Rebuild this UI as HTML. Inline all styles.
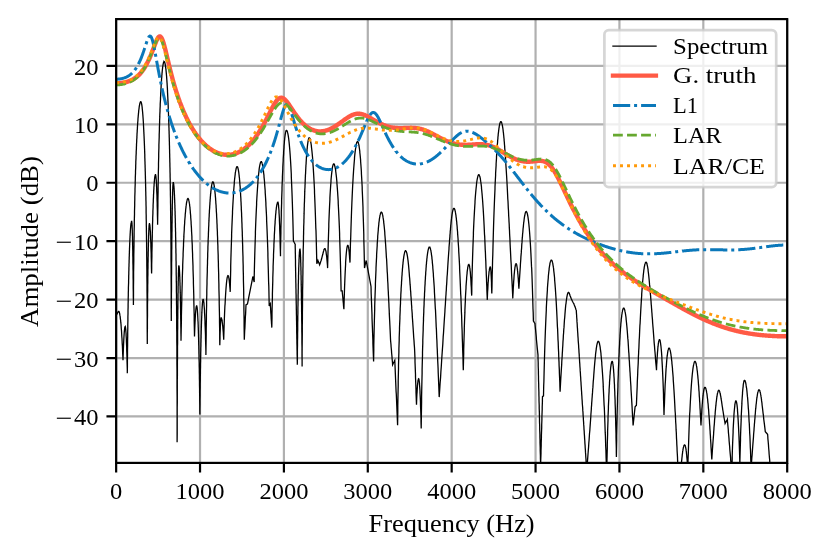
<!DOCTYPE html>
<html><head><meta charset="utf-8"><title>Spectrum</title>
<style>html,body{margin:0;padding:0;background:#fff}svg{display:block}</style></head>
<body>
<svg width="831" height="557" viewBox="0 0 831 557">
<rect width="831" height="557" fill="#fff"/>
<defs><clipPath id="ax"><rect x="116.15" y="19.1" width="671.0500000000001" height="443.79999999999995"/></clipPath></defs>
<path d="M116.15,19.1 V462.9 M200.03,19.1 V462.9 M283.91,19.1 V462.9 M367.79,19.1 V462.9 M451.68,19.1 V462.9 M535.56,19.1 V462.9 M619.44,19.1 V462.9 M703.32,19.1 V462.9 M787.20,19.1 V462.9 M116.15,65.87 H787.2 M116.15,124.30 H787.2 M116.15,182.73 H787.2 M116.15,241.16 H787.2 M116.15,299.59 H787.2 M116.15,358.03 H787.2 M116.15,416.46 H787.2" stroke="#b0b0b0" stroke-width="2.2" fill="none"/>
<g clip-path="url(#ax)" fill="none" stroke-linejoin="round">
<path d="M116.5,314.6 L117.1,313.8 L117.5,313.0 L117.8,312.4 L118.1,312.0 L118.3,311.6 L118.5,311.4 L118.7,311.4 L118.8,311.4 L118.9,311.5 L119.0,311.7 L119.2,312.0 L119.3,312.3 L119.4,312.8 L119.6,313.3 L119.7,313.8 L119.8,314.5 L119.9,315.2 L120.1,316.0 L120.2,316.9 L120.3,317.9 L120.4,319.0 L120.6,320.1 L120.7,321.4 L120.8,322.7 L121.0,324.1 L121.1,325.6 L121.2,327.2 L121.3,328.8 L121.5,330.6 L121.6,332.5 L121.7,334.4 L121.8,336.5 L122.0,338.7 L122.1,341.0 L122.2,343.4 L122.4,345.9 L122.5,348.5 L122.6,351.3 L122.7,354.1 L122.9,357.2 L123.0,360.3 L123.1,357.1 L123.2,354.1 L123.3,351.3 L123.4,348.6 L123.5,346.1 L123.6,343.8 L123.7,341.6 L123.8,339.6 L123.9,337.8 L124.0,336.1 L124.1,334.6 L124.2,333.1 L124.3,331.9 L124.4,330.7 L124.5,329.8 L124.6,328.9 L124.7,328.2 L124.8,327.6 L124.9,327.1 L125.0,326.8 L125.1,326.6 L125.2,326.5 L125.2,326.6 L125.3,326.7 L125.4,327.0 L125.5,327.4 L125.5,327.8 L125.6,328.4 L125.7,329.0 L125.8,329.8 L125.8,330.7 L125.9,331.6 L126.0,332.7 L126.1,333.9 L126.1,335.2 L126.2,336.6 L126.3,338.2 L126.4,339.8 L126.4,341.6 L126.5,343.5 L126.6,345.5 L126.7,347.6 L126.7,349.9 L126.8,352.3 L126.9,354.8 L127.0,357.5 L127.0,360.3 L127.1,363.3 L127.2,366.5 L127.3,369.8 L127.3,373.3 L127.4,367.0 L127.4,361.1 L127.5,355.6 L127.5,350.4 L127.6,345.5 L127.6,340.9 L127.7,336.5 L127.7,332.3 L127.8,328.2 L127.8,324.4 L127.9,320.7 L127.9,317.1 L128.0,313.7 L128.0,310.4 L128.1,307.3 L128.1,304.2 L128.2,301.2 L128.2,298.3 L128.3,295.6 L128.3,292.9 L128.4,290.3 L128.4,287.7 L128.5,285.3 L128.6,282.9 L128.6,280.6 L128.7,278.3 L128.7,276.1 L128.8,274.0 L128.8,272.0 L128.9,270.0 L128.9,268.0 L129.0,266.1 L129.0,264.3 L129.1,262.5 L129.1,260.7 L129.2,259.0 L129.2,257.4 L129.3,255.8 L129.3,254.2 L129.4,252.7 L129.4,251.3 L129.5,249.8 L129.5,248.5 L129.6,247.1 L129.6,245.8 L129.7,244.6 L129.7,243.3 L129.8,242.2 L129.8,241.0 L129.9,239.9 L129.9,238.8 L130.0,237.8 L130.0,236.8 L130.1,235.8 L130.1,234.9 L130.2,234.0 L130.2,233.1 L130.3,232.3 L130.3,231.5 L130.4,230.7 L130.4,230.0 L130.5,229.3 L130.5,228.6 L130.6,228.0 L130.6,227.4 L130.7,226.8 L130.7,226.2 L130.8,225.7 L130.8,225.2 L130.9,224.8 L130.9,224.4 L131.0,224.0 L131.0,223.6 L131.1,223.3 L131.1,222.9 L131.2,222.7 L131.3,222.4 L131.3,222.2 L131.4,222.0 L131.4,221.9 L131.5,221.7 L131.5,221.6 L131.6,221.6 L131.6,221.5 L131.7,221.5 L131.7,221.5 L131.7,221.6 L131.8,221.8 L131.8,222.0 L131.8,222.3 L131.9,222.7 L131.9,223.1 L132.0,223.6 L132.0,224.2 L132.0,224.8 L132.1,225.5 L132.1,226.3 L132.1,227.1 L132.2,228.0 L132.2,229.0 L132.3,230.0 L132.3,231.2 L132.3,232.4 L132.4,233.6 L132.4,235.0 L132.5,236.4 L132.5,237.9 L132.5,239.5 L132.6,241.1 L132.6,242.9 L132.6,244.7 L132.7,246.6 L132.7,248.7 L132.8,250.8 L132.8,253.0 L132.8,255.3 L132.9,257.7 L132.9,260.2 L132.9,262.8 L133.0,265.5 L133.0,268.4 L133.1,271.3 L133.1,274.4 L133.1,277.7 L133.2,281.0 L133.2,284.6 L133.2,288.3 L133.3,292.1 L133.3,296.2 L133.4,300.4 L133.4,304.9 L133.5,295.3 L133.5,287.0 L133.6,279.4 L133.6,272.6 L133.7,266.4 L133.8,260.6 L133.8,255.2 L133.9,250.2 L134.0,245.4 L134.0,240.9 L134.1,236.6 L134.1,232.5 L134.2,228.6 L134.3,224.9 L134.3,221.3 L134.4,217.9 L134.5,214.6 L134.5,211.4 L134.6,208.3 L134.7,205.3 L134.7,202.4 L134.8,199.6 L134.8,196.9 L134.9,194.2 L135.0,191.6 L135.0,189.1 L135.1,186.7 L135.2,184.3 L135.2,182.0 L135.3,179.8 L135.3,177.6 L135.4,175.5 L135.5,173.4 L135.5,171.3 L135.6,169.4 L135.7,167.4 L135.7,165.5 L135.8,163.7 L135.8,161.8 L135.9,160.1 L136.0,158.3 L136.0,156.6 L136.1,155.0 L136.2,153.4 L136.2,151.8 L136.3,150.2 L136.4,148.7 L136.4,147.2 L136.5,145.8 L136.5,144.4 L136.6,143.0 L136.7,141.6 L136.7,140.3 L136.8,139.0 L136.9,137.7 L136.9,136.5 L137.0,135.3 L137.0,134.1 L137.1,132.9 L137.2,131.8 L137.2,130.6 L137.3,129.6 L137.4,128.5 L137.4,127.5 L137.5,126.4 L137.5,125.5 L137.6,124.5 L137.7,123.5 L137.7,122.6 L137.8,121.7 L137.9,120.8 L137.9,120.0 L138.0,119.2 L138.0,118.4 L138.1,117.6 L138.2,116.8 L138.2,116.0 L138.3,115.3 L138.4,114.6 L138.4,113.9 L138.5,113.3 L138.6,112.6 L138.6,112.0 L138.7,111.4 L138.7,110.8 L138.8,110.2 L138.9,109.7 L138.9,109.2 L139.0,108.6 L139.1,108.2 L139.1,107.7 L139.2,107.2 L139.2,106.8 L139.3,106.4 L139.4,106.0 L139.4,105.6 L139.5,105.2 L139.6,104.9 L139.6,104.6 L139.7,104.3 L139.7,104.0 L139.8,103.7 L139.9,103.4 L139.9,103.2 L140.0,103.0 L140.1,102.8 L140.1,102.6 L140.2,102.4 L140.3,102.3 L140.3,102.2 L140.4,102.0 L140.4,102.0 L140.5,101.9 L140.6,101.8 L140.6,101.8 L140.7,101.7 L140.8,101.7 L140.8,101.7 L140.9,101.8 L140.9,101.8 L140.9,101.8 L141.0,101.9 L141.0,102.0 L141.1,102.1 L141.1,102.2 L141.2,102.3 L141.2,102.4 L141.3,102.6 L141.3,102.7 L141.4,102.9 L141.4,103.1 L141.5,103.3 L141.5,103.5 L141.6,103.7 L141.6,104.0 L141.7,104.2 L141.7,104.5 L141.8,104.8 L141.8,105.1 L141.9,105.4 L141.9,105.7 L142.0,106.1 L142.0,106.4 L142.1,106.8 L142.1,107.2 L142.2,107.6 L142.2,108.0 L142.2,108.4 L142.3,108.8 L142.3,109.3 L142.4,109.8 L142.4,110.3 L142.5,110.8 L142.5,111.3 L142.6,111.8 L142.6,112.4 L142.7,112.9 L142.7,113.5 L142.8,114.1 L142.8,114.7 L142.9,115.4 L142.9,116.0 L143.0,116.7 L143.0,117.4 L143.1,118.0 L143.1,118.8 L143.2,119.5 L143.2,120.2 L143.3,121.0 L143.3,121.8 L143.4,122.6 L143.4,123.4 L143.5,124.2 L143.5,125.1 L143.5,125.9 L143.6,126.8 L143.6,127.7 L143.7,128.7 L143.7,129.6 L143.8,130.6 L143.8,131.6 L143.9,132.6 L143.9,133.6 L144.0,134.6 L144.0,135.7 L144.1,136.8 L144.1,137.9 L144.2,139.0 L144.2,140.2 L144.3,141.4 L144.3,142.6 L144.4,143.8 L144.4,145.0 L144.5,146.3 L144.5,147.6 L144.6,148.9 L144.6,150.3 L144.7,151.7 L144.7,153.1 L144.8,154.5 L144.8,155.9 L144.8,157.4 L144.9,158.9 L144.9,160.5 L145.0,162.1 L145.0,163.7 L145.1,165.3 L145.1,167.0 L145.2,168.7 L145.2,170.5 L145.3,172.3 L145.3,174.1 L145.4,176.0 L145.4,177.9 L145.5,179.8 L145.5,181.8 L145.6,183.8 L145.6,185.9 L145.7,188.1 L145.7,190.3 L145.8,192.5 L145.8,194.8 L145.9,197.2 L145.9,199.6 L146.0,202.1 L146.0,204.6 L146.1,207.3 L146.1,210.0 L146.1,212.8 L146.2,215.6 L146.2,218.6 L146.3,221.7 L146.3,224.9 L146.4,228.2 L146.4,231.6 L146.5,235.2 L146.5,238.9 L146.6,242.8 L146.6,246.9 L146.7,251.2 L146.7,255.7 L146.8,260.5 L146.8,265.6 L146.9,271.1 L146.9,276.9 L147.0,283.3 L147.0,290.3 L147.1,298.1 L147.1,306.9 L147.2,317.0 L147.2,329.1 L147.3,344.1 L147.3,338.8 L147.3,333.7 L147.4,329.0 L147.4,324.4 L147.4,320.1 L147.5,316.0 L147.5,312.0 L147.5,308.3 L147.5,304.6 L147.6,301.1 L147.6,297.8 L147.6,294.6 L147.7,291.5 L147.7,288.5 L147.7,285.6 L147.8,282.8 L147.8,280.1 L147.8,277.5 L147.9,275.0 L147.9,272.6 L147.9,270.2 L148.0,267.9 L148.0,265.7 L148.0,263.6 L148.1,261.6 L148.1,259.6 L148.1,257.7 L148.2,255.8 L148.2,254.0 L148.2,252.3 L148.3,250.7 L148.3,249.0 L148.3,247.5 L148.4,246.0 L148.4,244.6 L148.4,243.2 L148.5,241.9 L148.5,240.6 L148.5,239.4 L148.6,238.2 L148.6,237.1 L148.6,236.0 L148.7,234.9 L148.7,234.0 L148.7,233.0 L148.8,232.1 L148.8,231.3 L148.8,230.5 L148.9,229.8 L148.9,229.1 L148.9,228.4 L149.0,227.8 L149.0,227.2 L149.0,226.7 L149.1,226.2 L149.1,225.8 L149.1,225.4 L149.2,225.0 L149.2,224.7 L149.2,224.4 L149.3,224.2 L149.3,224.0 L149.3,223.9 L149.4,223.7 L149.4,223.7 L149.4,223.7 L149.5,223.7 L149.6,223.9 L149.6,224.1 L149.7,224.5 L149.8,224.9 L149.9,225.5 L149.9,226.1 L150.0,226.9 L150.1,227.7 L150.1,228.7 L150.2,229.8 L150.3,230.9 L150.4,232.2 L150.4,233.6 L150.5,235.1 L150.6,236.8 L150.6,238.5 L150.7,240.4 L150.8,242.4 L150.9,244.5 L150.9,246.7 L151.0,249.1 L151.1,251.6 L151.2,254.2 L151.2,257.0 L151.3,260.0 L151.4,263.1 L151.4,266.4 L151.5,269.8 L151.6,273.5 L151.7,269.0 L151.7,264.7 L151.8,260.7 L151.9,256.8 L151.9,253.0 L152.0,249.4 L152.1,246.0 L152.1,242.7 L152.2,239.5 L152.3,236.4 L152.3,233.5 L152.4,230.7 L152.5,227.9 L152.5,225.3 L152.6,222.7 L152.7,220.3 L152.7,217.9 L152.8,215.6 L152.9,213.4 L152.9,211.3 L153.0,209.2 L153.1,207.3 L153.1,205.3 L153.2,203.5 L153.3,201.7 L153.3,200.0 L153.4,198.4 L153.5,196.8 L153.5,195.3 L153.6,193.9 L153.7,192.5 L153.7,191.1 L153.8,189.9 L153.9,188.6 L153.9,187.5 L154.0,186.4 L154.1,185.3 L154.1,184.3 L154.2,183.3 L154.3,182.5 L154.3,181.6 L154.4,180.8 L154.5,180.1 L154.5,179.4 L154.6,178.7 L154.7,178.1 L154.7,177.6 L154.8,177.1 L154.9,176.6 L154.9,176.2 L155.0,175.9 L155.1,175.6 L155.1,175.3 L155.2,175.1 L155.3,174.9 L155.3,174.8 L155.4,174.7 L155.5,174.7 L155.6,174.8 L155.6,174.9 L155.7,175.1 L155.8,175.5 L155.8,175.9 L155.9,176.4 L156.0,177.0 L156.0,177.7 L156.1,178.5 L156.2,179.5 L156.3,180.5 L156.3,181.6 L156.4,182.8 L156.5,184.1 L156.5,185.5 L156.6,187.0 L156.7,188.7 L156.7,190.4 L156.8,192.2 L156.9,194.2 L157.0,196.3 L157.0,198.5 L157.1,200.9 L157.2,203.3 L157.2,205.9 L157.3,208.7 L157.4,211.6 L157.4,214.6 L157.5,217.8 L157.6,221.2 L157.6,224.7 L157.7,218.1 L157.8,212.0 L157.9,206.3 L157.9,200.9 L158.0,195.9 L158.1,191.2 L158.1,186.7 L158.2,182.4 L158.3,178.3 L158.3,174.4 L158.4,170.6 L158.5,167.0 L158.5,163.5 L158.6,160.2 L158.7,157.0 L158.7,153.9 L158.8,150.8 L158.9,147.9 L158.9,145.1 L159.0,142.4 L159.1,139.7 L159.2,137.1 L159.2,134.6 L159.3,132.2 L159.4,129.8 L159.4,127.5 L159.5,125.3 L159.6,123.1 L159.6,121.0 L159.7,119.0 L159.8,116.9 L159.8,115.0 L159.9,113.1 L160.0,111.2 L160.0,109.4 L160.1,107.7 L160.2,105.9 L160.2,104.3 L160.3,102.6 L160.4,101.0 L160.5,99.5 L160.5,98.0 L160.6,96.5 L160.7,95.1 L160.7,93.7 L160.8,92.3 L160.9,91.0 L160.9,89.7 L161.0,88.4 L161.1,87.2 L161.1,86.0 L161.2,84.9 L161.3,83.7 L161.3,82.6 L161.4,81.6 L161.5,80.6 L161.5,79.6 L161.6,78.6 L161.7,77.7 L161.8,76.7 L161.8,75.9 L161.9,75.0 L162.0,74.2 L162.0,73.4 L162.1,72.6 L162.2,71.9 L162.2,71.2 L162.3,70.5 L162.4,69.8 L162.4,69.2 L162.5,68.6 L162.6,68.0 L162.6,67.4 L162.7,66.9 L162.8,66.4 L162.8,65.9 L162.9,65.5 L163.0,65.0 L163.1,64.6 L163.1,64.3 L163.2,63.9 L163.3,63.6 L163.3,63.3 L163.4,63.0 L163.5,62.8 L163.5,62.5 L163.6,62.3 L163.7,62.1 L163.7,62.0 L163.8,61.8 L163.9,61.7 L163.9,61.7 L164.0,61.6 L164.1,61.6 L164.1,61.5 L164.2,61.6 L164.2,61.6 L164.3,61.6 L164.3,61.6 L164.4,61.7 L164.4,61.8 L164.5,61.8 L164.5,61.9 L164.6,62.0 L164.6,62.2 L164.7,62.3 L164.7,62.4 L164.8,62.6 L164.8,62.7 L164.9,62.9 L164.9,63.1 L165.0,63.3 L165.0,63.5 L165.1,63.7 L165.1,64.0 L165.2,64.2 L165.2,64.5 L165.3,64.8 L165.3,65.0 L165.4,65.3 L165.4,65.6 L165.5,66.0 L165.5,66.3 L165.6,66.7 L165.6,67.0 L165.7,67.4 L165.7,67.8 L165.8,68.2 L165.8,68.6 L165.9,69.0 L165.9,69.5 L166.0,69.9 L166.0,70.4 L166.1,70.9 L166.1,71.4 L166.2,71.9 L166.2,72.4 L166.3,72.9 L166.3,73.5 L166.4,74.0 L166.4,74.6 L166.5,75.2 L166.5,75.8 L166.6,76.4 L166.6,77.1 L166.7,77.7 L166.7,78.4 L166.8,79.1 L166.8,79.7 L166.9,80.5 L166.9,81.2 L167.0,81.9 L167.0,82.7 L167.1,83.4 L167.1,84.2 L167.2,85.0 L167.2,85.8 L167.3,86.7 L167.3,87.5 L167.4,88.4 L167.4,89.3 L167.5,90.2 L167.5,91.1 L167.5,92.0 L167.6,93.0 L167.6,94.0 L167.7,94.9 L167.7,96.0 L167.8,97.0 L167.8,98.0 L167.9,99.1 L167.9,100.2 L168.0,101.3 L168.0,102.4 L168.1,103.6 L168.1,104.7 L168.2,105.9 L168.2,107.1 L168.3,108.4 L168.3,109.6 L168.4,110.9 L168.4,112.2 L168.5,113.5 L168.5,114.9 L168.6,116.3 L168.6,117.7 L168.7,119.1 L168.7,120.5 L168.8,122.0 L168.8,123.5 L168.9,125.1 L168.9,126.7 L169.0,128.3 L169.0,129.9 L169.1,131.5 L169.1,133.2 L169.2,135.0 L169.2,136.8 L169.3,138.6 L169.3,140.4 L169.4,142.3 L169.4,144.2 L169.5,146.2 L169.5,148.2 L169.6,150.2 L169.6,152.3 L169.7,154.5 L169.7,156.7 L169.8,159.0 L169.8,161.3 L169.9,163.7 L169.9,166.1 L170.0,168.6 L170.0,171.2 L170.1,173.9 L170.1,176.6 L170.2,179.4 L170.2,182.3 L170.3,185.3 L170.3,188.4 L170.4,191.7 L170.4,195.0 L170.5,198.5 L170.5,202.1 L170.6,205.9 L170.6,209.9 L170.7,214.1 L170.7,218.5 L170.8,223.2 L170.8,228.1 L170.9,233.4 L170.9,239.1 L171.0,245.3 L171.0,252.0 L171.0,259.5 L171.1,267.9 L171.1,277.6 L171.2,288.9 L171.2,302.9 L171.3,321.1 L171.3,315.1 L171.3,309.4 L171.4,304.1 L171.4,299.1 L171.4,294.3 L171.5,289.8 L171.5,285.5 L171.5,281.3 L171.5,277.4 L171.6,273.6 L171.6,270.0 L171.6,266.5 L171.6,263.2 L171.7,259.9 L171.7,256.8 L171.7,253.8 L171.7,250.9 L171.8,248.1 L171.8,245.4 L171.8,242.8 L171.8,240.2 L171.9,237.8 L171.9,235.4 L171.9,233.1 L172.0,230.8 L172.0,228.7 L172.0,226.6 L172.0,224.5 L172.1,222.6 L172.1,220.7 L172.1,218.8 L172.1,217.0 L172.2,215.3 L172.2,213.6 L172.2,212.0 L172.2,210.4 L172.3,208.9 L172.3,207.4 L172.3,206.0 L172.3,204.6 L172.4,203.3 L172.4,202.0 L172.4,200.8 L172.5,199.6 L172.5,198.5 L172.5,197.4 L172.5,196.3 L172.6,195.3 L172.6,194.3 L172.6,193.4 L172.6,192.5 L172.7,191.7 L172.7,190.9 L172.7,190.1 L172.7,189.4 L172.8,188.7 L172.8,188.0 L172.8,187.4 L172.8,186.8 L172.9,186.3 L172.9,185.8 L172.9,185.4 L173.0,184.9 L173.0,184.6 L173.0,184.2 L173.0,183.9 L173.1,183.6 L173.1,183.4 L173.1,183.2 L173.1,183.0 L173.2,182.9 L173.2,182.8 L173.2,182.8 L173.2,182.7 L173.3,182.7 L173.3,182.8 L173.3,182.8 L173.4,182.8 L173.4,182.9 L173.4,183.0 L173.4,183.1 L173.5,183.2 L173.5,183.3 L173.5,183.4 L173.6,183.5 L173.6,183.7 L173.6,183.9 L173.6,184.0 L173.7,184.2 L173.7,184.4 L173.7,184.7 L173.8,184.9 L173.8,185.1 L173.8,185.4 L173.8,185.7 L173.9,186.0 L173.9,186.3 L173.9,186.6 L174.0,186.9 L174.0,187.3 L174.0,187.6 L174.0,188.0 L174.1,188.4 L174.1,188.8 L174.1,189.2 L174.1,189.6 L174.2,190.1 L174.2,190.5 L174.2,191.0 L174.3,191.5 L174.3,192.0 L174.3,192.5 L174.3,193.1 L174.4,193.6 L174.4,194.2 L174.4,194.7 L174.5,195.3 L174.5,195.9 L174.5,196.6 L174.5,197.2 L174.6,197.9 L174.6,198.5 L174.6,199.2 L174.7,199.9 L174.7,200.6 L174.7,201.4 L174.7,202.1 L174.8,202.9 L174.8,203.7 L174.8,204.5 L174.9,205.3 L174.9,206.2 L174.9,207.0 L174.9,207.9 L175.0,208.8 L175.0,209.7 L175.0,210.6 L175.1,211.6 L175.1,212.6 L175.1,213.6 L175.1,214.6 L175.2,215.6 L175.2,216.6 L175.2,217.7 L175.3,218.8 L175.3,219.9 L175.3,221.0 L175.3,222.2 L175.4,223.4 L175.4,224.6 L175.4,225.8 L175.4,227.1 L175.5,228.3 L175.5,229.6 L175.5,230.9 L175.6,232.3 L175.6,233.7 L175.6,235.1 L175.6,236.5 L175.7,237.9 L175.7,239.4 L175.7,240.9 L175.8,242.5 L175.8,244.1 L175.8,245.7 L175.8,247.3 L175.9,249.0 L175.9,250.7 L175.9,252.4 L176.0,254.2 L176.0,256.0 L176.0,257.9 L176.0,259.8 L176.1,261.7 L176.1,263.7 L176.1,265.7 L176.2,267.8 L176.2,269.9 L176.2,272.1 L176.2,274.3 L176.3,276.6 L176.3,279.0 L176.3,281.4 L176.4,283.8 L176.4,286.4 L176.4,289.0 L176.4,291.7 L176.5,294.4 L176.5,297.3 L176.5,300.3 L176.5,303.3 L176.6,306.5 L176.6,309.7 L176.6,313.1 L176.7,316.7 L176.7,320.4 L176.7,324.2 L176.7,328.2 L176.8,332.5 L176.8,337.0 L176.8,341.7 L176.9,346.7 L176.9,352.1 L176.9,357.9 L176.9,364.2 L177.0,371.1 L177.0,378.7 L177.0,387.3 L177.1,397.1 L177.1,408.8 L177.1,423.2 L177.1,442.2 L177.2,434.1 L177.2,426.8 L177.2,420.1 L177.2,413.9 L177.2,408.1 L177.3,402.7 L177.3,397.6 L177.3,392.9 L177.3,388.3 L177.3,384.0 L177.3,379.8 L177.4,375.9 L177.4,372.1 L177.4,368.5 L177.4,365.0 L177.4,361.6 L177.5,358.4 L177.5,355.2 L177.5,352.2 L177.5,349.3 L177.5,346.4 L177.6,343.7 L177.6,341.0 L177.6,338.4 L177.6,335.9 L177.6,333.5 L177.6,331.1 L177.7,328.8 L177.7,326.6 L177.7,324.4 L177.7,322.3 L177.7,320.2 L177.8,318.2 L177.8,316.3 L177.8,314.4 L177.8,312.5 L177.8,310.7 L177.9,309.0 L177.9,307.2 L177.9,305.6 L177.9,304.0 L177.9,302.4 L177.9,300.9 L178.0,299.4 L178.0,297.9 L178.0,296.5 L178.0,295.1 L178.0,293.8 L178.1,292.5 L178.1,291.2 L178.1,290.0 L178.1,288.8 L178.1,287.7 L178.1,286.5 L178.2,285.4 L178.2,284.4 L178.2,283.4 L178.2,282.4 L178.2,281.4 L178.3,280.5 L178.3,279.6 L178.3,278.7 L178.3,277.9 L178.3,277.1 L178.4,276.3 L178.4,275.6 L178.4,274.9 L178.4,274.2 L178.4,273.5 L178.4,272.9 L178.5,272.3 L178.5,271.7 L178.5,271.2 L178.5,270.6 L178.5,270.2 L178.6,269.7 L178.6,269.3 L178.6,268.8 L178.6,268.5 L178.6,268.1 L178.7,267.8 L178.7,267.5 L178.7,267.2 L178.7,267.0 L178.7,266.7 L178.7,266.5 L178.8,266.4 L178.8,266.2 L178.8,266.1 L178.8,266.0 L178.8,266.0 L178.9,265.9 L178.9,265.9 L178.9,265.9 L179.0,266.0 L179.0,266.2 L179.1,266.5 L179.1,266.8 L179.2,267.1 L179.2,267.6 L179.3,268.1 L179.3,268.7 L179.4,269.4 L179.4,270.1 L179.5,270.9 L179.5,271.8 L179.6,272.7 L179.6,273.8 L179.7,274.9 L179.7,276.1 L179.8,277.3 L179.8,278.6 L179.9,280.1 L179.9,281.6 L180.0,283.1 L180.0,284.8 L180.1,286.6 L180.1,288.4 L180.2,290.3 L180.2,292.4 L180.3,294.5 L180.3,296.7 L180.4,299.1 L180.4,301.5 L180.5,304.0 L180.5,306.7 L180.6,309.5 L180.6,312.4 L180.7,315.4 L180.7,318.5 L180.8,321.9 L180.8,325.3 L180.9,328.9 L180.9,332.7 L181.0,336.7 L181.0,340.8 L181.1,335.3 L181.2,330.1 L181.3,325.2 L181.4,320.6 L181.4,316.2 L181.5,312.0 L181.6,308.0 L181.7,304.1 L181.8,300.4 L181.8,296.9 L181.9,293.5 L182.0,290.2 L182.1,287.0 L182.2,283.9 L182.3,281.0 L182.3,278.1 L182.4,275.3 L182.5,272.6 L182.6,270.0 L182.7,267.5 L182.7,265.0 L182.8,262.6 L182.9,260.3 L183.0,258.0 L183.1,255.8 L183.1,253.7 L183.2,251.6 L183.3,249.6 L183.4,247.6 L183.5,245.7 L183.5,243.9 L183.6,242.1 L183.7,240.3 L183.8,238.6 L183.9,236.9 L183.9,235.3 L184.0,233.7 L184.1,232.2 L184.2,230.7 L184.3,229.3 L184.3,227.9 L184.4,226.5 L184.5,225.2 L184.6,223.9 L184.7,222.6 L184.7,221.4 L184.8,220.2 L184.9,219.1 L185.0,218.0 L185.1,216.9 L185.2,215.8 L185.2,214.8 L185.3,213.9 L185.4,212.9 L185.5,212.0 L185.6,211.1 L185.6,210.3 L185.7,209.5 L185.8,208.7 L185.9,207.9 L186.0,207.2 L186.0,206.5 L186.1,205.9 L186.2,205.2 L186.3,204.6 L186.4,204.1 L186.4,203.5 L186.5,203.0 L186.6,202.5 L186.7,202.1 L186.8,201.6 L186.8,201.2 L186.9,200.9 L187.0,200.5 L187.1,200.2 L187.2,199.9 L187.2,199.7 L187.3,199.4 L187.4,199.2 L187.5,199.0 L187.6,198.9 L187.7,198.8 L187.7,198.7 L187.8,198.6 L187.9,198.6 L188.0,198.5 L188.1,198.6 L188.1,198.6 L188.2,198.7 L188.3,198.8 L188.4,198.9 L188.4,199.1 L188.5,199.3 L188.6,199.5 L188.7,199.7 L188.8,200.0 L188.8,200.3 L188.9,200.7 L189.0,201.0 L189.1,201.5 L189.2,201.9 L189.2,202.3 L189.3,202.8 L189.4,203.4 L189.5,203.9 L189.6,204.5 L189.6,205.1 L189.7,205.8 L189.8,206.5 L189.9,207.2 L190.0,207.9 L190.0,208.7 L190.1,209.5 L190.2,210.4 L190.3,211.3 L190.3,212.2 L190.4,213.1 L190.5,214.1 L190.6,215.1 L190.7,216.2 L190.7,217.3 L190.8,218.4 L190.9,219.6 L191.0,220.8 L191.1,222.0 L191.1,223.3 L191.2,224.6 L191.3,226.0 L191.4,227.4 L191.5,228.9 L191.5,230.4 L191.6,231.9 L191.7,233.5 L191.8,235.1 L191.9,236.8 L191.9,238.5 L192.0,240.3 L192.1,242.1 L192.2,244.0 L192.3,246.0 L192.3,248.0 L192.4,250.0 L192.5,252.1 L192.6,254.3 L192.6,256.5 L192.7,258.8 L192.8,261.2 L192.9,263.6 L193.0,266.2 L193.0,268.7 L193.1,271.4 L193.2,274.2 L193.3,277.0 L193.4,280.0 L193.4,283.1 L193.5,286.2 L193.6,289.5 L193.7,292.9 L193.8,296.4 L193.8,300.1 L193.9,303.9 L194.0,307.9 L194.1,312.1 L194.2,316.5 L194.2,321.1 L194.3,325.9 L194.4,331.0 L194.5,336.5 L194.6,333.5 L194.7,330.7 L194.8,328.0 L194.9,325.5 L195.0,323.2 L195.1,321.1 L195.2,319.1 L195.3,317.2 L195.4,315.5 L195.5,314.0 L195.6,312.6 L195.7,311.3 L195.8,310.2 L195.9,309.2 L196.0,308.3 L196.1,307.6 L196.2,307.0 L196.3,306.6 L196.4,306.2 L196.5,306.0 L196.6,306.0 L196.7,306.0 L196.7,306.1 L196.8,306.2 L196.8,306.3 L196.9,306.5 L197.0,306.8 L197.0,307.0 L197.1,307.4 L197.1,307.8 L197.2,308.2 L197.2,308.6 L197.3,309.2 L197.3,309.7 L197.4,310.3 L197.4,311.0 L197.5,311.7 L197.5,312.4 L197.6,313.2 L197.6,314.0 L197.7,314.9 L197.7,315.9 L197.8,316.9 L197.8,317.9 L197.9,319.0 L197.9,320.1 L198.0,321.3 L198.1,322.6 L198.1,323.8 L198.2,325.2 L198.2,326.6 L198.3,328.1 L198.3,329.6 L198.4,331.2 L198.4,332.8 L198.5,334.5 L198.5,336.3 L198.6,338.1 L198.6,340.0 L198.7,342.0 L198.7,344.0 L198.8,346.2 L198.8,348.3 L198.9,350.6 L198.9,353.0 L199.0,355.4 L199.0,357.9 L199.1,360.5 L199.2,363.2 L199.2,366.0 L199.3,368.9 L199.3,371.9 L199.4,375.0 L199.4,378.3 L199.5,381.6 L199.5,385.1 L199.6,388.8 L199.6,392.6 L199.7,396.6 L199.7,400.7 L199.8,405.1 L199.8,409.7 L199.9,414.5 L199.9,409.4 L200.0,404.7 L200.0,400.2 L200.1,395.8 L200.1,391.7 L200.2,387.8 L200.2,384.0 L200.3,380.4 L200.3,376.9 L200.4,373.6 L200.4,370.3 L200.5,367.2 L200.5,364.2 L200.6,361.4 L200.6,358.6 L200.7,355.9 L200.7,353.3 L200.8,350.8 L200.8,348.3 L200.9,346.0 L200.9,343.7 L201.0,341.5 L201.0,339.4 L201.1,337.4 L201.1,335.4 L201.2,333.5 L201.2,331.6 L201.3,329.8 L201.3,328.1 L201.4,326.4 L201.4,324.8 L201.5,323.3 L201.5,321.8 L201.6,320.4 L201.6,319.0 L201.7,317.7 L201.7,316.4 L201.8,315.2 L201.8,314.0 L201.9,312.9 L201.9,311.8 L202.0,310.7 L202.0,309.8 L202.1,308.8 L202.1,308.0 L202.2,307.1 L202.2,306.3 L202.3,305.6 L202.3,304.9 L202.4,304.2 L202.4,303.6 L202.5,303.0 L202.5,302.5 L202.6,302.0 L202.6,301.6 L202.7,301.2 L202.7,300.8 L202.8,300.5 L202.8,300.2 L202.9,300.0 L202.9,299.8 L203.0,299.7 L203.0,299.6 L203.1,299.5 L203.1,299.5 L203.2,299.5 L203.3,299.6 L203.4,299.9 L203.5,300.2 L203.5,300.5 L203.6,301.0 L203.7,301.6 L203.8,302.2 L203.9,302.9 L204.0,303.8 L204.0,304.7 L204.1,305.7 L204.2,306.8 L204.3,308.0 L204.4,309.3 L204.5,310.6 L204.5,312.1 L204.6,313.7 L204.7,315.4 L204.8,317.1 L204.9,319.0 L205.0,321.0 L205.0,323.1 L205.1,325.4 L205.2,327.7 L205.3,330.2 L205.4,332.8 L205.5,335.5 L205.5,338.3 L205.6,341.3 L205.7,344.5 L205.8,347.8 L205.9,351.3 L205.9,354.9 L206.0,347.7 L206.1,341.2 L206.2,335.1 L206.2,329.5 L206.3,324.2 L206.4,319.3 L206.4,314.6 L206.5,310.1 L206.6,305.9 L206.6,301.8 L206.7,298.0 L206.8,294.3 L206.8,290.7 L206.9,287.3 L207.0,283.9 L207.0,280.8 L207.1,277.7 L207.2,274.7 L207.3,271.8 L207.3,269.0 L207.4,266.3 L207.5,263.6 L207.5,261.1 L207.6,258.6 L207.7,256.2 L207.7,253.8 L207.8,251.5 L207.9,249.3 L207.9,247.1 L208.0,245.0 L208.1,243.0 L208.1,240.9 L208.2,239.0 L208.3,237.1 L208.4,235.2 L208.4,233.4 L208.5,231.6 L208.6,229.9 L208.6,228.2 L208.7,226.6 L208.8,225.0 L208.8,223.4 L208.9,221.9 L209.0,220.4 L209.0,218.9 L209.1,217.5 L209.2,216.1 L209.2,214.8 L209.3,213.4 L209.4,212.2 L209.4,210.9 L209.5,209.7 L209.6,208.5 L209.7,207.3 L209.7,206.2 L209.8,205.1 L209.9,204.0 L209.9,203.0 L210.0,202.0 L210.1,201.0 L210.1,200.0 L210.2,199.1 L210.3,198.2 L210.3,197.3 L210.4,196.5 L210.5,195.7 L210.5,194.9 L210.6,194.1 L210.7,193.3 L210.8,192.6 L210.8,191.9 L210.9,191.2 L211.0,190.6 L211.0,190.0 L211.1,189.4 L211.2,188.8 L211.2,188.3 L211.3,187.7 L211.4,187.2 L211.4,186.7 L211.5,186.3 L211.6,185.9 L211.6,185.4 L211.7,185.1 L211.8,184.7 L211.9,184.3 L211.9,184.0 L212.0,183.7 L212.1,183.5 L212.1,183.2 L212.2,183.0 L212.3,182.8 L212.3,182.6 L212.4,182.4 L212.5,182.3 L212.5,182.1 L212.6,182.0 L212.7,182.0 L212.7,181.9 L212.8,181.9 L212.9,181.9 L213.0,181.9 L213.0,181.9 L213.1,182.0 L213.2,182.1 L213.2,182.2 L213.3,182.3 L213.4,182.4 L213.5,182.6 L213.5,182.8 L213.6,183.1 L213.7,183.3 L213.7,183.6 L213.8,183.9 L213.9,184.2 L214.0,184.5 L214.0,184.9 L214.1,185.3 L214.2,185.7 L214.3,186.2 L214.3,186.6 L214.4,187.1 L214.5,187.6 L214.5,188.2 L214.6,188.8 L214.7,189.3 L214.8,190.0 L214.8,190.6 L214.9,191.3 L215.0,192.0 L215.0,192.7 L215.1,193.5 L215.2,194.2 L215.3,195.0 L215.3,195.9 L215.4,196.7 L215.5,197.6 L215.6,198.6 L215.6,199.5 L215.7,200.5 L215.8,201.5 L215.8,202.5 L215.9,203.6 L216.0,204.7 L216.1,205.8 L216.1,207.0 L216.2,208.2 L216.3,209.4 L216.3,210.7 L216.4,212.0 L216.5,213.3 L216.6,214.6 L216.6,216.0 L216.7,217.5 L216.8,219.0 L216.9,220.5 L216.9,222.0 L217.0,223.6 L217.1,225.3 L217.1,226.9 L217.2,228.6 L217.3,230.4 L217.4,232.2 L217.4,234.1 L217.5,236.0 L217.6,237.9 L217.6,239.9 L217.7,242.0 L217.8,244.1 L217.9,246.3 L217.9,248.5 L218.0,250.8 L218.1,253.2 L218.2,255.6 L218.2,258.1 L218.3,260.6 L218.4,263.3 L218.4,266.0 L218.5,268.8 L218.6,271.7 L218.7,274.7 L218.7,277.8 L218.8,281.0 L218.9,284.4 L218.9,287.8 L219.0,291.4 L219.1,295.1 L219.2,299.0 L219.2,303.1 L219.3,307.4 L219.4,311.8 L219.5,316.5 L219.5,321.5 L219.6,326.8 L219.7,332.5 L219.7,338.6 L219.8,345.2 L219.9,341.9 L220.0,338.8 L220.0,336.0 L220.1,333.5 L220.2,331.1 L220.3,328.9 L220.3,327.0 L220.4,325.2 L220.5,323.7 L220.6,322.3 L220.7,321.1 L220.7,320.1 L220.8,319.3 L220.9,318.7 L221.0,318.2 L221.0,318.0 L221.1,317.9 L221.3,318.0 L221.4,318.2 L221.6,318.5 L221.7,319.0 L221.9,319.7 L222.0,320.5 L222.2,321.5 L222.3,322.6 L222.5,323.8 L222.6,325.2 L222.8,326.8 L222.9,328.5 L223.1,330.4 L223.3,332.5 L223.4,334.7 L223.6,337.1 L223.7,339.7 L223.8,336.2 L223.9,332.9 L224.0,329.6 L224.1,326.5 L224.2,323.6 L224.3,320.7 L224.4,318.0 L224.5,315.4 L224.6,312.9 L224.7,310.5 L224.8,308.2 L224.9,306.0 L225.1,303.9 L225.2,301.8 L225.3,299.9 L225.4,298.0 L225.5,296.3 L225.6,294.6 L225.7,293.0 L225.8,291.5 L225.9,290.0 L226.0,288.6 L226.1,287.4 L226.2,286.1 L226.3,285.0 L226.4,283.9 L226.5,282.9 L226.6,281.9 L226.7,281.1 L226.8,280.2 L226.9,279.5 L227.0,278.8 L227.1,278.2 L227.2,277.7 L227.3,277.2 L227.4,276.8 L227.5,276.4 L227.6,276.2 L227.7,275.9 L227.8,275.8 L227.9,275.7 L228.0,275.6 L228.2,275.7 L228.4,276.0 L228.5,276.4 L228.7,276.9 L228.8,277.7 L229.0,278.6 L229.1,279.6 L229.3,280.8 L229.4,282.2 L229.6,283.8 L229.7,285.5 L229.9,287.5 L230.1,289.6 L230.2,291.9 L230.3,287.0 L230.4,282.4 L230.5,278.0 L230.6,273.7 L230.7,269.7 L230.7,265.9 L230.8,262.2 L230.9,258.6 L231.0,255.2 L231.1,251.9 L231.2,248.7 L231.3,245.7 L231.4,242.7 L231.5,239.8 L231.6,237.1 L231.6,234.4 L231.7,231.8 L231.8,229.3 L231.9,226.8 L232.0,224.4 L232.1,222.1 L232.2,219.9 L232.3,217.7 L232.4,215.6 L232.5,213.6 L232.5,211.6 L232.6,209.7 L232.7,207.8 L232.8,206.0 L232.9,204.2 L233.0,202.5 L233.1,200.8 L233.2,199.2 L233.3,197.7 L233.4,196.2 L233.4,194.7 L233.5,193.3 L233.6,191.9 L233.7,190.5 L233.8,189.2 L233.9,188.0 L234.0,186.8 L234.1,185.6 L234.2,184.4 L234.3,183.4 L234.3,182.3 L234.4,181.3 L234.5,180.3 L234.6,179.3 L234.7,178.4 L234.8,177.6 L234.9,176.7 L235.0,175.9 L235.1,175.2 L235.2,174.4 L235.2,173.7 L235.3,173.1 L235.4,172.4 L235.5,171.9 L235.6,171.3 L235.7,170.8 L235.8,170.3 L235.9,169.8 L236.0,169.4 L236.1,169.0 L236.1,168.6 L236.2,168.3 L236.3,168.0 L236.4,167.7 L236.5,167.5 L236.6,167.3 L236.7,167.1 L236.8,167.0 L236.9,166.9 L237.0,166.8 L237.0,166.7 L237.1,166.7 L237.2,166.7 L237.3,166.8 L237.3,166.8 L237.4,166.9 L237.5,167.0 L237.6,167.1 L237.6,167.2 L237.7,167.4 L237.8,167.6 L237.8,167.8 L237.9,168.0 L238.0,168.3 L238.0,168.5 L238.1,168.8 L238.2,169.1 L238.3,169.5 L238.3,169.8 L238.4,170.2 L238.5,170.6 L238.5,171.0 L238.6,171.5 L238.7,172.0 L238.8,172.5 L238.8,173.0 L238.9,173.5 L239.0,174.1 L239.0,174.7 L239.1,175.3 L239.2,175.9 L239.2,176.6 L239.3,177.2 L239.4,177.9 L239.5,178.7 L239.5,179.4 L239.6,180.2 L239.7,181.0 L239.7,181.9 L239.8,182.7 L239.9,183.6 L239.9,184.5 L240.0,185.4 L240.1,186.4 L240.2,187.4 L240.2,188.4 L240.3,189.5 L240.4,190.5 L240.4,191.6 L240.5,192.8 L240.6,193.9 L240.6,195.1 L240.7,196.4 L240.8,197.6 L240.9,198.9 L240.9,200.2 L241.0,201.6 L241.1,203.0 L241.1,204.4 L241.2,205.8 L241.3,207.3 L241.3,208.9 L241.4,210.4 L241.5,212.0 L241.6,213.7 L241.6,215.4 L241.7,217.1 L241.8,218.9 L241.8,220.7 L241.9,222.6 L242.0,224.5 L242.0,226.4 L242.1,228.4 L242.2,230.5 L242.3,232.6 L242.3,234.8 L242.4,237.0 L242.5,239.3 L242.5,241.6 L242.6,244.0 L242.7,246.5 L242.7,249.0 L242.8,251.7 L242.9,254.4 L243.0,257.2 L243.0,260.0 L243.1,263.0 L243.2,266.1 L243.2,269.3 L243.3,272.6 L243.4,276.0 L243.4,279.5 L243.5,283.2 L243.6,287.1 L243.7,291.1 L243.7,295.3 L243.8,299.7 L243.9,304.4 L243.9,309.3 L244.0,314.6 L244.1,320.1 L244.1,326.2 L244.2,332.7 L244.3,339.7 L244.4,337.4 L244.5,335.1 L244.6,332.8 L244.7,330.5 L244.9,328.1 L245.0,325.8 L245.1,323.5 L245.2,321.2 L245.3,318.8 L245.4,316.5 L245.6,314.2 L245.7,311.9 L245.8,309.5 L245.9,307.2 L246.0,304.9 L246.4,304.6 L246.8,304.3 L247.2,304.1 L247.5,303.8 L247.8,302.3 L248.1,300.8 L248.4,299.3 L248.7,297.7 L249.0,296.2 L249.3,294.7 L249.6,293.2 L249.9,291.7 L250.2,290.2 L250.5,288.6 L250.8,287.1 L251.1,285.6 L251.4,284.1 L251.7,282.6 L252.0,281.1 L252.3,279.5 L252.6,278.0 L252.8,276.5 L253.2,277.9 L253.5,279.2 L253.8,280.6 L254.2,282.0 L254.2,277.4 L254.3,273.0 L254.4,268.8 L254.5,264.7 L254.6,260.9 L254.7,257.2 L254.8,253.6 L254.9,250.2 L255.0,246.9 L255.1,243.7 L255.2,240.7 L255.3,237.7 L255.4,234.8 L255.4,232.1 L255.5,229.4 L255.6,226.8 L255.7,224.3 L255.8,221.8 L255.9,219.4 L256.0,217.1 L256.1,214.9 L256.2,212.7 L256.3,210.6 L256.4,208.6 L256.5,206.6 L256.6,204.7 L256.6,202.8 L256.7,201.0 L256.8,199.2 L256.9,197.5 L257.0,195.9 L257.1,194.3 L257.2,192.7 L257.3,191.2 L257.4,189.7 L257.5,188.3 L257.6,186.9 L257.7,185.5 L257.8,184.2 L257.9,183.0 L257.9,181.8 L258.0,180.6 L258.1,179.5 L258.2,178.4 L258.3,177.3 L258.4,176.3 L258.5,175.3 L258.6,174.4 L258.7,173.5 L258.8,172.6 L258.9,171.7 L259.0,170.9 L259.1,170.2 L259.1,169.5 L259.2,168.8 L259.3,168.1 L259.4,167.5 L259.5,166.9 L259.6,166.3 L259.7,165.8 L259.8,165.3 L259.9,164.8 L260.0,164.4 L260.1,164.0 L260.2,163.6 L260.3,163.3 L260.3,163.0 L260.4,162.7 L260.5,162.5 L260.6,162.3 L260.7,162.1 L260.8,162.0 L260.9,161.9 L261.0,161.8 L261.1,161.7 L261.2,161.7 L261.3,161.7 L261.3,161.8 L261.4,161.8 L261.5,161.9 L261.6,162.0 L261.7,162.2 L261.8,162.3 L261.9,162.5 L261.9,162.7 L262.0,163.0 L262.1,163.3 L262.2,163.5 L262.3,163.9 L262.4,164.2 L262.4,164.6 L262.5,165.0 L262.6,165.4 L262.7,165.8 L262.8,166.3 L262.9,166.8 L262.9,167.3 L263.0,167.9 L263.1,168.5 L263.2,169.1 L263.3,169.7 L263.4,170.4 L263.5,171.0 L263.5,171.8 L263.6,172.5 L263.7,173.3 L263.8,174.1 L263.9,174.9 L264.0,175.8 L264.0,176.7 L264.1,177.6 L264.2,178.5 L264.3,179.5 L264.4,180.5 L264.5,181.6 L264.6,182.7 L264.6,183.8 L264.7,184.9 L264.8,186.1 L264.9,187.3 L265.0,188.6 L265.1,189.8 L265.2,191.2 L265.2,192.5 L265.3,193.9 L265.4,195.3 L265.5,196.8 L265.6,198.3 L265.7,199.9 L265.8,201.4 L265.9,203.1 L265.9,204.8 L266.0,206.5 L266.1,208.2 L266.2,210.1 L266.3,211.9 L266.4,213.8 L266.5,215.8 L266.6,217.8 L266.6,219.9 L266.7,222.0 L266.8,224.2 L266.9,226.4 L267.0,228.7 L267.1,231.1 L267.2,233.6 L267.3,236.1 L267.4,238.7 L267.5,241.4 L267.6,244.1 L267.7,247.0 L267.8,249.9 L267.9,252.9 L267.9,256.1 L268.0,259.3 L268.1,262.7 L268.2,266.2 L268.3,269.8 L268.4,273.6 L268.5,277.6 L268.6,281.7 L268.8,286.1 L268.9,290.6 L269.0,295.5 L269.1,300.5 L269.2,306.0 L269.6,305.2 L269.9,304.5 L270.3,303.8 L270.4,306.0 L270.6,308.1 L270.7,310.3 L270.8,312.5 L271.0,314.6 L271.1,316.8 L271.2,319.0 L271.4,321.1 L271.5,323.3 L271.7,325.5 L271.8,327.6 L271.9,322.7 L272.0,318.0 L272.0,313.5 L272.1,309.2 L272.2,305.1 L272.3,301.2 L272.4,297.5 L272.4,293.9 L272.5,290.5 L272.6,287.1 L272.7,283.9 L272.8,280.8 L272.8,277.8 L272.9,274.9 L273.0,272.1 L273.1,269.4 L273.1,266.8 L273.2,264.3 L273.3,261.8 L273.4,259.4 L273.5,257.1 L273.5,254.9 L273.6,252.7 L273.7,250.6 L273.8,248.5 L273.9,246.5 L273.9,244.6 L274.0,242.7 L274.1,240.9 L274.2,239.1 L274.3,237.4 L274.3,235.7 L274.4,234.1 L274.5,232.5 L274.6,231.0 L274.7,229.6 L274.7,228.1 L274.8,226.7 L274.9,225.4 L275.0,224.1 L275.1,222.9 L275.1,221.6 L275.2,220.5 L275.3,219.3 L275.4,218.3 L275.5,217.2 L275.5,216.2 L275.6,215.2 L275.7,214.3 L275.8,213.4 L275.9,212.5 L275.9,211.7 L276.0,210.9 L276.1,210.2 L276.2,209.5 L276.3,208.8 L276.3,208.1 L276.4,207.5 L276.5,206.9 L276.6,206.4 L276.7,205.9 L276.7,205.4 L276.8,205.0 L276.9,204.6 L277.0,204.2 L277.1,203.9 L277.1,203.5 L277.2,203.3 L277.3,203.0 L277.4,202.8 L277.5,202.6 L277.5,202.5 L277.6,202.4 L277.7,202.3 L277.8,202.2 L277.9,202.2 L277.9,202.3 L278.0,202.4 L278.1,202.6 L278.2,202.9 L278.3,203.3 L278.3,203.8 L278.4,204.4 L278.5,205.1 L278.6,205.8 L278.6,206.7 L278.7,207.6 L278.8,208.7 L278.9,209.8 L279.0,211.0 L279.0,212.4 L279.1,213.8 L279.2,215.3 L279.3,217.0 L279.4,218.7 L279.4,220.6 L279.5,222.5 L279.6,224.6 L279.7,226.8 L279.7,229.1 L279.8,231.5 L279.9,234.1 L280.0,236.8 L280.1,239.7 L280.1,242.6 L280.2,245.8 L280.3,249.1 L280.4,252.5 L280.5,256.2 L280.5,251.2 L280.6,246.4 L280.7,241.9 L280.8,237.6 L280.9,233.6 L280.9,229.6 L281.0,225.9 L281.1,222.3 L281.2,218.8 L281.3,215.5 L281.3,212.2 L281.4,209.1 L281.5,206.1 L281.6,203.2 L281.6,200.4 L281.7,197.7 L281.8,195.1 L281.9,192.5 L282.0,190.1 L282.0,187.7 L282.1,185.3 L282.2,183.1 L282.3,180.9 L282.4,178.8 L282.4,176.7 L282.5,174.7 L282.6,172.8 L282.7,170.9 L282.8,169.1 L282.8,167.3 L282.9,165.6 L283.0,163.9 L283.1,162.3 L283.2,160.7 L283.2,159.2 L283.3,157.7 L283.4,156.3 L283.5,154.9 L283.6,153.6 L283.6,152.3 L283.7,151.0 L283.8,149.8 L283.9,148.6 L284.0,147.5 L284.0,146.4 L284.1,145.3 L284.2,144.3 L284.3,143.3 L284.4,142.4 L284.4,141.5 L284.5,140.7 L284.6,139.8 L284.7,139.0 L284.7,138.3 L284.8,137.6 L284.9,136.9 L285.0,136.2 L285.1,135.6 L285.1,135.0 L285.2,134.5 L285.3,134.0 L285.4,133.5 L285.5,133.1 L285.5,132.7 L285.6,132.3 L285.7,131.9 L285.8,131.6 L285.9,131.4 L285.9,131.1 L286.0,130.9 L286.1,130.7 L286.2,130.6 L286.3,130.5 L286.3,130.4 L286.4,130.3 L286.5,130.3 L286.6,130.3 L286.7,130.4 L286.8,130.5 L286.9,130.6 L287.0,130.8 L287.1,131.0 L287.2,131.2 L287.3,131.4 L287.4,131.7 L287.5,132.1 L287.6,132.4 L287.7,132.9 L287.8,133.3 L287.9,133.8 L288.0,134.3 L288.1,134.8 L288.2,135.4 L288.3,136.1 L288.4,136.7 L288.5,137.4 L288.6,138.2 L288.7,138.9 L288.8,139.8 L288.9,140.6 L289.0,141.5 L289.1,142.4 L289.2,143.4 L289.3,144.4 L289.4,145.5 L289.5,146.6 L289.6,147.7 L289.7,148.9 L289.8,150.2 L289.9,151.4 L290.0,152.8 L290.1,154.1 L290.2,155.5 L290.3,157.0 L290.4,158.5 L290.5,160.1 L290.6,161.7 L290.7,163.4 L290.8,165.1 L290.9,166.9 L291.0,168.7 L291.1,170.6 L291.2,172.5 L291.3,174.5 L291.3,176.6 L291.4,178.7 L291.5,181.0 L291.6,183.2 L291.7,185.6 L291.8,188.0 L291.9,190.5 L292.0,193.1 L292.1,195.8 L292.2,198.5 L292.3,201.4 L292.4,204.3 L292.5,207.4 L292.6,210.6 L292.7,213.9 L292.8,217.3 L292.9,220.8 L293.0,224.5 L293.1,228.4 L293.2,232.4 L293.3,236.6 L293.4,241.0 L293.8,241.6 L294.1,242.3 L294.5,242.9 L294.8,243.6 L295.2,244.2 L295.2,246.9 L295.3,249.6 L295.3,252.3 L295.4,254.9 L295.4,257.6 L295.5,260.3 L295.5,263.0 L295.5,265.6 L295.6,268.3 L295.6,271.0 L295.7,273.7 L295.7,276.4 L295.8,279.0 L295.8,281.7 L295.9,284.4 L295.9,287.1 L296.0,289.7 L296.0,292.4 L296.1,295.1 L296.1,297.8 L296.2,300.4 L296.2,303.1 L296.3,305.8 L296.3,308.5 L296.4,311.1 L296.4,313.8 L296.5,316.5 L296.5,319.2 L296.6,321.8 L296.6,324.5 L296.7,327.2 L296.7,329.9 L296.7,332.5 L296.8,335.2 L296.8,337.9 L296.9,340.6 L296.9,343.2 L297.0,345.9 L297.0,348.6 L297.1,351.3 L297.1,354.0 L297.2,356.6 L297.2,359.3 L297.3,362.0 L297.3,364.7 L297.4,359.5 L297.4,354.7 L297.4,350.1 L297.5,345.7 L297.5,341.5 L297.6,337.5 L297.6,333.6 L297.7,330.0 L297.7,326.4 L297.7,323.0 L297.8,319.8 L297.8,316.6 L297.9,313.6 L297.9,310.7 L297.9,307.8 L298.0,305.1 L298.0,302.5 L298.1,300.0 L298.1,297.5 L298.1,295.2 L298.2,292.9 L298.2,290.7 L298.3,288.5 L298.3,286.5 L298.3,284.5 L298.4,282.6 L298.4,280.7 L298.5,278.9 L298.5,277.2 L298.5,275.5 L298.6,273.9 L298.6,272.4 L298.7,270.9 L298.7,269.4 L298.7,268.1 L298.8,266.7 L298.8,265.5 L298.9,264.2 L298.9,263.1 L299.0,262.0 L299.0,260.9 L299.0,259.9 L299.1,258.9 L299.1,258.0 L299.2,257.1 L299.2,256.3 L299.2,255.5 L299.3,254.8 L299.3,254.1 L299.4,253.5 L299.4,252.9 L299.4,252.3 L299.5,251.8 L299.5,251.4 L299.6,251.0 L299.6,250.6 L299.6,250.3 L299.7,250.0 L299.7,249.8 L299.8,249.6 L299.8,249.4 L299.8,249.3 L299.9,249.2 L299.9,249.2 L300.0,249.2 L300.0,249.3 L300.0,249.4 L300.1,249.6 L300.1,249.8 L300.1,250.0 L300.2,250.3 L300.2,250.6 L300.2,251.0 L300.3,251.4 L300.3,251.9 L300.3,252.4 L300.4,252.9 L300.4,253.5 L300.4,254.2 L300.5,254.9 L300.5,255.6 L300.5,256.4 L300.6,257.2 L300.6,258.1 L300.6,259.0 L300.7,260.0 L300.7,261.0 L300.7,262.1 L300.8,263.2 L300.8,264.4 L300.8,265.6 L300.9,266.9 L300.9,268.3 L300.9,269.6 L301.0,271.1 L301.0,272.6 L301.0,274.2 L301.1,275.8 L301.1,277.5 L301.1,279.2 L301.2,281.0 L301.2,282.9 L301.2,284.9 L301.3,286.9 L301.3,289.0 L301.3,291.1 L301.4,293.4 L301.4,295.7 L301.4,298.1 L301.5,300.6 L301.5,303.1 L301.6,305.8 L301.6,308.5 L301.6,311.4 L301.7,314.4 L301.7,317.4 L301.7,320.6 L301.8,323.9 L301.8,327.4 L301.8,331.0 L301.9,334.7 L301.9,338.6 L301.9,342.7 L302.0,347.0 L302.0,351.5 L302.0,356.2 L302.1,361.1 L302.1,366.4 L302.1,353.8 L302.2,343.3 L302.3,334.2 L302.3,326.2 L302.4,319.0 L302.4,312.5 L302.5,306.5 L302.5,300.9 L302.6,295.7 L302.6,290.8 L302.7,286.2 L302.8,281.8 L302.8,277.7 L302.9,273.7 L302.9,270.0 L303.0,266.3 L303.0,262.8 L303.1,259.5 L303.1,256.3 L303.2,253.2 L303.2,250.1 L303.3,247.2 L303.4,244.4 L303.4,241.7 L303.5,239.0 L303.5,236.4 L303.6,233.9 L303.6,231.4 L303.7,229.1 L303.7,226.7 L303.8,224.5 L303.9,222.3 L303.9,220.1 L304.0,218.0 L304.0,215.9 L304.1,213.9 L304.1,212.0 L304.2,210.1 L304.2,208.2 L304.3,206.3 L304.3,204.5 L304.4,202.8 L304.5,201.1 L304.5,199.4 L304.6,197.7 L304.6,196.1 L304.7,194.5 L304.7,193.0 L304.8,191.4 L304.8,190.0 L304.9,188.5 L305.0,187.1 L305.0,185.7 L305.1,184.3 L305.1,182.9 L305.2,181.6 L305.2,180.3 L305.3,179.1 L305.3,177.8 L305.4,176.6 L305.4,175.4 L305.5,174.2 L305.6,173.1 L305.6,172.0 L305.7,170.9 L305.7,169.8 L305.8,168.7 L305.8,167.7 L305.9,166.7 L305.9,165.7 L306.0,164.7 L306.1,163.7 L306.1,162.8 L306.2,161.9 L306.2,161.0 L306.3,160.1 L306.3,159.3 L306.4,158.4 L306.4,157.6 L306.5,156.8 L306.5,156.1 L306.6,155.3 L306.7,154.6 L306.7,153.8 L306.8,153.1 L306.8,152.4 L306.9,151.8 L306.9,151.1 L307.0,150.5 L307.0,149.8 L307.1,149.2 L307.2,148.7 L307.2,148.1 L307.3,147.5 L307.3,147.0 L307.4,146.5 L307.4,146.0 L307.5,145.5 L307.5,145.0 L307.6,144.6 L307.6,144.1 L307.7,143.7 L307.8,143.3 L307.8,142.9 L307.9,142.5 L307.9,142.1 L308.0,141.8 L308.0,141.5 L308.1,141.1 L308.1,140.8 L308.2,140.5 L308.3,140.3 L308.3,140.0 L308.4,139.8 L308.4,139.5 L308.5,139.3 L308.5,139.1 L308.6,139.0 L308.6,138.8 L308.7,138.6 L308.7,138.5 L308.8,138.4 L308.9,138.3 L308.9,138.2 L309.0,138.1 L309.0,138.0 L309.1,138.0 L309.1,137.9 L309.2,137.9 L309.2,137.9 L309.3,137.9 L309.4,138.0 L309.5,138.0 L309.6,138.1 L309.7,138.3 L309.8,138.4 L309.9,138.6 L310.0,138.9 L310.1,139.1 L310.2,139.4 L310.3,139.7 L310.3,140.1 L310.4,140.4 L310.5,140.9 L310.6,141.3 L310.7,141.8 L310.8,142.3 L310.9,142.8 L311.0,143.4 L311.1,144.0 L311.2,144.6 L311.3,145.3 L311.4,146.0 L311.4,146.7 L311.5,147.4 L311.6,148.2 L311.7,149.1 L311.8,149.9 L311.9,150.8 L312.0,151.8 L312.1,152.7 L312.2,153.7 L312.3,154.8 L312.4,155.9 L312.5,157.0 L312.6,158.1 L312.7,159.3 L312.7,160.6 L312.8,161.8 L312.9,163.1 L313.0,164.5 L313.1,165.9 L313.2,167.3 L313.3,168.8 L313.4,170.3 L313.5,171.9 L313.6,173.5 L313.7,175.2 L313.8,176.9 L313.9,178.7 L314.0,180.5 L314.1,182.3 L314.2,184.3 L314.3,186.2 L314.4,188.3 L314.5,190.4 L314.5,192.5 L314.6,194.8 L314.7,197.0 L314.8,199.4 L314.9,201.8 L315.0,204.3 L315.1,206.9 L315.2,209.6 L315.3,212.3 L315.4,215.2 L315.5,218.1 L315.6,221.2 L315.7,224.3 L315.8,227.6 L316.0,230.9 L316.1,234.4 L316.2,238.1 L316.3,241.9 L316.4,245.9 L316.5,250.0 L316.6,254.4 L316.7,258.9 L316.8,263.7 L317.1,262.9 L317.4,262.1 L317.6,261.3 L317.9,260.5 L318.2,261.4 L318.6,262.2 L318.9,263.1 L319.3,263.9 L319.6,264.8 L320.2,263.2 L320.7,261.6 L321.2,260.2 L321.6,258.8 L321.9,257.6 L322.2,256.4 L322.5,255.3 L322.8,254.3 L323.0,253.4 L323.2,252.5 L323.4,251.8 L323.6,251.1 L323.8,250.5 L323.9,250.0 L324.1,249.6 L324.2,249.2 L324.4,248.9 L324.5,248.7 L324.7,248.6 L324.8,248.6 L325.0,248.6 L325.2,248.9 L325.4,249.2 L325.5,249.7 L325.7,250.4 L325.9,251.2 L326.1,252.2 L326.2,253.3 L326.4,254.6 L326.6,256.0 L326.8,257.6 L326.9,259.3 L327.1,261.3 L327.3,263.4 L327.5,265.6 L327.6,268.1 L327.7,263.8 L327.8,259.7 L327.9,255.8 L328.0,252.1 L328.1,248.5 L328.2,245.1 L328.3,241.7 L328.4,238.5 L328.5,235.4 L328.6,232.5 L328.7,229.6 L328.8,226.8 L328.8,224.1 L328.9,221.5 L329.0,219.0 L329.1,216.6 L329.2,214.2 L329.3,211.9 L329.4,209.7 L329.5,207.6 L329.6,205.5 L329.7,203.5 L329.8,201.6 L329.9,199.7 L329.9,197.9 L330.0,196.1 L330.1,194.4 L330.2,192.8 L330.3,191.2 L330.4,189.6 L330.5,188.2 L330.6,186.7 L330.7,185.3 L330.8,184.0 L330.9,182.7 L331.0,181.5 L331.0,180.3 L331.1,179.1 L331.2,178.0 L331.3,177.0 L331.4,176.0 L331.5,175.0 L331.6,174.1 L331.7,173.2 L331.8,172.4 L331.9,171.6 L332.0,170.8 L332.1,170.1 L332.2,169.4 L332.2,168.8 L332.3,168.2 L332.4,167.6 L332.5,167.1 L332.6,166.6 L332.7,166.2 L332.8,165.8 L332.9,165.4 L333.0,165.1 L333.1,164.8 L333.2,164.6 L333.3,164.4 L333.3,164.2 L333.4,164.1 L333.5,164.0 L333.6,163.9 L333.7,163.9 L333.8,163.9 L333.9,164.0 L334.0,164.0 L334.1,164.1 L334.2,164.3 L334.3,164.4 L334.4,164.6 L334.5,164.9 L334.5,165.1 L334.6,165.4 L334.7,165.7 L334.8,166.1 L334.9,166.5 L335.0,166.9 L335.1,167.3 L335.2,167.8 L335.3,168.3 L335.4,168.8 L335.5,169.4 L335.6,170.0 L335.7,170.6 L335.7,171.3 L335.8,172.0 L335.9,172.7 L336.0,173.5 L336.1,174.3 L336.2,175.1 L336.3,176.0 L336.4,176.9 L336.5,177.8 L336.6,178.8 L336.7,179.8 L336.8,180.9 L336.9,182.0 L336.9,183.1 L337.0,184.2 L337.1,185.4 L337.2,186.7 L337.3,188.0 L337.4,189.3 L337.5,190.6 L337.6,192.0 L337.7,193.5 L337.8,195.0 L337.9,196.5 L338.0,198.1 L338.1,199.7 L338.2,201.4 L338.2,203.1 L338.3,204.9 L338.4,206.7 L338.5,208.6 L338.6,210.5 L338.7,212.5 L338.8,214.6 L338.9,216.7 L339.0,218.9 L339.1,221.1 L339.2,223.4 L339.3,225.8 L339.4,228.2 L339.5,230.8 L339.6,233.4 L339.6,236.1 L339.7,238.8 L339.8,241.7 L339.9,244.7 L340.0,247.7 L340.1,250.9 L340.2,254.2 L340.3,257.6 L340.4,261.2 L340.5,264.8 L340.6,268.7 L340.7,272.7 L340.8,276.9 L340.9,281.3 L341.0,285.9 L341.1,290.8 L341.4,290.8 L341.8,290.8 L342.2,290.8 L342.3,292.6 L342.5,294.5 L342.7,296.3 L342.9,298.2 L343.0,300.0 L343.2,301.9 L343.4,303.7 L343.5,305.5 L343.7,307.4 L343.9,309.2 L344.0,305.5 L344.1,302.0 L344.2,298.7 L344.3,295.5 L344.4,292.4 L344.5,289.5 L344.6,286.6 L344.7,283.9 L344.8,281.4 L344.9,278.9 L345.0,276.5 L345.1,274.3 L345.2,272.1 L345.3,270.1 L345.4,268.1 L345.5,266.2 L345.6,264.5 L345.6,262.8 L345.7,261.2 L345.8,259.7 L345.9,258.2 L346.0,256.9 L346.1,255.6 L346.2,254.4 L346.3,253.3 L346.4,252.2 L346.5,251.3 L346.6,250.4 L346.7,249.6 L346.8,248.8 L346.9,248.2 L347.0,247.6 L347.1,247.0 L347.2,246.6 L347.3,246.2 L347.4,245.9 L347.5,245.6 L347.6,245.5 L347.7,245.4 L347.8,245.3 L347.9,245.4 L348.1,245.7 L348.3,246.1 L348.4,246.7 L348.6,247.5 L348.7,248.4 L348.9,249.5 L349.0,250.8 L349.2,252.3 L349.3,254.0 L349.5,255.9 L349.6,257.9 L349.8,260.2 L350.0,262.6 L350.1,258.0 L350.2,253.6 L350.3,249.4 L350.4,245.4 L350.5,241.6 L350.7,237.9 L350.8,234.3 L350.9,230.9 L351.0,227.6 L351.1,224.5 L351.2,221.4 L351.3,218.4 L351.4,215.6 L351.5,212.8 L351.6,210.1 L351.7,207.5 L351.8,205.0 L351.9,202.5 L352.0,200.2 L352.1,197.9 L352.2,195.6 L352.3,193.5 L352.4,191.4 L352.5,189.3 L352.6,187.3 L352.7,185.4 L352.8,183.5 L352.9,181.7 L353.0,179.9 L353.1,178.2 L353.2,176.5 L353.3,174.9 L353.4,173.4 L353.5,171.8 L353.6,170.3 L353.7,168.9 L353.8,167.5 L353.9,166.2 L354.0,164.9 L354.1,163.6 L354.2,162.4 L354.3,161.2 L354.4,160.0 L354.5,158.9 L354.5,157.9 L354.6,156.8 L354.7,155.8 L354.8,154.9 L354.9,153.9 L355.0,153.1 L355.1,152.2 L355.2,151.4 L355.3,150.6 L355.4,149.9 L355.5,149.1 L355.6,148.5 L355.7,147.8 L355.8,147.2 L355.9,146.6 L356.0,146.1 L356.0,145.6 L356.1,145.1 L356.2,144.6 L356.3,144.2 L356.4,143.8 L356.5,143.5 L356.6,143.1 L356.7,142.8 L356.8,142.6 L356.9,142.3 L357.0,142.1 L357.1,142.0 L357.2,141.8 L357.3,141.7 L357.4,141.6 L357.4,141.6 L357.5,141.6 L357.6,141.6 L357.7,141.6 L357.8,141.7 L357.9,141.8 L358.0,142.0 L358.1,142.1 L358.2,142.3 L358.3,142.6 L358.3,142.8 L358.4,143.1 L358.5,143.5 L358.6,143.8 L358.7,144.2 L358.8,144.6 L358.9,145.1 L359.0,145.6 L359.1,146.1 L359.1,146.6 L359.2,147.2 L359.3,147.8 L359.4,148.5 L359.5,149.2 L359.6,149.9 L359.7,150.6 L359.8,151.4 L359.8,152.2 L359.9,153.1 L360.0,154.0 L360.1,154.9 L360.2,155.9 L360.3,156.9 L360.4,157.9 L360.5,159.0 L360.6,160.1 L360.6,161.2 L360.7,162.4 L360.8,163.7 L360.9,164.9 L361.0,166.2 L361.1,167.6 L361.2,169.0 L361.3,170.4 L361.4,171.9 L361.4,173.4 L361.5,175.0 L361.6,176.7 L361.7,178.3 L361.8,180.0 L361.9,181.8 L362.0,183.7 L362.1,185.5 L362.2,187.5 L362.2,189.5 L362.3,191.5 L362.4,193.6 L362.5,195.8 L362.6,198.1 L362.7,200.4 L362.8,202.7 L362.9,205.2 L363.0,207.7 L363.0,210.3 L363.1,213.0 L363.2,215.8 L363.3,218.7 L363.4,221.7 L363.5,224.7 L363.6,227.9 L363.7,231.2 L363.8,234.7 L363.8,238.2 L363.9,241.9 L364.0,245.8 L364.1,249.8 L364.2,254.1 L364.3,258.5 L364.4,263.2 L364.5,268.1 L364.8,266.8 L365.0,265.5 L365.3,264.3 L365.6,263.0 L365.9,261.7 L366.2,260.5 L366.5,262.1 L366.8,263.7 L367.1,265.4 L367.4,267.0 L367.7,268.6 L368.0,270.2 L368.3,271.9 L368.6,273.5 L368.9,275.1 L369.2,276.7 L369.5,278.4 L369.8,280.0 L370.1,281.6 L370.4,283.2 L370.7,284.9 L371.0,286.5 L371.1,289.1 L371.1,291.6 L371.2,294.2 L371.3,296.8 L371.4,299.4 L371.5,302.0 L371.6,304.6 L371.7,307.1 L371.8,309.7 L371.9,312.3 L372.0,314.9 L372.0,317.5 L372.1,320.1 L372.2,322.6 L372.3,325.2 L372.4,327.8 L372.5,330.4 L372.6,333.0 L372.7,335.6 L372.8,338.2 L372.9,340.7 L372.9,343.3 L373.0,345.9 L373.1,348.5 L373.2,351.1 L373.3,353.7 L373.4,356.2 L373.5,358.8 L373.6,361.4 L373.7,355.7 L373.8,350.3 L373.8,345.3 L373.9,340.5 L374.0,336.0 L374.1,331.7 L374.2,327.5 L374.3,323.6 L374.4,319.8 L374.5,316.2 L374.6,312.7 L374.7,309.4 L374.7,306.2 L374.8,303.0 L374.9,300.0 L375.0,297.1 L375.1,294.3 L375.2,291.5 L375.3,288.9 L375.4,286.3 L375.4,283.8 L375.5,281.3 L375.6,279.0 L375.7,276.7 L375.8,274.4 L375.9,272.3 L376.0,270.1 L376.0,268.1 L376.1,266.1 L376.2,264.1 L376.3,262.2 L376.4,260.4 L376.5,258.5 L376.6,256.8 L376.6,255.1 L376.7,253.4 L376.8,251.8 L376.9,250.2 L377.0,248.7 L377.1,247.1 L377.2,245.7 L377.2,244.3 L377.3,242.9 L377.4,241.5 L377.5,240.2 L377.6,238.9 L377.7,237.7 L377.7,236.5 L377.8,235.3 L377.9,234.2 L378.0,233.1 L378.1,232.0 L378.2,231.0 L378.3,229.9 L378.3,229.0 L378.4,228.0 L378.5,227.1 L378.6,226.2 L378.7,225.3 L378.8,224.5 L378.8,223.7 L378.9,222.9 L379.0,222.2 L379.1,221.5 L379.2,220.8 L379.3,220.1 L379.3,219.5 L379.4,218.9 L379.5,218.3 L379.6,217.8 L379.7,217.2 L379.8,216.8 L379.9,216.3 L379.9,215.8 L380.0,215.4 L380.1,215.0 L380.2,214.7 L380.3,214.3 L380.4,214.0 L380.4,213.7 L380.5,213.4 L380.6,213.2 L380.7,213.0 L380.8,212.8 L380.9,212.6 L380.9,212.5 L381.0,212.4 L381.1,212.3 L381.2,212.2 L381.3,212.2 L381.4,212.2 L381.5,212.2 L381.5,212.2 L381.6,212.3 L381.7,212.4 L381.8,212.5 L381.9,212.7 L382.0,212.9 L382.1,213.1 L382.2,213.3 L382.2,213.6 L382.3,213.8 L382.4,214.2 L382.5,214.5 L382.6,214.9 L382.7,215.3 L382.8,215.7 L382.9,216.2 L382.9,216.6 L383.0,217.2 L383.1,217.7 L383.2,218.3 L383.3,218.9 L383.4,219.5 L383.5,220.2 L383.6,220.9 L383.7,221.6 L383.7,222.3 L383.8,223.1 L383.9,223.9 L384.0,224.8 L384.1,225.6 L384.2,226.5 L384.3,227.5 L384.4,228.5 L384.5,229.5 L384.6,230.5 L384.7,231.6 L384.8,232.7 L384.8,233.8 L384.9,235.0 L385.0,236.2 L385.1,237.5 L385.2,238.8 L385.3,240.1 L385.4,241.5 L385.5,242.9 L385.6,244.3 L385.7,245.8 L385.8,247.3 L385.9,248.9 L386.0,250.5 L386.1,252.2 L386.2,253.9 L386.3,255.7 L386.4,257.5 L386.6,259.3 L386.7,261.2 L386.8,263.2 L386.9,265.2 L387.0,267.3 L387.1,269.4 L387.2,271.6 L387.4,273.8 L387.5,276.2 L387.6,278.6 L387.7,281.0 L387.9,283.5 L388.0,286.2 L388.1,288.8 L388.3,291.6 L388.4,294.5 L388.6,297.5 L388.7,300.5 L388.9,303.7 L389.0,307.0 L389.2,310.4 L389.3,313.9 L389.5,317.6 L389.7,321.4 L389.9,325.5 L390.1,329.6 L390.3,334.0 L390.5,338.7 L390.6,340.7 L390.8,342.7 L391.0,344.7 L391.1,346.7 L391.3,348.7 L391.5,350.7 L391.6,352.7 L391.8,354.7 L392.0,356.7 L392.1,358.7 L392.3,360.7 L392.5,362.7 L392.6,364.7 L393.0,363.9 L393.3,363.2 L393.7,362.5 L394.1,361.8 L394.4,361.0 L394.8,360.3 L394.9,362.7 L395.0,365.1 L395.1,367.5 L395.2,369.9 L395.3,372.4 L395.4,374.8 L395.5,377.2 L395.6,379.6 L395.7,382.0 L395.8,384.4 L395.9,386.8 L396.0,389.2 L396.1,391.6 L396.3,394.0 L396.4,396.4 L396.5,398.8 L396.6,401.2 L396.7,403.6 L396.8,406.0 L396.9,408.5 L397.0,410.9 L397.1,413.3 L397.2,415.7 L397.3,418.1 L397.4,420.5 L397.5,422.9 L397.6,425.3 L397.7,418.3 L397.8,411.8 L397.8,405.8 L397.9,400.3 L398.0,395.1 L398.1,390.2 L398.2,385.5 L398.2,381.1 L398.3,377.0 L398.4,373.0 L398.5,369.1 L398.5,365.5 L398.6,361.9 L398.7,358.5 L398.8,355.3 L398.9,352.1 L398.9,349.0 L399.0,346.1 L399.1,343.2 L399.2,340.4 L399.2,337.8 L399.3,335.1 L399.4,332.6 L399.5,330.1 L399.5,327.7 L399.6,325.4 L399.7,323.1 L399.8,320.9 L399.9,318.7 L399.9,316.6 L400.0,314.6 L400.1,312.6 L400.2,310.6 L400.2,308.7 L400.3,306.8 L400.4,305.0 L400.5,303.2 L400.5,301.5 L400.6,299.8 L400.7,298.2 L400.8,296.6 L400.8,295.0 L400.9,293.4 L401.0,291.9 L401.1,290.5 L401.1,289.0 L401.2,287.6 L401.3,286.3 L401.4,284.9 L401.5,283.6 L401.5,282.4 L401.6,281.1 L401.7,279.9 L401.8,278.7 L401.8,277.6 L401.9,276.5 L402.0,275.4 L402.1,274.3 L402.1,273.2 L402.2,272.2 L402.3,271.2 L402.4,270.3 L402.4,269.4 L402.5,268.4 L402.6,267.6 L402.7,266.7 L402.7,265.9 L402.8,265.1 L402.9,264.3 L403.0,263.5 L403.0,262.8 L403.1,262.1 L403.2,261.4 L403.3,260.7 L403.3,260.1 L403.4,259.4 L403.5,258.8 L403.6,258.3 L403.7,257.7 L403.7,257.2 L403.8,256.7 L403.9,256.2 L404.0,255.7 L404.0,255.3 L404.1,254.8 L404.2,254.4 L404.3,254.1 L404.3,253.7 L404.4,253.4 L404.5,253.0 L404.6,252.7 L404.6,252.5 L404.7,252.2 L404.8,252.0 L404.9,251.8 L404.9,251.6 L405.0,251.4 L405.1,251.2 L405.2,251.1 L405.2,251.0 L405.3,250.9 L405.4,250.8 L405.5,250.8 L405.5,250.7 L405.6,250.7 L405.7,250.8 L405.8,250.8 L405.9,250.9 L406.0,251.0 L406.1,251.1 L406.2,251.3 L406.3,251.5 L406.4,251.8 L406.5,252.1 L406.6,252.4 L406.7,252.7 L406.8,253.1 L406.9,253.5 L407.0,254.0 L407.1,254.5 L407.2,255.0 L407.3,255.5 L407.4,256.1 L407.5,256.7 L407.6,257.4 L407.7,258.1 L407.8,258.8 L407.9,259.6 L408.0,260.4 L408.1,261.2 L408.2,262.1 L408.3,263.0 L408.4,263.9 L408.5,264.9 L408.6,265.9 L408.7,267.0 L408.8,268.1 L408.9,269.3 L409.0,270.4 L409.1,271.7 L409.2,272.9 L409.3,274.3 L409.4,275.6 L409.5,277.0 L409.7,278.5 L409.8,280.0 L409.9,281.5 L410.0,283.1 L410.1,284.7 L410.3,286.4 L410.4,288.2 L410.5,290.0 L410.7,291.8 L410.8,293.7 L410.9,295.7 L411.1,297.7 L411.2,299.8 L411.4,302.0 L411.5,304.2 L411.7,306.5 L411.8,308.9 L412.0,311.3 L412.2,313.8 L412.3,316.4 L412.5,319.1 L412.7,321.8 L412.9,324.7 L413.1,327.7 L413.3,330.7 L413.5,333.9 L413.7,337.2 L414.0,340.6 L414.2,344.1 L414.5,347.8 L414.7,351.7 L414.8,354.2 L414.9,356.7 L415.0,359.2 L415.0,361.8 L415.1,364.3 L415.2,366.8 L415.3,369.3 L415.4,371.9 L415.5,374.4 L415.5,376.9 L415.6,379.5 L415.7,382.0 L415.8,384.5 L415.9,387.0 L416.0,389.6 L416.0,392.1 L416.1,394.6 L416.2,397.1 L416.3,399.7 L416.4,402.2 L416.5,404.7 L416.6,401.8 L416.7,399.0 L416.8,396.5 L416.9,394.1 L417.1,391.9 L417.2,389.9 L417.3,388.1 L417.4,386.5 L417.5,385.0 L417.7,383.7 L417.8,382.5 L417.9,381.5 L418.0,380.6 L418.1,380.0 L418.3,379.4 L418.4,379.0 L418.5,378.8 L418.6,378.7 L418.7,378.8 L418.8,378.9 L418.9,379.2 L419.0,379.5 L419.0,379.9 L419.1,380.4 L419.2,381.0 L419.3,381.7 L419.4,382.5 L419.5,383.4 L419.5,384.4 L419.6,385.5 L419.7,386.8 L419.8,388.1 L419.9,389.5 L420.0,391.0 L420.0,392.6 L420.1,394.3 L420.2,396.2 L420.3,398.2 L420.4,400.2 L420.5,402.4 L420.5,404.8 L420.6,407.2 L420.7,409.8 L420.8,412.6 L420.9,415.4 L421.0,418.5 L421.0,421.7 L421.1,425.0 L421.2,428.5 L421.3,421.0 L421.4,414.1 L421.5,407.8 L421.6,402.0 L421.6,396.6 L421.7,391.4 L421.8,386.6 L421.9,382.1 L422.0,377.8 L422.1,373.6 L422.1,369.7 L422.2,365.9 L422.3,362.3 L422.4,358.8 L422.5,355.5 L422.5,352.2 L422.6,349.1 L422.7,346.1 L422.8,343.2 L422.8,340.3 L422.9,337.6 L423.0,334.9 L423.1,332.3 L423.2,329.8 L423.2,327.4 L423.3,325.0 L423.4,322.7 L423.5,320.4 L423.5,318.2 L423.6,316.1 L423.7,314.0 L423.8,311.9 L423.8,309.9 L423.9,308.0 L424.0,306.1 L424.1,304.3 L424.1,302.4 L424.2,300.7 L424.3,299.0 L424.4,297.3 L424.5,295.6 L424.5,294.0 L424.6,292.4 L424.7,290.9 L424.8,289.4 L424.8,287.9 L424.9,286.5 L425.0,285.1 L425.1,283.7 L425.1,282.4 L425.2,281.1 L425.3,279.8 L425.4,278.6 L425.4,277.4 L425.5,276.2 L425.6,275.0 L425.7,273.9 L425.7,272.8 L425.8,271.7 L425.9,270.7 L426.0,269.7 L426.0,268.7 L426.1,267.7 L426.2,266.7 L426.2,265.8 L426.3,264.9 L426.4,264.1 L426.5,263.2 L426.5,262.4 L426.6,261.6 L426.7,260.8 L426.8,260.1 L426.8,259.3 L426.9,258.6 L427.0,257.9 L427.1,257.3 L427.1,256.6 L427.2,256.0 L427.3,255.4 L427.4,254.8 L427.4,254.3 L427.5,253.8 L427.6,253.2 L427.7,252.7 L427.7,252.3 L427.8,251.8 L427.9,251.4 L428.0,251.0 L428.0,250.6 L428.1,250.2 L428.2,249.9 L428.3,249.6 L428.3,249.3 L428.4,249.0 L428.5,248.7 L428.6,248.5 L428.6,248.2 L428.7,248.0 L428.8,247.8 L428.9,247.7 L428.9,247.5 L429.0,247.4 L429.1,247.3 L429.2,247.2 L429.2,247.1 L429.3,247.1 L429.4,247.1 L429.4,247.1 L429.5,247.1 L429.6,247.1 L429.7,247.2 L429.8,247.2 L429.8,247.3 L429.9,247.5 L430.0,247.6 L430.1,247.8 L430.2,248.0 L430.2,248.2 L430.3,248.4 L430.4,248.7 L430.5,249.0 L430.6,249.3 L430.6,249.6 L430.7,250.0 L430.8,250.3 L430.9,250.7 L431.0,251.2 L431.0,251.6 L431.1,252.1 L431.2,252.6 L431.3,253.1 L431.4,253.6 L431.4,254.2 L431.5,254.8 L431.6,255.4 L431.7,256.1 L431.8,256.7 L431.9,257.4 L431.9,258.1 L432.0,258.9 L432.1,259.6 L432.2,260.4 L432.3,261.3 L432.3,262.1 L432.4,263.0 L432.5,263.9 L432.6,264.8 L432.7,265.8 L432.8,266.8 L432.8,267.8 L432.9,268.8 L433.0,269.9 L433.1,271.0 L433.2,272.2 L433.3,273.3 L433.4,274.5 L433.4,275.8 L433.5,277.0 L433.6,278.3 L433.7,279.6 L433.8,281.0 L433.9,282.4 L434.0,283.8 L434.1,285.3 L434.2,286.8 L434.3,288.4 L434.4,290.0 L434.4,291.6 L434.5,293.3 L434.6,295.0 L434.7,296.7 L434.8,298.5 L434.9,300.4 L435.0,302.3 L435.1,304.2 L435.2,306.2 L435.3,308.2 L435.5,310.3 L435.6,312.5 L435.7,314.7 L435.8,316.9 L435.9,319.3 L436.0,321.7 L436.1,324.1 L436.2,326.7 L436.4,329.3 L436.5,332.0 L436.6,334.7 L436.7,337.6 L436.9,340.6 L437.0,343.6 L437.1,346.8 L437.3,350.0 L437.4,353.4 L437.6,357.0 L437.7,360.6 L437.9,364.4 L438.1,368.4 L438.2,372.6 L438.4,377.0 L438.6,381.6 L438.8,386.5 L439.0,391.6 L439.2,397.1 L439.7,389.8 L440.1,383.2 L440.6,377.1 L440.9,371.5 L441.3,366.2 L441.6,361.3 L441.9,356.6 L442.2,352.2 L442.5,348.1 L442.8,344.1 L443.0,340.3 L443.2,336.6 L443.5,333.1 L443.7,329.7 L443.9,326.5 L444.1,323.3 L444.3,320.3 L444.5,317.4 L444.7,314.5 L444.9,311.8 L445.0,309.1 L445.2,306.5 L445.4,304.0 L445.5,301.5 L445.7,299.1 L445.8,296.8 L446.0,294.5 L446.1,292.3 L446.3,290.1 L446.4,288.0 L446.5,285.9 L446.7,283.9 L446.8,282.0 L446.9,280.0 L447.0,278.1 L447.1,276.3 L447.3,274.5 L447.4,272.7 L447.5,271.0 L447.6,269.3 L447.7,267.7 L447.8,266.0 L447.9,264.5 L448.0,262.9 L448.1,261.4 L448.2,259.9 L448.3,258.4 L448.4,257.0 L448.5,255.6 L448.6,254.2 L448.7,252.8 L448.8,251.5 L448.9,250.2 L449.0,249.0 L449.0,247.7 L449.1,246.5 L449.2,245.3 L449.3,244.1 L449.4,243.0 L449.5,241.9 L449.5,240.8 L449.6,239.7 L449.7,238.6 L449.8,237.6 L449.9,236.6 L449.9,235.6 L450.0,234.6 L450.1,233.7 L450.2,232.7 L450.2,231.8 L450.3,230.9 L450.4,230.1 L450.5,229.2 L450.5,228.4 L450.6,227.6 L450.7,226.8 L450.7,226.0 L450.8,225.2 L450.9,224.5 L451.0,223.8 L451.0,223.1 L451.1,222.4 L451.2,221.7 L451.2,221.1 L451.3,220.5 L451.4,219.8 L451.4,219.2 L451.5,218.7 L451.6,218.1 L451.6,217.5 L451.7,217.0 L451.8,216.5 L451.8,216.0 L451.9,215.5 L452.0,215.1 L452.0,214.6 L452.1,214.2 L452.2,213.8 L452.2,213.4 L452.3,213.0 L452.4,212.6 L452.4,212.2 L452.5,211.9 L452.6,211.6 L452.6,211.3 L452.7,211.0 L452.8,210.7 L452.8,210.4 L452.9,210.2 L453.0,210.0 L453.0,209.8 L453.1,209.6 L453.1,209.4 L453.2,209.2 L453.3,209.0 L453.3,208.9 L453.4,208.8 L453.5,208.7 L453.5,208.6 L453.6,208.5 L453.7,208.4 L453.7,208.4 L453.8,208.3 L453.9,208.3 L453.9,208.3 L454.0,208.3 L454.1,208.3 L454.2,208.4 L454.2,208.5 L454.3,208.6 L454.4,208.7 L454.5,208.8 L454.5,209.0 L454.6,209.2 L454.7,209.4 L454.8,209.6 L454.9,209.9 L454.9,210.1 L455.0,210.4 L455.1,210.7 L455.2,211.1 L455.3,211.4 L455.3,211.8 L455.4,212.2 L455.5,212.7 L455.6,213.1 L455.6,213.6 L455.7,214.1 L455.8,214.6 L455.9,215.1 L456.0,215.7 L456.0,216.3 L456.1,216.9 L456.2,217.6 L456.3,218.2 L456.4,218.9 L456.4,219.6 L456.5,220.4 L456.6,221.1 L456.7,221.9 L456.8,222.7 L456.8,223.6 L456.9,224.4 L457.0,225.3 L457.1,226.2 L457.2,227.2 L457.2,228.2 L457.3,229.1 L457.4,230.2 L457.5,231.2 L457.6,232.3 L457.6,233.4 L457.7,234.6 L457.8,235.8 L457.9,237.0 L458.0,238.2 L458.1,239.5 L458.1,240.8 L458.2,242.1 L458.3,243.5 L458.4,244.9 L458.5,246.3 L458.6,247.8 L458.7,249.3 L458.7,250.8 L458.8,252.4 L458.9,254.0 L459.0,255.7 L459.1,257.4 L459.2,259.1 L459.3,260.9 L459.4,262.8 L459.5,264.6 L459.6,266.6 L459.6,268.5 L459.7,270.6 L459.8,272.7 L459.9,274.8 L460.0,277.0 L460.1,279.2 L460.2,281.5 L460.3,283.9 L460.4,286.4 L460.5,288.9 L460.6,291.4 L460.7,294.1 L460.9,296.8 L461.0,299.7 L461.1,302.6 L461.2,305.6 L461.3,308.7 L461.4,312.0 L461.6,315.3 L461.7,318.8 L461.8,322.4 L461.9,326.2 L462.1,330.1 L462.2,334.2 L462.3,338.5 L462.5,343.0 L462.6,347.8 L462.8,352.9 L463.0,358.2 L463.1,364.0 L463.3,370.2 L463.4,365.8 L463.5,361.6 L463.6,357.5 L463.7,353.7 L463.7,350.0 L463.8,346.4 L463.9,343.0 L464.0,339.7 L464.1,336.5 L464.2,333.4 L464.3,330.5 L464.3,327.6 L464.4,324.9 L464.5,322.2 L464.6,319.6 L464.7,317.2 L464.8,314.7 L464.9,312.4 L464.9,310.2 L465.0,308.0 L465.1,305.9 L465.2,303.8 L465.3,301.9 L465.4,299.9 L465.4,298.1 L465.5,296.3 L465.6,294.6 L465.7,292.9 L465.8,291.3 L465.9,289.7 L466.0,288.2 L466.0,286.8 L466.1,285.4 L466.2,284.0 L466.3,282.7 L466.4,281.5 L466.5,280.3 L466.6,279.1 L466.6,278.0 L466.7,277.0 L466.8,276.0 L466.9,275.0 L467.0,274.1 L467.1,273.2 L467.1,272.4 L467.2,271.6 L467.3,270.8 L467.4,270.1 L467.5,269.5 L467.6,268.8 L467.7,268.3 L467.7,267.7 L467.8,267.2 L467.9,266.8 L468.0,266.4 L468.1,266.0 L468.2,265.6 L468.2,265.3 L468.3,265.1 L468.4,264.9 L468.5,264.7 L468.6,264.6 L468.7,264.5 L468.8,264.4 L468.8,264.4 L469.0,264.4 L469.1,264.6 L469.2,264.9 L469.4,265.4 L469.5,265.9 L469.6,266.6 L469.7,267.4 L469.9,268.3 L470.0,269.3 L470.1,270.5 L470.3,271.8 L470.4,273.2 L470.5,274.8 L470.6,276.5 L470.8,278.4 L470.9,280.4 L471.0,282.5 L471.1,284.8 L471.3,287.2 L471.4,289.8 L471.5,292.6 L471.7,295.6 L471.8,290.9 L471.8,286.5 L471.9,282.2 L472.0,278.2 L472.1,274.3 L472.2,270.6 L472.3,267.0 L472.4,263.6 L472.5,260.3 L472.6,257.1 L472.7,254.0 L472.8,251.0 L472.9,248.1 L473.0,245.3 L473.1,242.6 L473.2,240.0 L473.3,237.5 L473.4,235.0 L473.4,232.7 L473.5,230.3 L473.6,228.1 L473.7,225.9 L473.8,223.8 L473.9,221.8 L474.0,219.8 L474.1,217.8 L474.2,216.0 L474.3,214.1 L474.4,212.4 L474.5,210.6 L474.6,209.0 L474.7,207.4 L474.8,205.8 L474.9,204.3 L475.0,202.8 L475.0,201.4 L475.1,200.0 L475.2,198.6 L475.3,197.3 L475.4,196.1 L475.5,194.8 L475.6,193.7 L475.7,192.5 L475.8,191.4 L475.9,190.4 L476.0,189.3 L476.1,188.3 L476.2,187.4 L476.3,186.5 L476.4,185.6 L476.5,184.8 L476.5,184.0 L476.6,183.2 L476.7,182.5 L476.8,181.8 L476.9,181.1 L477.0,180.5 L477.1,179.9 L477.2,179.3 L477.3,178.8 L477.4,178.3 L477.5,177.8 L477.6,177.4 L477.7,177.0 L477.8,176.6 L477.9,176.3 L478.0,176.0 L478.1,175.7 L478.1,175.5 L478.2,175.3 L478.3,175.1 L478.4,175.0 L478.5,174.9 L478.6,174.8 L478.7,174.7 L478.8,174.7 L478.9,174.7 L479.0,174.8 L479.1,174.9 L479.2,175.0 L479.3,175.1 L479.4,175.2 L479.4,175.4 L479.5,175.7 L479.6,175.9 L479.7,176.2 L479.8,176.5 L479.9,176.8 L480.0,177.2 L480.1,177.6 L480.2,178.0 L480.3,178.5 L480.4,179.0 L480.4,179.5 L480.5,180.0 L480.6,180.6 L480.7,181.2 L480.8,181.9 L480.9,182.5 L481.0,183.3 L481.1,184.0 L481.2,184.8 L481.3,185.6 L481.4,186.4 L481.5,187.3 L481.5,188.2 L481.6,189.1 L481.7,190.1 L481.8,191.1 L481.9,192.2 L482.0,193.2 L482.1,194.4 L482.2,195.5 L482.3,196.7 L482.4,197.9 L482.5,199.2 L482.6,200.5 L482.7,201.9 L482.8,203.3 L482.9,204.7 L483.0,206.2 L483.1,207.7 L483.2,209.3 L483.3,210.9 L483.4,212.5 L483.5,214.2 L483.6,216.0 L483.7,217.8 L483.8,219.6 L483.9,221.5 L484.0,223.5 L484.1,225.5 L484.2,227.6 L484.3,229.8 L484.4,232.0 L484.5,234.2 L484.7,236.6 L484.8,239.0 L484.9,241.4 L485.0,244.0 L485.1,246.6 L485.2,249.3 L485.4,252.2 L485.5,255.1 L485.6,258.0 L485.8,261.1 L485.9,264.4 L486.0,267.7 L486.2,271.1 L486.3,274.7 L486.5,278.5 L486.6,282.4 L486.8,286.5 L486.9,290.7 L487.1,295.2 L487.3,299.9 L487.4,297.0 L487.5,294.3 L487.6,291.8 L487.8,289.3 L487.9,287.1 L488.0,284.9 L488.1,282.9 L488.3,281.1 L488.4,279.3 L488.5,277.7 L488.6,276.2 L488.8,274.8 L488.9,273.5 L489.0,272.4 L489.1,271.3 L489.3,270.4 L489.4,269.6 L489.5,268.9 L489.7,268.3 L489.8,267.8 L489.9,267.5 L490.0,267.2 L490.2,267.0 L490.3,267.0 L490.4,267.1 L490.5,267.3 L490.5,267.7 L490.6,268.2 L490.7,268.9 L490.8,269.8 L490.9,270.8 L491.0,272.0 L491.0,273.3 L491.1,274.8 L491.2,276.5 L491.3,278.4 L491.4,280.4 L491.5,282.6 L491.5,285.0 L491.6,287.6 L491.7,290.4 L491.8,293.4 L492.0,286.6 L492.1,280.4 L492.2,274.6 L492.4,269.2 L492.5,264.1 L492.6,259.4 L492.8,254.8 L492.9,250.5 L493.0,246.4 L493.1,242.5 L493.2,238.8 L493.3,235.2 L493.4,231.7 L493.5,228.3 L493.6,225.1 L493.7,222.0 L493.8,219.0 L493.9,216.1 L494.0,213.3 L494.1,210.5 L494.2,207.9 L494.3,205.3 L494.4,202.8 L494.5,200.3 L494.6,197.9 L494.7,195.6 L494.8,193.4 L494.9,191.2 L495.0,189.0 L495.0,187.0 L495.1,184.9 L495.2,182.9 L495.3,181.0 L495.4,179.1 L495.5,177.3 L495.6,175.5 L495.6,173.7 L495.7,172.0 L495.8,170.3 L495.9,168.7 L496.0,167.1 L496.1,165.5 L496.1,164.0 L496.2,162.5 L496.3,161.1 L496.4,159.6 L496.5,158.3 L496.5,156.9 L496.6,155.6 L496.7,154.3 L496.8,153.0 L496.9,151.8 L496.9,150.6 L497.0,149.4 L497.1,148.3 L497.2,147.2 L497.2,146.1 L497.3,145.0 L497.4,144.0 L497.5,143.0 L497.6,142.0 L497.6,141.1 L497.7,140.1 L497.8,139.2 L497.9,138.4 L497.9,137.5 L498.0,136.7 L498.1,135.9 L498.2,135.1 L498.2,134.3 L498.3,133.6 L498.4,132.9 L498.5,132.2 L498.6,131.5 L498.6,130.9 L498.7,130.3 L498.8,129.7 L498.9,129.1 L498.9,128.6 L499.0,128.0 L499.1,127.5 L499.2,127.1 L499.2,126.6 L499.3,126.1 L499.4,125.7 L499.5,125.3 L499.5,125.0 L499.6,124.6 L499.7,124.3 L499.8,123.9 L499.8,123.6 L499.9,123.4 L500.0,123.1 L500.1,122.9 L500.1,122.7 L500.2,122.5 L500.3,122.3 L500.4,122.2 L500.4,122.0 L500.5,121.9 L500.6,121.8 L500.7,121.7 L500.7,121.7 L500.8,121.7 L500.9,121.7 L501.0,121.7 L501.0,121.7 L501.1,121.7 L501.2,121.8 L501.3,121.9 L501.3,122.0 L501.4,122.1 L501.5,122.2 L501.5,122.4 L501.6,122.5 L501.7,122.7 L501.7,122.9 L501.8,123.2 L501.9,123.4 L502.0,123.7 L502.0,123.9 L502.1,124.2 L502.2,124.5 L502.2,124.9 L502.3,125.2 L502.4,125.6 L502.5,126.0 L502.5,126.4 L502.6,126.8 L502.7,127.2 L502.7,127.7 L502.8,128.2 L502.9,128.7 L503.0,129.2 L503.0,129.7 L503.1,130.3 L503.2,130.9 L503.2,131.5 L503.3,132.1 L503.4,132.7 L503.5,133.4 L503.5,134.0 L503.6,134.7 L503.7,135.5 L503.8,136.2 L503.8,137.0 L503.9,137.7 L504.0,138.5 L504.1,139.4 L504.1,140.2 L504.2,141.1 L504.3,142.0 L504.4,142.9 L504.4,143.8 L504.5,144.8 L504.6,145.8 L504.7,146.8 L504.7,147.8 L504.8,148.9 L504.9,149.9 L505.0,151.0 L505.1,152.2 L505.1,153.3 L505.2,154.5 L505.3,155.7 L505.4,157.0 L505.5,158.2 L505.6,159.5 L505.7,160.9 L505.7,162.2 L505.8,163.6 L505.9,165.0 L506.0,166.5 L506.1,167.9 L506.2,169.5 L506.3,171.0 L506.4,172.6 L506.5,174.2 L506.6,175.8 L506.7,177.5 L506.8,179.3 L506.9,181.0 L507.0,182.8 L507.1,184.7 L507.2,186.6 L507.3,188.5 L507.4,190.5 L507.5,192.5 L507.6,194.6 L507.7,196.8 L507.8,199.0 L508.0,201.2 L508.1,203.5 L508.2,205.9 L508.3,208.3 L508.5,210.8 L508.6,213.4 L508.7,216.0 L508.9,218.7 L509.0,221.5 L509.2,224.4 L509.3,227.4 L509.5,230.5 L509.6,233.7 L509.8,237.0 L510.0,240.5 L510.1,244.0 L510.3,247.8 L510.5,251.6 L510.7,255.7 L510.9,260.0 L511.2,264.5 L511.4,269.2 L511.6,274.3 L511.9,279.6 L512.2,285.4 L512.5,291.6 L512.8,298.4 L512.9,295.5 L513.1,292.7 L513.2,290.1 L513.3,287.6 L513.5,285.3 L513.6,283.1 L513.7,281.1 L513.9,279.1 L514.0,277.3 L514.1,275.6 L514.2,274.1 L514.4,272.6 L514.5,271.3 L514.6,270.1 L514.8,269.0 L514.9,268.0 L515.0,267.1 L515.2,266.3 L515.3,265.6 L515.4,265.0 L515.5,264.6 L515.7,264.2 L515.8,263.9 L515.9,263.8 L516.1,263.7 L516.2,263.8 L516.4,264.0 L516.5,264.3 L516.7,264.8 L516.8,265.4 L516.9,266.1 L517.1,267.0 L517.2,268.0 L517.4,269.1 L517.5,270.4 L517.7,271.8 L517.8,273.4 L518.0,275.1 L518.1,276.9 L518.3,279.0 L518.4,281.1 L518.6,283.5 L518.7,286.0 L518.9,288.6 L519.1,285.2 L519.3,281.9 L519.5,278.7 L519.7,275.6 L519.9,272.6 L520.1,269.8 L520.3,267.0 L520.4,264.4 L520.6,261.8 L520.8,259.3 L520.9,256.9 L521.1,254.6 L521.3,252.4 L521.4,250.3 L521.6,248.2 L521.7,246.2 L521.8,244.2 L522.0,242.4 L522.1,240.6 L522.2,238.8 L522.4,237.2 L522.5,235.6 L522.6,234.0 L522.8,232.5 L522.9,231.1 L523.0,229.7 L523.1,228.4 L523.3,227.1 L523.4,225.9 L523.5,224.8 L523.6,223.7 L523.7,222.6 L523.9,221.6 L524.0,220.6 L524.1,219.7 L524.2,218.9 L524.3,218.1 L524.4,217.3 L524.5,216.6 L524.7,216.0 L524.8,215.3 L524.9,214.8 L525.0,214.3 L525.1,213.8 L525.2,213.4 L525.3,213.0 L525.5,212.6 L525.6,212.3 L525.7,212.1 L525.8,211.9 L525.9,211.7 L526.0,211.6 L526.1,211.6 L526.2,211.5 L526.3,211.6 L526.4,211.6 L526.5,211.7 L526.6,211.8 L526.7,212.0 L526.8,212.2 L526.9,212.4 L527.0,212.7 L527.1,213.0 L527.2,213.3 L527.3,213.7 L527.4,214.1 L527.5,214.5 L527.6,215.0 L527.7,215.5 L527.8,216.0 L527.9,216.6 L528.0,217.2 L528.1,217.9 L528.2,218.6 L528.3,219.3 L528.4,220.1 L528.5,220.9 L528.6,221.8 L528.7,222.7 L528.8,223.6 L528.9,224.5 L529.0,225.6 L529.1,226.6 L529.2,227.7 L529.3,228.8 L529.4,230.0 L529.5,231.2 L529.6,232.5 L529.7,233.8 L529.8,235.2 L529.9,236.6 L530.0,238.0 L530.1,239.5 L530.2,241.1 L530.3,242.7 L530.4,244.3 L530.5,246.0 L530.6,247.8 L530.7,249.6 L530.8,251.5 L530.9,253.4 L531.0,255.4 L531.1,257.5 L531.2,259.6 L531.3,261.8 L531.4,264.0 L531.5,266.4 L531.7,268.8 L531.8,271.3 L531.9,273.8 L532.0,276.5 L532.1,279.2 L532.2,282.0 L532.3,284.9 L532.4,288.0 L532.5,291.1 L532.6,294.4 L532.7,297.7 L532.8,301.2 L532.9,304.9 L533.0,308.7 L533.2,312.6 L533.3,316.8 L533.4,321.1 L533.8,321.7 L534.1,322.2 L534.5,322.8 L534.9,323.3 L535.1,325.3 L535.3,327.3 L535.5,329.3 L535.7,331.3 L535.9,333.2 L536.1,335.2 L536.3,337.2 L536.4,339.2 L536.6,341.2 L536.8,343.2 L537.0,345.2 L537.2,347.2 L537.4,349.2 L537.6,351.2 L537.8,353.1 L538.0,355.1 L538.0,357.8 L538.1,360.4 L538.2,363.1 L538.2,365.7 L538.3,368.4 L538.4,371.0 L538.4,373.7 L538.5,376.4 L538.5,379.0 L538.6,381.7 L538.7,384.3 L538.7,387.0 L538.8,389.6 L538.9,392.3 L538.9,394.9 L539.0,397.6 L539.0,400.2 L539.1,402.9 L539.2,405.5 L539.2,408.2 L539.3,410.8 L539.4,413.5 L539.4,416.1 L539.5,418.8 L539.5,421.4 L539.6,424.1 L539.7,426.7 L539.7,429.4 L539.8,432.0 L539.9,434.7 L539.9,437.3 L540.0,440.0 L540.0,442.6 L540.1,445.3 L540.2,447.9 L540.2,450.6 L540.3,453.2 L540.4,455.9 L540.4,458.5 L540.5,461.2 L540.5,463.8 L540.6,466.5 L540.7,463.9 L540.7,461.3 L540.8,458.7 L540.9,456.1 L541.0,453.6 L541.0,451.0 L541.1,448.4 L541.2,445.8 L541.2,443.2 L541.3,440.6 L541.4,438.0 L541.4,435.4 L541.5,432.9 L541.6,430.3 L541.7,427.7 L541.7,425.1 L541.8,422.5 L541.9,419.9 L541.9,417.3 L542.0,414.7 L542.1,412.1 L542.2,409.6 L542.2,407.0 L542.3,404.4 L542.4,401.8 L542.4,399.2 L542.5,396.6 L542.8,396.4 L543.2,396.1 L543.5,395.9 L543.6,390.7 L543.7,385.8 L543.9,381.2 L544.0,376.8 L544.1,372.6 L544.2,368.5 L544.3,364.7 L544.4,361.0 L544.5,357.5 L544.6,354.0 L544.7,350.8 L544.8,347.6 L544.9,344.5 L545.0,341.5 L545.1,338.7 L545.2,335.9 L545.3,333.2 L545.4,330.6 L545.5,328.1 L545.6,325.6 L545.7,323.2 L545.8,320.9 L545.9,318.6 L546.0,316.4 L546.1,314.3 L546.2,312.2 L546.3,310.2 L546.3,308.3 L546.4,306.4 L546.5,304.5 L546.6,302.7 L546.7,301.0 L546.8,299.3 L546.9,297.6 L547.0,296.0 L547.1,294.4 L547.2,292.9 L547.3,291.4 L547.4,290.0 L547.4,288.6 L547.5,287.2 L547.6,285.9 L547.7,284.6 L547.8,283.4 L547.9,282.2 L548.0,281.0 L548.1,279.9 L548.2,278.8 L548.3,277.7 L548.3,276.7 L548.4,275.7 L548.5,274.7 L548.6,273.8 L548.7,272.9 L548.8,272.0 L548.9,271.2 L549.0,270.4 L549.1,269.6 L549.1,268.9 L549.2,268.2 L549.3,267.5 L549.4,266.9 L549.5,266.3 L549.6,265.7 L549.7,265.1 L549.8,264.6 L549.9,264.1 L549.9,263.6 L550.0,263.2 L550.1,262.8 L550.2,262.4 L550.3,262.1 L550.4,261.7 L550.5,261.4 L550.6,261.2 L550.7,260.9 L550.7,260.7 L550.8,260.6 L550.9,260.4 L551.0,260.3 L551.1,260.2 L551.2,260.1 L551.3,260.1 L551.4,260.1 L551.5,260.1 L551.5,260.1 L551.6,260.2 L551.7,260.3 L551.8,260.4 L551.9,260.5 L552.0,260.7 L552.1,260.9 L552.2,261.2 L552.2,261.4 L552.3,261.7 L552.4,262.0 L552.5,262.4 L552.6,262.7 L552.7,263.1 L552.8,263.6 L552.9,264.0 L552.9,264.5 L553.0,265.0 L553.1,265.6 L553.2,266.1 L553.3,266.7 L553.4,267.4 L553.5,268.0 L553.6,268.7 L553.7,269.4 L553.7,270.2 L553.8,271.0 L553.9,271.8 L554.0,272.6 L554.1,273.5 L554.2,274.4 L554.3,275.4 L554.4,276.3 L554.5,277.3 L554.6,278.4 L554.6,279.5 L554.7,280.6 L554.8,281.7 L554.9,282.9 L555.0,284.1 L555.1,285.4 L555.2,286.7 L555.3,288.0 L555.4,289.3 L555.5,290.8 L555.6,292.2 L555.7,293.7 L555.8,295.2 L555.9,296.8 L556.0,298.4 L556.1,300.1 L556.2,301.8 L556.3,303.6 L556.4,305.4 L556.5,307.2 L556.6,309.1 L556.7,311.1 L556.8,313.1 L556.9,315.2 L557.0,317.3 L557.1,319.5 L557.2,321.8 L557.3,324.1 L557.4,326.5 L557.6,328.9 L557.7,331.5 L557.8,334.1 L557.9,336.8 L558.0,339.6 L558.2,342.4 L558.3,345.4 L558.4,348.5 L558.6,351.7 L558.7,354.9 L558.8,358.4 L559.0,361.9 L559.1,365.6 L559.3,369.4 L559.4,373.5 L559.6,377.7 L559.8,382.1 L559.9,386.7 L560.1,391.6 L560.3,387.7 L560.5,383.9 L560.7,380.3 L560.9,376.8 L561.1,373.5 L561.3,370.3 L561.5,367.2 L561.7,364.2 L561.8,361.3 L562.0,358.5 L562.2,355.8 L562.3,353.2 L562.5,350.6 L562.6,348.2 L562.8,345.8 L562.9,343.5 L563.0,341.3 L563.2,339.1 L563.3,337.0 L563.4,335.0 L563.6,333.0 L563.7,331.1 L563.8,329.2 L564.0,327.4 L564.1,325.7 L564.2,324.0 L564.3,322.4 L564.4,320.8 L564.5,319.3 L564.7,317.8 L564.8,316.4 L564.9,315.0 L565.0,313.6 L565.1,312.4 L565.2,311.1 L565.3,309.9 L565.4,308.8 L565.5,307.6 L565.6,306.6 L565.7,305.5 L565.8,304.6 L566.0,303.6 L566.1,302.7 L566.2,301.8 L566.3,301.0 L566.4,300.2 L566.5,299.5 L566.6,298.8 L566.7,298.1 L566.8,297.5 L566.9,296.9 L567.0,296.3 L567.1,295.8 L567.2,295.3 L567.3,294.9 L567.4,294.5 L567.5,294.1 L567.6,293.8 L567.7,293.5 L567.8,293.2 L567.9,293.0 L568.0,292.8 L568.1,292.6 L568.2,292.5 L568.3,292.4 L568.4,292.3 L568.5,292.3 L568.6,292.4 L568.8,292.5 L568.9,292.7 L569.1,292.9 L569.2,293.3 L569.4,293.7 L569.6,294.2 L569.8,294.8 L570.0,295.5 L570.3,296.2 L570.6,297.1 L571.0,298.0 L571.4,299.0 L571.9,300.0 L572.4,301.2 L573.1,302.5 L573.9,303.8 L574.2,304.7 L574.6,305.7 L574.9,306.6 L575.3,307.5 L575.6,308.4 L575.9,309.4 L576.3,310.3 L576.4,312.6 L576.6,315.0 L576.7,317.3 L576.9,319.6 L577.0,321.9 L577.2,324.3 L577.3,326.6 L577.5,328.9 L577.6,331.3 L577.8,333.6 L577.9,335.9 L578.1,338.2 L578.2,340.6 L578.4,342.9 L578.6,345.2 L578.7,347.6 L578.9,349.9 L579.0,352.2 L579.2,354.6 L579.3,356.9 L579.5,359.2 L579.6,361.5 L579.8,363.9 L579.9,366.2 L580.1,368.5 L580.2,370.9 L580.4,373.2 L580.5,375.5 L580.7,377.8 L580.8,380.2 L581.0,382.5 L581.1,384.8 L581.3,387.2 L581.4,389.5 L581.6,391.8 L581.7,394.1 L581.9,396.5 L582.0,398.8 L582.2,401.1 L582.3,403.5 L582.5,405.8 L582.7,408.1 L582.8,410.4 L583.0,412.8 L583.1,415.1 L583.3,417.4 L583.4,419.8 L583.6,422.1 L583.7,424.4 L583.9,426.7 L584.0,429.1 L584.2,431.4 L584.3,433.7 L584.5,436.1 L584.6,438.4 L584.8,440.7 L584.9,443.1 L585.1,445.4 L585.2,447.7 L585.4,450.0 L585.5,452.4 L585.7,454.7 L585.8,457.0 L586.0,459.4 L586.1,461.7 L586.3,464.0 L586.4,466.3 L586.6,468.7 L586.8,471.0 L587.1,466.5 L587.4,462.2 L587.7,458.1 L588.0,454.2 L588.3,450.4 L588.6,446.8 L588.8,443.3 L589.1,440.0 L589.3,436.8 L589.5,433.7 L589.8,430.7 L590.0,427.7 L590.2,424.9 L590.4,422.2 L590.6,419.5 L590.8,416.9 L590.9,414.4 L591.1,412.0 L591.3,409.6 L591.4,407.3 L591.6,405.1 L591.7,402.9 L591.9,400.8 L592.0,398.7 L592.2,396.7 L592.3,394.8 L592.5,392.9 L592.6,391.0 L592.7,389.2 L592.9,387.4 L593.0,385.7 L593.1,384.0 L593.2,382.4 L593.3,380.8 L593.5,379.3 L593.6,377.7 L593.7,376.3 L593.8,374.8 L593.9,373.4 L594.0,372.1 L594.1,370.8 L594.2,369.5 L594.3,368.2 L594.4,367.0 L594.5,365.8 L594.6,364.6 L594.7,363.5 L594.8,362.4 L594.9,361.4 L595.0,360.3 L595.1,359.3 L595.2,358.4 L595.3,357.4 L595.4,356.5 L595.5,355.6 L595.5,354.8 L595.6,354.0 L595.7,353.2 L595.8,352.4 L595.9,351.6 L596.0,350.9 L596.1,350.2 L596.2,349.6 L596.2,348.9 L596.3,348.3 L596.4,347.8 L596.5,347.2 L596.6,346.7 L596.7,346.2 L596.7,345.7 L596.8,345.2 L596.9,344.8 L597.0,344.4 L597.1,344.0 L597.2,343.7 L597.2,343.4 L597.3,343.1 L597.4,342.8 L597.5,342.5 L597.6,342.3 L597.7,342.1 L597.7,341.9 L597.8,341.7 L597.9,341.6 L598.0,341.5 L598.1,341.4 L598.2,341.4 L598.2,341.3 L598.3,341.3 L598.4,341.3 L598.5,341.4 L598.6,341.4 L598.7,341.5 L598.8,341.7 L598.8,341.8 L598.9,342.0 L599.0,342.2 L599.1,342.4 L599.2,342.7 L599.3,343.0 L599.4,343.3 L599.5,343.6 L599.5,344.0 L599.6,344.4 L599.7,344.8 L599.8,345.3 L599.9,345.7 L600.0,346.3 L600.1,346.8 L600.2,347.4 L600.2,348.0 L600.3,348.6 L600.4,349.3 L600.5,349.9 L600.6,350.7 L600.7,351.4 L600.8,352.2 L600.9,353.0 L601.0,353.8 L601.0,354.7 L601.1,355.6 L601.2,356.5 L601.3,357.5 L601.4,358.5 L601.5,359.6 L601.6,360.6 L601.7,361.7 L601.8,362.9 L601.8,364.0 L601.9,365.3 L602.0,366.5 L602.1,367.8 L602.2,369.1 L602.3,370.5 L602.4,371.9 L602.5,373.3 L602.6,374.8 L602.7,376.3 L602.8,377.9 L602.9,379.5 L603.0,381.1 L603.1,382.9 L603.2,384.6 L603.2,386.4 L603.3,388.2 L603.4,390.1 L603.5,392.1 L603.6,394.1 L603.7,396.2 L603.8,398.3 L603.9,400.5 L604.0,402.7 L604.1,405.0 L604.3,407.4 L604.4,409.8 L604.5,412.3 L604.6,414.9 L604.7,417.6 L604.8,420.4 L604.9,423.2 L605.0,426.2 L605.1,429.2 L605.2,432.4 L605.4,435.6 L605.5,439.0 L605.6,442.5 L605.7,446.2 L605.9,450.0 L606.0,454.0 L606.1,458.1 L606.3,462.5 L606.4,467.1 L606.5,471.9 L606.7,477.0 L606.8,472.2 L606.9,467.7 L606.9,463.4 L607.0,459.2 L607.1,455.3 L607.2,451.5 L607.3,447.9 L607.3,444.4 L607.4,441.0 L607.5,437.8 L607.6,434.6 L607.6,431.6 L607.7,428.7 L607.8,425.9 L607.9,423.2 L608.0,420.6 L608.0,418.0 L608.1,415.5 L608.2,413.2 L608.3,410.9 L608.4,408.6 L608.4,406.5 L608.5,404.4 L608.6,402.3 L608.7,400.4 L608.8,398.5 L608.8,396.6 L608.9,394.8 L609.0,393.1 L609.1,391.4 L609.1,389.8 L609.2,388.3 L609.3,386.7 L609.4,385.3 L609.5,383.9 L609.5,382.5 L609.6,381.2 L609.7,379.9 L609.8,378.7 L609.9,377.5 L609.9,376.4 L610.0,375.3 L610.1,374.3 L610.2,373.3 L610.2,372.4 L610.3,371.4 L610.4,370.6 L610.5,369.7 L610.6,369.0 L610.6,368.2 L610.7,367.5 L610.8,366.8 L610.9,366.2 L611.0,365.6 L611.0,365.1 L611.1,364.6 L611.2,364.1 L611.3,363.7 L611.4,363.3 L611.4,362.9 L611.5,362.6 L611.6,362.3 L611.7,362.1 L611.7,361.9 L611.8,361.7 L611.9,361.6 L612.0,361.5 L612.1,361.4 L612.1,361.4 L612.2,361.4 L612.3,361.5 L612.4,361.6 L612.4,361.8 L612.5,362.0 L612.6,362.3 L612.7,362.6 L612.7,362.9 L612.8,363.4 L612.9,363.8 L613.0,364.3 L613.0,364.9 L613.1,365.5 L613.2,366.1 L613.3,366.8 L613.3,367.6 L613.4,368.4 L613.5,369.2 L613.6,370.1 L613.6,371.1 L613.7,372.1 L613.8,373.2 L613.9,374.3 L613.9,375.5 L614.0,376.7 L614.1,378.0 L614.2,379.3 L614.2,380.8 L614.3,382.2 L614.4,383.8 L614.5,385.3 L614.5,387.0 L614.6,388.7 L614.7,390.5 L614.8,392.4 L614.8,394.3 L614.9,396.3 L615.0,398.4 L615.1,400.5 L615.1,402.8 L615.2,405.1 L615.3,407.5 L615.4,410.0 L615.4,412.5 L615.5,415.2 L615.6,418.0 L615.7,420.9 L615.7,423.9 L615.8,427.0 L615.9,430.2 L616.0,433.6 L616.0,437.1 L616.1,440.7 L616.2,444.5 L616.3,448.5 L616.3,452.6 L616.4,456.9 L616.5,451.2 L616.6,445.8 L616.7,440.7 L616.7,435.9 L616.8,431.4 L616.9,427.1 L617.0,422.9 L617.1,419.0 L617.1,415.2 L617.2,411.6 L617.3,408.1 L617.4,404.7 L617.5,401.5 L617.5,398.3 L617.6,395.3 L617.7,392.4 L617.8,389.5 L617.9,386.8 L617.9,384.1 L618.0,381.5 L618.1,379.0 L618.2,376.6 L618.3,374.2 L618.3,371.9 L618.4,369.7 L618.5,367.5 L618.6,365.4 L618.7,363.3 L618.8,361.3 L618.8,359.3 L618.9,357.4 L619.0,355.6 L619.1,353.8 L619.2,352.0 L619.2,350.3 L619.3,348.6 L619.4,347.0 L619.5,345.4 L619.6,343.9 L619.6,342.4 L619.7,340.9 L619.8,339.5 L619.9,338.1 L620.0,336.8 L620.0,335.5 L620.1,334.2 L620.2,333.0 L620.3,331.8 L620.4,330.6 L620.4,329.5 L620.5,328.4 L620.6,327.3 L620.7,326.3 L620.8,325.3 L620.8,324.3 L620.9,323.4 L621.0,322.4 L621.1,321.6 L621.2,320.7 L621.2,319.9 L621.3,319.1 L621.4,318.4 L621.5,317.6 L621.6,316.9 L621.7,316.2 L621.7,315.6 L621.8,315.0 L621.9,314.4 L622.0,313.8 L622.1,313.3 L622.1,312.8 L622.2,312.3 L622.3,311.9 L622.4,311.4 L622.5,311.0 L622.5,310.6 L622.6,310.3 L622.7,310.0 L622.8,309.7 L622.9,309.4 L622.9,309.2 L623.0,309.0 L623.1,308.8 L623.2,308.6 L623.3,308.5 L623.3,308.3 L623.4,308.2 L623.5,308.2 L623.6,308.1 L623.7,308.1 L623.8,308.1 L623.8,308.2 L623.9,308.3 L624.0,308.4 L624.1,308.5 L624.2,308.7 L624.3,308.9 L624.4,309.1 L624.5,309.3 L624.6,309.6 L624.7,309.9 L624.8,310.3 L624.8,310.6 L624.9,311.0 L625.0,311.5 L625.1,311.9 L625.2,312.4 L625.3,312.9 L625.4,313.5 L625.5,314.1 L625.6,314.7 L625.7,315.3 L625.8,316.0 L625.9,316.7 L626.0,317.5 L626.1,318.3 L626.1,319.1 L626.2,319.9 L626.3,320.8 L626.4,321.7 L626.5,322.7 L626.6,323.6 L626.7,324.7 L626.8,325.7 L626.9,326.8 L627.0,327.9 L627.1,329.1 L627.2,330.3 L627.3,331.5 L627.4,332.8 L627.5,334.1 L627.6,335.5 L627.7,336.9 L627.8,338.4 L628.0,339.9 L628.1,341.4 L628.2,343.0 L628.3,344.6 L628.4,346.3 L628.5,348.0 L628.6,349.8 L628.7,351.6 L628.9,353.5 L629.0,355.4 L629.1,357.4 L629.2,359.4 L629.4,361.5 L629.5,363.7 L629.6,365.9 L629.8,368.2 L629.9,370.6 L630.1,373.0 L630.2,375.5 L630.4,378.1 L630.5,380.7 L630.7,383.5 L630.9,386.3 L631.0,389.3 L631.2,392.3 L631.4,395.5 L631.6,398.7 L631.8,402.1 L632.0,405.6 L632.2,409.3 L632.4,413.1 L632.6,417.0 L632.9,421.2 L633.1,425.5 L633.3,423.6 L633.5,421.8 L633.7,419.9 L633.9,418.0 L634.1,416.1 L634.3,414.2 L634.5,412.3 L634.7,410.4 L634.9,408.6 L635.1,406.7 L635.5,406.3 L635.9,405.8 L636.4,405.4 L636.6,400.2 L636.8,395.3 L637.0,390.6 L637.2,386.2 L637.3,381.9 L637.5,377.9 L637.7,374.0 L637.8,370.3 L638.0,366.8 L638.2,363.4 L638.3,360.1 L638.4,356.9 L638.6,353.8 L638.7,350.8 L638.9,347.9 L639.0,345.1 L639.1,342.4 L639.2,339.8 L639.4,337.3 L639.5,334.8 L639.6,332.4 L639.7,330.0 L639.8,327.7 L639.9,325.5 L640.1,323.4 L640.2,321.3 L640.3,319.2 L640.4,317.2 L640.5,315.3 L640.6,313.4 L640.7,311.6 L640.8,309.8 L640.9,308.0 L641.0,306.3 L641.1,304.6 L641.2,303.0 L641.3,301.4 L641.4,299.9 L641.5,298.4 L641.6,296.9 L641.7,295.5 L641.7,294.1 L641.8,292.8 L641.9,291.5 L642.0,290.2 L642.1,288.9 L642.2,287.7 L642.3,286.5 L642.4,285.4 L642.5,284.3 L642.6,283.2 L642.6,282.1 L642.7,281.1 L642.8,280.1 L642.9,279.2 L643.0,278.2 L643.1,277.3 L643.2,276.4 L643.2,275.6 L643.3,274.8 L643.4,274.0 L643.5,273.2 L643.6,272.5 L643.7,271.8 L643.7,271.1 L643.8,270.4 L643.9,269.8 L644.0,269.2 L644.1,268.6 L644.2,268.1 L644.2,267.5 L644.3,267.0 L644.4,266.6 L644.5,266.1 L644.6,265.7 L644.7,265.3 L644.7,264.9 L644.8,264.6 L644.9,264.2 L645.0,263.9 L645.1,263.7 L645.2,263.4 L645.2,263.2 L645.3,263.0 L645.4,262.8 L645.5,262.6 L645.6,262.5 L645.6,262.4 L645.7,262.3 L645.8,262.3 L645.9,262.2 L646.0,262.2 L646.1,262.2 L646.2,262.3 L646.2,262.3 L646.3,262.4 L646.4,262.6 L646.5,262.7 L646.6,262.9 L646.7,263.1 L646.8,263.4 L646.9,263.6 L647.0,263.9 L647.0,264.3 L647.1,264.6 L647.2,265.0 L647.3,265.4 L647.4,265.9 L647.5,266.4 L647.6,266.9 L647.7,267.4 L647.8,268.0 L647.9,268.6 L648.0,269.2 L648.1,269.9 L648.1,270.5 L648.2,271.3 L648.3,272.0 L648.4,272.8 L648.5,273.6 L648.6,274.5 L648.7,275.4 L648.8,276.3 L648.9,277.2 L649.0,278.2 L649.1,279.2 L649.2,280.3 L649.3,281.4 L649.4,282.5 L649.5,283.7 L649.6,284.9 L649.8,286.1 L649.9,287.4 L650.0,288.7 L650.1,290.0 L650.2,291.4 L650.3,292.9 L650.4,294.3 L650.6,295.9 L650.7,297.4 L650.8,299.0 L651.0,300.7 L651.1,302.4 L651.2,304.2 L651.4,306.0 L651.5,307.8 L651.7,309.7 L651.8,311.7 L652.0,313.7 L652.1,315.8 L652.3,317.9 L652.5,320.1 L652.6,322.4 L652.8,324.7 L653.0,327.1 L653.2,329.5 L653.4,332.1 L653.6,334.7 L653.8,337.4 L654.0,340.2 L654.2,343.1 L654.5,346.1 L654.7,349.1 L655.0,352.3 L655.3,355.6 L655.5,359.1 L655.8,362.6 L656.2,366.4 L656.5,370.2 L656.6,367.4 L656.7,364.8 L656.9,362.4 L657.0,360.0 L657.1,357.9 L657.3,355.8 L657.4,353.9 L657.5,352.1 L657.7,350.5 L657.8,348.9 L657.9,347.5 L658.1,346.2 L658.2,345.1 L658.3,344.0 L658.4,343.1 L658.6,342.2 L658.7,341.5 L658.8,340.9 L659.0,340.4 L659.1,340.0 L659.2,339.8 L659.4,339.6 L659.5,339.6 L659.6,339.6 L659.7,339.7 L659.8,339.8 L659.9,340.0 L660.0,340.2 L660.1,340.6 L660.2,340.9 L660.2,341.3 L660.3,341.8 L660.4,342.3 L660.5,342.9 L660.6,343.6 L660.7,344.3 L660.8,345.1 L660.9,345.9 L661.0,346.8 L661.1,347.7 L661.2,348.7 L661.3,349.8 L661.4,350.9 L661.5,352.1 L661.6,353.4 L661.7,354.7 L661.8,356.1 L661.9,357.5 L661.9,359.1 L662.0,360.7 L662.1,362.4 L662.2,364.1 L662.3,365.9 L662.4,367.8 L662.5,369.8 L662.6,371.9 L662.7,374.0 L662.8,376.2 L662.9,378.6 L663.0,381.0 L663.1,383.5 L663.2,386.1 L663.3,388.8 L663.4,391.6 L663.5,394.6 L663.5,397.6 L663.6,400.8 L663.7,404.1 L663.8,407.6 L663.9,411.2 L664.0,415.0 L664.1,411.5 L664.2,408.2 L664.4,405.0 L664.5,402.0 L664.6,399.0 L664.7,396.2 L664.8,393.5 L664.9,390.9 L665.0,388.4 L665.1,386.0 L665.2,383.7 L665.4,381.4 L665.5,379.3 L665.6,377.3 L665.7,375.3 L665.8,373.4 L665.9,371.6 L666.0,369.9 L666.1,368.2 L666.3,366.7 L666.4,365.1 L666.5,363.7 L666.6,362.3 L666.7,361.0 L666.8,359.8 L666.9,358.6 L667.0,357.5 L667.1,356.5 L667.3,355.5 L667.4,354.6 L667.5,353.8 L667.6,353.0 L667.7,352.3 L667.8,351.6 L667.9,351.0 L668.0,350.4 L668.2,349.9 L668.3,349.5 L668.4,349.1 L668.5,348.8 L668.6,348.6 L668.7,348.4 L668.8,348.2 L668.9,348.1 L669.0,348.1 L669.1,348.1 L669.2,348.1 L669.3,348.2 L669.4,348.3 L669.4,348.4 L669.5,348.5 L669.6,348.7 L669.7,348.8 L669.8,349.0 L669.8,349.2 L669.9,349.5 L670.0,349.7 L670.1,350.0 L670.2,350.3 L670.2,350.6 L670.3,351.0 L670.4,351.4 L670.5,351.8 L670.6,352.2 L670.6,352.6 L670.7,353.1 L670.8,353.6 L670.9,354.1 L671.0,354.7 L671.0,355.2 L671.1,355.8 L671.2,356.4 L671.3,357.1 L671.4,357.7 L671.5,358.4 L671.5,359.1 L671.6,359.9 L671.7,360.6 L671.8,361.4 L671.9,362.2 L671.9,363.1 L672.0,364.0 L672.1,364.9 L672.2,365.8 L672.3,366.7 L672.4,367.7 L672.5,368.7 L672.5,369.8 L672.6,370.9 L672.7,372.0 L672.8,373.1 L672.9,374.2 L673.0,375.4 L673.1,376.7 L673.2,377.9 L673.2,379.2 L673.3,380.5 L673.4,381.9 L673.5,383.3 L673.6,384.7 L673.7,386.2 L673.8,387.7 L673.9,389.2 L674.0,390.8 L674.1,392.4 L674.2,394.1 L674.3,395.8 L674.4,397.5 L674.5,399.3 L674.6,401.1 L674.7,403.0 L674.8,404.9 L674.9,406.9 L675.0,409.0 L675.1,411.0 L675.3,413.2 L675.4,415.4 L675.5,417.6 L675.6,419.9 L675.7,422.3 L675.9,424.8 L676.0,427.3 L676.1,429.9 L676.3,432.5 L676.4,435.3 L676.5,438.1 L676.7,441.1 L676.8,444.1 L677.0,447.2 L677.1,450.5 L677.3,453.8 L677.5,457.3 L677.6,460.9 L677.8,464.7 L678.0,468.7 L678.2,472.8 L678.4,477.1 L678.6,481.7 L678.8,486.5 L679.1,491.6 L679.3,497.0 L679.5,494.0 L679.6,491.0 L679.8,488.2 L679.9,485.6 L680.1,483.0 L680.2,480.5 L680.4,478.2 L680.5,475.9 L680.7,473.7 L680.8,471.7 L680.9,469.7 L681.1,467.8 L681.2,466.0 L681.4,464.3 L681.5,462.6 L681.6,461.1 L681.8,459.6 L681.9,458.2 L682.1,456.8 L682.2,455.6 L682.3,454.4 L682.5,453.3 L682.6,452.3 L682.7,451.3 L682.9,450.4 L683.0,449.6 L683.1,448.8 L683.3,448.1 L683.4,447.5 L683.6,447.0 L683.7,446.5 L683.8,446.0 L684.0,445.7 L684.1,445.4 L684.2,445.2 L684.4,445.0 L684.5,444.9 L684.6,444.9 L684.8,444.9 L684.9,445.1 L685.1,445.4 L685.3,445.8 L685.4,446.4 L685.6,447.0 L685.7,447.8 L685.9,448.7 L686.1,449.8 L686.2,450.9 L686.4,452.2 L686.5,453.6 L686.7,455.2 L686.8,456.9 L687.0,458.7 L687.2,460.7 L687.3,462.8 L687.5,465.0 L687.6,467.4 L687.8,470.0 L687.9,465.7 L688.0,461.6 L688.1,457.7 L688.3,454.0 L688.4,450.4 L688.5,446.9 L688.6,443.6 L688.7,440.3 L688.8,437.2 L688.9,434.2 L689.0,431.3 L689.1,428.5 L689.2,425.8 L689.3,423.2 L689.4,420.7 L689.5,418.2 L689.6,415.8 L689.7,413.5 L689.9,411.3 L690.0,409.1 L690.1,407.0 L690.2,405.0 L690.3,403.0 L690.4,401.1 L690.5,399.2 L690.6,397.4 L690.7,395.7 L690.8,394.0 L690.9,392.3 L691.0,390.8 L691.1,389.2 L691.2,387.7 L691.3,386.3 L691.4,384.9 L691.5,383.5 L691.6,382.2 L691.7,381.0 L691.8,379.8 L691.9,378.6 L692.0,377.5 L692.1,376.4 L692.2,375.3 L692.3,374.3 L692.4,373.4 L692.5,372.5 L692.6,371.6 L692.7,370.7 L692.8,369.9 L692.9,369.2 L693.0,368.4 L693.1,367.7 L693.2,367.1 L693.3,366.5 L693.4,365.9 L693.5,365.3 L693.6,364.8 L693.7,364.4 L693.8,363.9 L693.9,363.5 L694.0,363.2 L694.1,362.8 L694.1,362.5 L694.2,362.3 L694.3,362.0 L694.4,361.9 L694.5,361.7 L694.6,361.6 L694.7,361.5 L694.8,361.4 L694.9,361.4 L695.1,361.4 L695.2,361.5 L695.3,361.7 L695.4,361.8 L695.6,362.1 L695.7,362.4 L695.8,362.7 L695.9,363.1 L696.0,363.6 L696.2,364.1 L696.3,364.6 L696.4,365.3 L696.5,365.9 L696.7,366.7 L696.8,367.4 L696.9,368.3 L697.0,369.2 L697.1,370.1 L697.3,371.1 L697.4,372.2 L697.5,373.3 L697.6,374.5 L697.8,375.8 L697.9,377.1 L698.0,378.5 L698.2,380.0 L698.3,381.5 L698.4,383.0 L698.5,384.7 L698.7,386.4 L698.8,388.2 L698.9,390.1 L699.1,392.0 L699.2,394.1 L699.3,396.2 L699.5,398.3 L699.6,400.6 L699.8,403.0 L699.9,405.4 L700.0,408.0 L700.2,410.6 L700.3,413.4 L700.5,416.2 L700.7,419.2 L700.8,422.3 L701.0,425.5 L701.1,422.7 L701.3,420.0 L701.4,417.5 L701.5,415.1 L701.7,412.8 L701.8,410.6 L701.9,408.5 L702.1,406.6 L702.2,404.7 L702.4,403.0 L702.5,401.3 L702.6,399.8 L702.8,398.3 L702.9,396.9 L703.1,395.7 L703.2,394.5 L703.3,393.4 L703.5,392.4 L703.6,391.6 L703.7,390.7 L703.9,390.0 L704.0,389.4 L704.2,388.8 L704.3,388.4 L704.4,388.0 L704.6,387.7 L704.7,387.5 L704.9,387.4 L705.0,387.3 L705.1,387.3 L705.2,387.4 L705.3,387.5 L705.5,387.7 L705.6,387.9 L705.7,388.2 L705.8,388.5 L705.9,388.8 L706.0,389.2 L706.2,389.7 L706.3,390.2 L706.4,390.8 L706.5,391.4 L706.6,392.0 L706.7,392.7 L706.9,393.5 L707.0,394.3 L707.1,395.1 L707.2,396.0 L707.3,397.0 L707.4,398.0 L707.6,399.1 L707.7,400.2 L707.8,401.4 L707.9,402.6 L708.1,403.9 L708.2,405.2 L708.3,406.6 L708.4,408.1 L708.6,409.6 L708.7,411.2 L708.8,412.9 L708.9,414.6 L709.1,416.4 L709.2,418.3 L709.4,420.2 L709.5,422.2 L709.6,424.3 L709.8,426.4 L709.9,428.7 L710.1,431.0 L710.2,433.4 L710.4,435.9 L710.5,438.4 L710.7,441.1 L710.9,443.9 L711.0,446.8 L711.2,449.8 L711.4,452.9 L711.6,456.1 L711.8,459.5 L712.0,456.2 L712.2,453.1 L712.4,450.1 L712.6,447.2 L712.8,444.4 L713.0,441.7 L713.2,439.1 L713.4,436.6 L713.6,434.2 L713.7,431.9 L713.9,429.6 L714.0,427.5 L714.2,425.4 L714.4,423.4 L714.5,421.4 L714.6,419.6 L714.8,417.8 L714.9,416.0 L715.1,414.4 L715.2,412.8 L715.3,411.2 L715.5,409.7 L715.6,408.3 L715.7,407.0 L715.9,405.7 L716.0,404.4 L716.1,403.3 L716.2,402.1 L716.4,401.1 L716.5,400.0 L716.6,399.1 L716.7,398.2 L716.8,397.3 L717.0,396.5 L717.1,395.7 L717.2,395.0 L717.3,394.4 L717.4,393.8 L717.5,393.2 L717.7,392.7 L717.8,392.3 L717.9,391.9 L718.0,391.5 L718.1,391.2 L718.2,390.9 L718.4,390.7 L718.5,390.5 L718.6,390.4 L718.7,390.4 L718.8,390.3 L719.0,390.4 L719.1,390.5 L719.2,390.6 L719.4,390.9 L719.5,391.2 L719.7,391.6 L719.8,392.0 L719.9,392.5 L720.1,393.1 L720.2,393.8 L720.4,394.5 L720.5,395.3 L720.7,396.2 L720.9,397.2 L721.0,398.2 L721.2,399.3 L721.4,400.5 L721.6,401.7 L721.8,403.1 L722.0,404.5 L722.2,406.0 L722.5,407.6 L722.7,409.3 L723.0,411.0 L723.3,412.9 L723.6,414.8 L723.9,416.8 L724.3,419.0 L724.7,421.2 L725.1,423.5 L725.5,422.8 L725.9,422.1 L726.2,421.4 L726.6,420.7 L727.0,420.0 L727.4,419.2 L727.5,421.4 L727.7,423.5 L727.9,425.7 L728.1,427.8 L728.3,430.0 L728.4,432.1 L728.6,434.3 L728.8,436.4 L729.0,438.6 L729.1,440.7 L729.3,442.9 L729.5,445.0 L729.7,447.2 L729.8,449.3 L730.0,451.5 L730.2,453.6 L730.4,455.8 L730.6,457.9 L730.7,460.1 L730.9,462.2 L731.1,464.4 L731.3,466.5 L731.4,468.7 L731.6,470.8 L731.8,473.0 L731.9,469.3 L732.0,465.7 L732.1,462.3 L732.2,459.1 L732.2,455.9 L732.3,452.9 L732.4,450.0 L732.5,447.2 L732.6,444.6 L732.7,442.0 L732.8,439.6 L732.9,437.2 L733.0,434.9 L733.1,432.7 L733.1,430.6 L733.2,428.6 L733.3,426.7 L733.4,424.9 L733.5,423.1 L733.6,421.4 L733.7,419.8 L733.8,418.3 L733.9,416.8 L733.9,415.4 L734.0,414.1 L734.1,412.8 L734.2,411.6 L734.3,410.5 L734.4,409.5 L734.5,408.5 L734.6,407.5 L734.7,406.7 L734.8,405.9 L734.8,405.1 L734.9,404.4 L735.0,403.8 L735.1,403.3 L735.2,402.8 L735.3,402.3 L735.4,401.9 L735.5,401.6 L735.6,401.4 L735.6,401.2 L735.7,401.0 L735.8,400.9 L735.9,400.9 L736.0,400.9 L736.1,401.0 L736.2,401.2 L736.3,401.4 L736.4,401.7 L736.5,402.1 L736.6,402.5 L736.7,403.0 L736.8,403.6 L736.9,404.2 L737.0,404.9 L737.1,405.7 L737.2,406.6 L737.3,407.5 L737.4,408.5 L737.5,409.5 L737.5,410.7 L737.6,411.9 L737.7,413.2 L737.8,414.6 L737.9,416.0 L738.0,417.5 L738.1,419.1 L738.2,420.8 L738.3,422.6 L738.4,424.5 L738.5,426.4 L738.6,428.5 L738.7,430.6 L738.8,432.8 L738.9,435.2 L739.0,437.6 L739.1,440.1 L739.2,442.8 L739.3,445.6 L739.4,448.5 L739.5,451.5 L739.6,454.7 L739.7,458.0 L739.8,461.4 L739.9,465.0 L739.9,461.0 L740.0,457.2 L740.1,453.6 L740.2,450.1 L740.3,446.7 L740.4,443.5 L740.5,440.4 L740.5,437.4 L740.6,434.6 L740.7,431.8 L740.8,429.1 L740.9,426.6 L741.0,424.1 L741.1,421.7 L741.2,419.4 L741.2,417.2 L741.3,415.1 L741.4,413.0 L741.5,411.1 L741.6,409.2 L741.7,407.3 L741.8,405.6 L741.9,403.9 L741.9,402.3 L742.0,400.7 L742.1,399.2 L742.2,397.8 L742.3,396.4 L742.4,395.1 L742.5,393.9 L742.5,392.7 L742.6,391.6 L742.7,390.5 L742.8,389.5 L742.9,388.5 L743.0,387.6 L743.1,386.8 L743.2,386.0 L743.2,385.2 L743.3,384.5 L743.4,383.9 L743.5,383.3 L743.6,382.8 L743.7,382.3 L743.8,381.9 L743.9,381.5 L743.9,381.2 L744.0,380.9 L744.1,380.7 L744.2,380.5 L744.3,380.4 L744.4,380.3 L744.5,380.3 L744.6,380.3 L744.7,380.4 L744.8,380.5 L744.9,380.6 L745.0,380.8 L745.1,381.1 L745.2,381.3 L745.3,381.7 L745.5,382.0 L745.6,382.4 L745.7,382.9 L745.8,383.4 L745.9,383.9 L746.0,384.5 L746.1,385.2 L746.2,385.8 L746.3,386.6 L746.4,387.3 L746.6,388.1 L746.7,389.0 L746.8,389.9 L746.9,390.9 L747.0,391.9 L747.1,393.0 L747.2,394.1 L747.3,395.2 L747.4,396.4 L747.6,397.7 L747.7,399.0 L747.8,400.4 L747.9,401.8 L748.0,403.3 L748.1,404.8 L748.2,406.4 L748.3,408.1 L748.5,409.8 L748.6,411.6 L748.7,413.4 L748.8,415.4 L748.9,417.3 L749.0,419.4 L749.1,421.5 L749.3,423.7 L749.4,426.0 L749.5,428.3 L749.6,430.8 L749.7,433.3 L749.9,435.9 L750.0,438.6 L750.1,441.4 L750.2,444.3 L750.3,447.3 L750.5,450.4 L750.6,453.7 L750.7,457.0 L750.8,460.5 L751.0,464.2 L751.1,468.0 L751.4,464.6 L751.6,461.4 L751.8,458.2 L752.1,455.2 L752.3,452.3 L752.5,449.4 L752.7,446.7 L752.9,444.1 L753.1,441.6 L753.3,439.1 L753.5,436.7 L753.6,434.5 L753.8,432.2 L754.0,430.1 L754.1,428.0 L754.3,426.0 L754.4,424.1 L754.6,422.2 L754.7,420.4 L754.9,418.7 L755.0,417.0 L755.1,415.4 L755.3,413.8 L755.4,412.3 L755.5,410.9 L755.6,409.5 L755.8,408.2 L755.9,406.9 L756.0,405.6 L756.1,404.5 L756.3,403.3 L756.4,402.2 L756.5,401.2 L756.6,400.2 L756.7,399.3 L756.8,398.4 L757.0,397.5 L757.1,396.7 L757.2,396.0 L757.3,395.3 L757.4,394.6 L757.5,394.0 L757.6,393.4 L757.7,392.9 L757.8,392.4 L758.0,391.9 L758.1,391.5 L758.2,391.2 L758.3,390.9 L758.4,390.6 L758.5,390.4 L758.6,390.2 L758.7,390.0 L758.8,389.9 L758.9,389.9 L759.0,389.8 L759.2,389.9 L759.3,390.0 L759.5,390.1 L759.6,390.4 L759.7,390.7 L759.9,391.0 L760.0,391.5 L760.1,392.0 L760.3,392.5 L760.4,393.2 L760.6,393.9 L760.7,394.7 L760.9,395.5 L761.0,396.4 L761.2,397.4 L761.3,398.5 L761.5,399.6 L761.6,400.9 L761.8,402.1 L762.0,403.5 L762.1,405.0 L762.3,406.5 L762.5,408.1 L762.7,409.8 L762.9,411.6 L763.1,413.4 L763.4,415.4 L763.6,417.4 L763.8,419.6 L764.1,421.8 L764.4,424.2 L764.7,426.6 L765.0,429.1 L765.3,431.8 L765.8,432.3 L766.2,432.8 L766.7,433.3 L767.1,433.8 L767.6,434.3 L767.8,436.5 L767.9,438.7 L768.1,440.8 L768.3,443.0 L768.5,445.2 L768.6,447.3 L768.8,449.5 L769.0,451.7 L769.1,453.8 L769.3,456.0 L769.5,458.2 L769.7,460.3 L769.8,462.5 L770.0,464.7 L770.2,466.8 L770.4,469.0 L770.5,471.2 L770.7,473.3 L770.9,475.5 L771.1,477.7 L771.2,479.8 L771.4,482.0" stroke="#000" stroke-width="1.3" stroke-linejoin="miter"/>
<path d="M115.2,83.2 L115.7,83.2 L116.2,83.2 L116.7,83.2 L117.2,83.2 L117.7,83.2 L118.2,83.2 L118.7,83.1 L119.2,83.1 L119.7,83.1 L120.2,83.0 L120.7,83.0 L121.2,82.9 L121.7,82.9 L122.2,82.8 L122.7,82.7 L123.2,82.7 L123.7,82.6 L124.2,82.5 L124.7,82.4 L125.2,82.3 L125.7,82.2 L126.2,82.1 L126.7,81.9 L127.2,81.8 L127.7,81.6 L128.2,81.5 L128.7,81.3 L129.2,81.1 L129.7,80.9 L130.2,80.7 L130.7,80.5 L131.2,80.3 L131.7,80.1 L132.2,79.8 L132.7,79.5 L133.2,79.3 L133.7,79.0 L134.2,78.7 L134.7,78.3 L135.2,78.0 L135.7,77.7 L136.2,77.3 L136.7,76.9 L137.2,76.5 L137.7,76.0 L138.2,75.6 L138.7,75.1 L139.2,74.6 L139.7,74.1 L140.2,73.6 L140.7,73.0 L141.2,72.4 L141.7,71.8 L142.2,71.2 L142.7,70.5 L143.2,69.8 L143.7,69.1 L144.2,68.3 L144.7,67.5 L145.2,66.7 L145.7,65.9 L146.2,65.0 L146.7,64.1 L147.2,63.1 L147.7,62.1 L148.2,61.1 L148.7,60.1 L149.2,59.0 L149.7,57.9 L150.2,56.7 L150.7,55.5 L151.2,54.3 L151.7,53.0 L152.2,51.7 L152.7,50.4 L153.2,49.1 L153.7,47.8 L154.2,46.4 L154.7,45.1 L155.2,43.8 L155.7,42.6 L156.2,41.3 L156.7,40.2 L157.2,39.2 L157.7,38.3 L158.2,37.5 L158.7,36.9 L159.2,36.6 L159.7,36.4 L160.2,36.5 L160.7,36.8 L161.2,37.4 L161.7,38.2 L162.2,39.2 L162.7,40.5 L163.2,41.9 L163.7,43.5 L164.2,45.3 L164.7,47.2 L165.2,49.1 L165.7,51.1 L166.2,53.2 L166.7,55.3 L167.2,57.4 L167.7,59.5 L168.2,61.6 L168.7,63.7 L169.2,65.8 L169.7,67.8 L170.2,69.9 L170.7,71.9 L171.2,73.8 L171.7,75.7 L172.2,77.6 L172.7,79.5 L173.2,81.3 L173.7,83.1 L174.2,84.8 L174.7,86.5 L175.2,88.2 L175.7,89.8 L176.2,91.4 L176.7,93.0 L177.2,94.5 L177.7,96.0 L178.2,97.4 L178.7,98.9 L179.2,100.3 L179.7,101.7 L180.2,103.0 L180.7,104.3 L181.2,105.6 L181.7,106.9 L182.2,108.1 L182.7,109.3 L183.2,110.5 L183.7,111.7 L184.2,112.8 L184.7,113.9 L185.2,115.0 L185.7,116.1 L186.2,117.2 L186.7,118.2 L187.2,119.2 L187.7,120.2 L188.2,121.2 L188.7,122.1 L189.2,123.1 L189.7,124.0 L190.2,124.9 L190.7,125.8 L191.2,126.6 L191.7,127.5 L192.2,128.3 L192.7,129.1 L193.2,129.9 L193.7,130.7 L194.2,131.5 L194.7,132.2 L195.2,132.9 L195.7,133.7 L196.2,134.4 L196.7,135.1 L197.2,135.7 L197.7,136.4 L198.2,137.1 L198.7,137.7 L199.2,138.3 L199.7,138.9 L200.2,139.5 L200.7,140.1 L201.2,140.7 L201.7,141.2 L202.2,141.8 L202.7,142.3 L203.2,142.8 L203.7,143.3 L204.2,143.8 L204.7,144.3 L205.2,144.8 L205.7,145.2 L206.2,145.7 L206.7,146.1 L207.2,146.5 L207.7,147.0 L208.2,147.4 L208.7,147.7 L209.2,148.1 L209.7,148.5 L210.2,148.9 L210.7,149.2 L211.2,149.5 L211.7,149.9 L212.2,150.2 L212.7,150.5 L213.2,150.8 L213.7,151.1 L214.2,151.3 L214.7,151.6 L215.2,151.8 L215.7,152.1 L216.2,152.3 L216.7,152.5 L217.2,152.8 L217.7,153.0 L218.2,153.1 L218.7,153.3 L219.2,153.5 L219.7,153.7 L220.2,153.8 L220.7,153.9 L221.2,154.1 L221.7,154.2 L222.2,154.3 L222.7,154.4 L223.2,154.5 L223.7,154.6 L224.2,154.6 L224.7,154.7 L225.2,154.7 L225.7,154.8 L226.2,154.8 L226.7,154.8 L227.2,154.8 L227.7,154.8 L228.2,154.8 L228.7,154.8 L229.2,154.8 L229.7,154.7 L230.2,154.7 L230.7,154.6 L231.2,154.6 L231.7,154.5 L232.2,154.4 L232.7,154.3 L233.2,154.2 L233.7,154.0 L234.2,153.9 L234.7,153.8 L235.2,153.6 L235.7,153.4 L236.2,153.3 L236.7,153.1 L237.2,152.9 L237.7,152.7 L238.2,152.4 L238.7,152.2 L239.2,152.0 L239.7,151.7 L240.2,151.4 L240.7,151.2 L241.2,150.9 L241.7,150.6 L242.2,150.3 L242.7,149.9 L243.2,149.6 L243.7,149.3 L244.2,148.9 L244.7,148.5 L245.2,148.2 L245.7,147.8 L246.2,147.3 L246.7,146.9 L247.2,146.5 L247.7,146.0 L248.2,145.6 L248.7,145.1 L249.2,144.6 L249.7,144.1 L250.2,143.6 L250.7,143.1 L251.2,142.6 L251.7,142.0 L252.2,141.4 L252.7,140.9 L253.2,140.3 L253.7,139.7 L254.2,139.0 L254.7,138.4 L255.2,137.8 L255.7,137.1 L256.1,136.4 L256.6,135.7 L257.1,135.0 L257.6,134.3 L258.1,133.6 L258.6,132.8 L259.1,132.0 L259.6,131.2 L260.1,130.4 L260.6,129.6 L261.1,128.8 L261.6,128.0 L262.1,127.1 L262.6,126.2 L263.1,125.4 L263.6,124.5 L264.1,123.5 L264.6,122.6 L265.1,121.7 L265.6,120.7 L266.1,119.8 L266.6,118.8 L267.1,117.9 L267.6,116.9 L268.1,115.9 L268.6,114.9 L269.1,113.9 L269.6,112.9 L270.1,111.9 L270.6,110.9 L271.1,110.0 L271.6,109.0 L272.1,108.1 L272.6,107.1 L273.1,106.2 L273.6,105.3 L274.1,104.4 L274.6,103.6 L275.1,102.8 L275.6,102.1 L276.1,101.4 L276.6,100.7 L277.1,100.1 L277.6,99.6 L278.1,99.1 L278.6,98.7 L279.1,98.4 L279.6,98.1 L280.1,97.9 L280.6,97.8 L281.1,97.7 L281.6,97.7 L282.1,97.8 L282.6,98.0 L283.1,98.2 L283.6,98.5 L284.1,98.9 L284.6,99.3 L285.1,99.7 L285.6,100.2 L286.1,100.8 L286.6,101.4 L287.1,102.0 L287.6,102.7 L288.1,103.3 L288.6,104.0 L289.1,104.8 L289.6,105.5 L290.1,106.2 L290.6,107.0 L291.1,107.7 L291.6,108.5 L292.1,109.3 L292.6,110.0 L293.1,110.8 L293.6,111.5 L294.1,112.3 L294.6,113.0 L295.1,113.7 L295.6,114.4 L296.1,115.1 L296.6,115.8 L297.1,116.5 L297.6,117.2 L298.1,117.8 L298.6,118.4 L299.1,119.1 L299.6,119.7 L300.1,120.2 L300.6,120.8 L301.1,121.4 L301.6,121.9 L302.1,122.5 L302.6,123.0 L303.1,123.5 L303.6,123.9 L304.1,124.4 L304.6,124.9 L305.1,125.3 L305.6,125.7 L306.1,126.1 L306.6,126.5 L307.1,126.9 L307.6,127.2 L308.1,127.6 L308.6,127.9 L309.1,128.2 L309.6,128.5 L310.1,128.8 L310.6,129.0 L311.1,129.3 L311.6,129.5 L312.1,129.7 L312.6,129.9 L313.1,130.1 L313.6,130.3 L314.1,130.5 L314.6,130.6 L315.1,130.8 L315.6,130.9 L316.1,131.0 L316.6,131.1 L317.1,131.2 L317.6,131.2 L318.1,131.3 L318.6,131.4 L319.1,131.4 L319.6,131.4 L320.1,131.4 L320.6,131.4 L321.1,131.4 L321.6,131.3 L322.1,131.3 L322.6,131.2 L323.1,131.2 L323.6,131.1 L324.1,131.0 L324.6,130.9 L325.1,130.8 L325.6,130.7 L326.1,130.5 L326.6,130.4 L327.1,130.2 L327.6,130.1 L328.1,129.9 L328.6,129.7 L329.1,129.5 L329.6,129.3 L330.1,129.0 L330.6,128.8 L331.1,128.6 L331.6,128.3 L332.1,128.1 L332.6,127.8 L333.1,127.5 L333.6,127.2 L334.1,127.0 L334.6,126.7 L335.1,126.3 L335.6,126.0 L336.1,125.7 L336.6,125.4 L337.1,125.0 L337.6,124.7 L338.1,124.4 L338.6,124.0 L339.1,123.7 L339.6,123.3 L340.1,122.9 L340.6,122.6 L341.1,122.2 L341.6,121.9 L342.1,121.5 L342.6,121.1 L343.1,120.8 L343.6,120.4 L344.1,120.0 L344.6,119.7 L345.1,119.3 L345.6,119.0 L346.1,118.6 L346.6,118.3 L347.1,117.9 L347.6,117.6 L348.1,117.3 L348.6,117.0 L349.1,116.7 L349.6,116.4 L350.1,116.1 L350.6,115.8 L351.1,115.6 L351.6,115.3 L352.1,115.1 L352.6,114.9 L353.1,114.7 L353.6,114.5 L354.1,114.4 L354.6,114.2 L355.1,114.1 L355.6,114.0 L356.1,113.9 L356.6,113.8 L357.1,113.8 L357.6,113.7 L358.1,113.7 L358.6,113.7 L359.1,113.7 L359.6,113.8 L360.1,113.8 L360.6,113.9 L361.1,114.0 L361.6,114.1 L362.1,114.2 L362.6,114.4 L363.1,114.5 L363.6,114.7 L364.1,114.9 L364.6,115.0 L365.1,115.3 L365.6,115.5 L366.1,115.7 L366.6,115.9 L367.1,116.2 L367.6,116.4 L368.1,116.7 L368.6,117.0 L369.1,117.2 L369.6,117.5 L370.1,117.8 L370.6,118.1 L371.1,118.4 L371.6,118.7 L372.1,119.0 L372.6,119.3 L373.1,119.6 L373.6,119.9 L374.1,120.2 L374.6,120.5 L375.1,120.7 L375.6,121.0 L376.1,121.3 L376.6,121.6 L377.1,121.9 L377.6,122.2 L378.1,122.4 L378.6,122.7 L379.1,123.0 L379.6,123.2 L380.1,123.5 L380.6,123.7 L381.1,123.9 L381.6,124.2 L382.1,124.4 L382.6,124.6 L383.1,124.8 L383.6,125.1 L384.1,125.3 L384.6,125.4 L385.1,125.6 L385.6,125.8 L386.1,126.0 L386.6,126.2 L387.1,126.3 L387.6,126.5 L388.1,126.6 L388.6,126.7 L389.1,126.9 L389.6,127.0 L390.1,127.1 L390.6,127.2 L391.1,127.3 L391.6,127.4 L392.1,127.5 L392.6,127.6 L393.1,127.7 L393.6,127.7 L394.1,127.8 L394.6,127.8 L395.1,127.9 L395.6,127.9 L396.1,128.0 L396.6,128.0 L397.1,128.0 L397.6,128.1 L398.1,128.1 L398.6,128.1 L399.1,128.1 L399.6,128.1 L400.1,128.1 L400.6,128.1 L401.1,128.1 L401.6,128.1 L402.1,128.1 L402.6,128.1 L403.1,128.1 L403.6,128.1 L404.1,128.0 L404.6,128.0 L405.1,128.0 L405.6,128.0 L406.1,128.0 L406.6,127.9 L407.1,127.9 L407.6,127.9 L408.1,127.9 L408.6,127.9 L409.1,127.9 L409.6,127.9 L410.1,127.8 L410.6,127.8 L411.1,127.8 L411.6,127.8 L412.1,127.9 L412.6,127.9 L413.1,127.9 L413.6,127.9 L414.1,127.9 L414.6,128.0 L415.1,128.0 L415.6,128.1 L416.1,128.1 L416.6,128.2 L417.1,128.2 L417.6,128.3 L418.1,128.4 L418.6,128.5 L419.1,128.6 L419.6,128.7 L420.1,128.8 L420.6,128.9 L421.1,129.1 L421.6,129.2 L422.1,129.3 L422.6,129.5 L423.1,129.6 L423.6,129.8 L424.1,130.0 L424.6,130.2 L425.1,130.4 L425.6,130.6 L426.1,130.8 L426.6,131.0 L427.1,131.2 L427.6,131.4 L428.1,131.6 L428.6,131.9 L429.1,132.1 L429.6,132.3 L430.1,132.6 L430.6,132.8 L431.1,133.1 L431.6,133.3 L432.1,133.6 L432.6,133.9 L433.1,134.1 L433.6,134.4 L434.1,134.7 L434.6,134.9 L435.1,135.2 L435.6,135.5 L436.1,135.7 L436.6,136.0 L437.1,136.3 L437.6,136.6 L438.1,136.8 L438.6,137.1 L439.1,137.4 L439.6,137.6 L440.1,137.9 L440.6,138.2 L441.1,138.4 L441.6,138.7 L442.1,138.9 L442.6,139.2 L443.1,139.4 L443.6,139.7 L444.1,139.9 L444.6,140.1 L445.1,140.4 L445.6,140.6 L446.1,140.8 L446.6,141.0 L447.1,141.2 L447.6,141.4 L448.1,141.6 L448.6,141.8 L449.1,142.0 L449.6,142.2 L450.1,142.4 L450.6,142.5 L451.1,142.7 L451.6,142.9 L452.1,143.0 L452.6,143.2 L453.1,143.3 L453.6,143.4 L454.1,143.6 L454.6,143.7 L455.1,143.8 L455.6,143.9 L456.1,144.0 L456.6,144.1 L457.1,144.2 L457.6,144.3 L458.1,144.4 L458.6,144.5 L459.1,144.5 L459.6,144.6 L460.1,144.6 L460.6,144.7 L461.1,144.7 L461.6,144.8 L462.1,144.8 L462.6,144.8 L463.1,144.8 L463.6,144.9 L464.1,144.9 L464.6,144.9 L465.1,144.9 L465.6,144.9 L466.1,144.9 L466.6,144.9 L467.1,144.9 L467.6,144.8 L468.1,144.8 L468.6,144.8 L469.1,144.8 L469.6,144.7 L470.1,144.7 L470.6,144.7 L471.1,144.7 L471.6,144.6 L472.1,144.6 L472.6,144.5 L473.1,144.5 L473.6,144.5 L474.1,144.4 L474.6,144.4 L475.1,144.4 L475.6,144.3 L476.1,144.3 L476.6,144.3 L477.1,144.3 L477.6,144.2 L478.1,144.2 L478.6,144.2 L479.1,144.2 L479.6,144.2 L480.1,144.2 L480.6,144.2 L481.1,144.2 L481.6,144.2 L482.1,144.2 L482.6,144.3 L483.1,144.3 L483.6,144.4 L484.1,144.4 L484.6,144.5 L485.1,144.5 L485.6,144.6 L486.1,144.7 L486.6,144.8 L487.1,144.9 L487.6,145.0 L488.1,145.1 L488.6,145.3 L489.1,145.4 L489.6,145.6 L490.1,145.7 L490.6,145.9 L491.1,146.1 L491.6,146.3 L492.1,146.5 L492.6,146.7 L493.1,146.9 L493.6,147.1 L494.1,147.3 L494.6,147.6 L495.1,147.8 L495.6,148.1 L496.1,148.3 L496.6,148.6 L497.1,148.8 L497.6,149.1 L498.1,149.4 L498.6,149.7 L499.1,150.0 L499.6,150.3 L500.1,150.6 L500.6,150.9 L501.1,151.2 L501.6,151.5 L502.1,151.8 L502.6,152.1 L503.1,152.4 L503.6,152.7 L504.1,153.0 L504.6,153.3 L505.1,153.6 L505.6,153.9 L506.1,154.2 L506.6,154.5 L507.1,154.8 L507.6,155.1 L508.1,155.4 L508.6,155.7 L509.1,156.0 L509.6,156.2 L510.1,156.5 L510.6,156.8 L511.1,157.0 L511.6,157.3 L512.1,157.6 L512.6,157.8 L513.1,158.1 L513.6,158.3 L514.1,158.5 L514.6,158.7 L515.1,159.0 L515.6,159.2 L516.1,159.4 L516.6,159.6 L517.1,159.7 L517.6,159.9 L518.1,160.1 L518.6,160.3 L519.1,160.4 L519.6,160.6 L520.1,160.7 L520.6,160.8 L521.1,160.9 L521.6,161.0 L522.1,161.1 L522.6,161.2 L523.1,161.3 L523.6,161.4 L524.1,161.5 L524.6,161.5 L525.1,161.6 L525.6,161.6 L526.1,161.7 L526.6,161.7 L527.1,161.7 L527.6,161.7 L528.1,161.7 L528.6,161.7 L529.1,161.7 L529.6,161.7 L530.1,161.7 L530.6,161.6 L531.1,161.6 L531.6,161.5 L532.1,161.5 L532.6,161.5 L533.1,161.4 L533.6,161.3 L534.1,161.3 L534.6,161.2 L535.1,161.2 L535.6,161.1 L536.1,161.1 L536.6,161.0 L537.1,161.0 L537.6,160.9 L538.1,160.9 L538.6,160.9 L539.1,160.8 L539.6,160.8 L540.1,160.8 L540.6,160.8 L541.1,160.9 L541.6,160.9 L542.1,161.0 L542.6,161.1 L543.1,161.2 L543.6,161.3 L544.1,161.5 L544.6,161.6 L545.1,161.8 L545.6,162.1 L546.1,162.3 L546.6,162.6 L547.1,162.9 L547.6,163.3 L548.1,163.7 L548.6,164.1 L549.1,164.6 L549.6,165.0 L550.1,165.6 L550.6,166.1 L551.1,166.7 L551.6,167.3 L552.1,168.0 L552.6,168.7 L553.1,169.4 L553.6,170.2 L554.1,170.9 L554.6,171.7 L555.1,172.6 L555.6,173.4 L556.1,174.3 L556.6,175.2 L557.1,176.1 L557.6,177.1 L558.1,178.0 L558.6,179.0 L559.1,180.0 L559.6,181.0 L560.1,182.0 L560.6,183.0 L561.1,184.1 L561.6,185.1 L562.1,186.1 L562.6,187.2 L563.1,188.2 L563.6,189.3 L564.1,190.3 L564.6,191.4 L565.1,192.5 L565.6,193.5 L566.1,194.6 L566.6,195.6 L567.1,196.7 L567.6,197.7 L568.1,198.8 L568.6,199.8 L569.1,200.8 L569.6,201.9 L570.1,202.9 L570.6,203.9 L571.1,204.9 L571.6,205.9 L572.1,206.9 L572.6,207.9 L573.1,208.9 L573.6,209.9 L574.1,210.8 L574.6,211.8 L575.1,212.7 L575.6,213.7 L576.1,214.6 L576.6,215.6 L577.1,216.5 L577.6,217.4 L578.1,218.3 L578.6,219.2 L579.1,220.1 L579.6,221.0 L580.1,221.8 L580.6,222.7 L581.1,223.6 L581.6,224.4 L582.1,225.3 L582.6,226.1 L583.1,226.9 L583.6,227.7 L584.1,228.5 L584.6,229.3 L585.1,230.1 L585.6,230.9 L586.1,231.7 L586.6,232.5 L587.1,233.2 L587.6,234.0 L588.1,234.7 L588.6,235.5 L589.1,236.2 L589.6,236.9 L590.1,237.7 L590.6,238.4 L591.1,239.1 L591.6,239.8 L592.1,240.5 L592.6,241.1 L593.1,241.8 L593.6,242.5 L594.1,243.1 L594.6,243.8 L595.1,244.5 L595.6,245.1 L596.1,245.7 L596.6,246.4 L597.1,247.0 L597.6,247.6 L598.1,248.2 L598.6,248.8 L599.1,249.4 L599.6,250.0 L600.1,250.6 L600.6,251.2 L601.1,251.8 L601.6,252.3 L602.1,252.9 L602.6,253.5 L603.1,254.0 L603.6,254.6 L604.1,255.1 L604.6,255.6 L605.1,256.2 L605.6,256.7 L606.1,257.2 L606.6,257.7 L607.1,258.2 L607.6,258.8 L608.1,259.3 L608.6,259.7 L609.1,260.2 L609.6,260.7 L610.1,261.2 L610.6,261.7 L611.1,262.2 L611.6,262.6 L612.1,263.1 L612.6,263.6 L613.1,264.0 L613.6,264.5 L614.1,264.9 L614.6,265.4 L615.1,265.8 L615.6,266.2 L616.1,266.7 L616.6,267.1 L617.1,267.5 L617.6,267.9 L618.1,268.4 L618.6,268.8 L619.1,269.2 L619.6,269.6 L620.1,270.0 L620.6,270.4 L621.1,270.8 L621.6,271.2 L622.1,271.6 L622.6,272.0 L623.1,272.3 L623.6,272.7 L624.1,273.1 L624.6,273.5 L625.1,273.9 L625.6,274.2 L626.1,274.6 L626.6,274.9 L627.1,275.3 L627.6,275.7 L628.1,276.0 L628.6,276.4 L629.1,276.7 L629.6,277.1 L630.1,277.4 L630.6,277.8 L631.1,278.1 L631.6,278.5 L632.1,278.8 L632.6,279.1 L633.1,279.5 L633.6,279.8 L634.1,280.1 L634.6,280.4 L635.1,280.8 L635.6,281.1 L636.1,281.4 L636.6,281.7 L637.1,282.1 L637.6,282.4 L638.1,282.7 L638.6,283.0 L639.1,283.3 L639.6,283.6 L640.1,283.9 L640.6,284.3 L641.1,284.6 L641.6,284.9 L642.1,285.2 L642.6,285.5 L643.1,285.8 L643.6,286.1 L644.1,286.4 L644.6,286.7 L645.1,287.0 L645.6,287.3 L646.1,287.6 L646.6,287.9 L647.1,288.2 L647.6,288.5 L648.1,288.8 L648.6,289.1 L649.1,289.4 L649.6,289.7 L650.1,290.0 L650.6,290.3 L651.1,290.5 L651.6,290.8 L652.1,291.1 L652.6,291.4 L653.1,291.7 L653.6,292.0 L654.1,292.3 L654.6,292.6 L655.1,292.9 L655.6,293.2 L656.1,293.4 L656.6,293.7 L657.1,294.0 L657.6,294.3 L658.1,294.6 L658.6,294.9 L659.1,295.2 L659.6,295.5 L660.1,295.8 L660.6,296.0 L661.1,296.3 L661.6,296.6 L662.1,296.9 L662.6,297.2 L663.1,297.5 L663.6,297.8 L664.1,298.0 L664.6,298.3 L665.1,298.6 L665.6,298.9 L666.1,299.2 L666.6,299.5 L667.1,299.8 L667.6,300.1 L668.1,300.3 L668.6,300.6 L669.1,300.9 L669.6,301.2 L670.1,301.5 L670.6,301.8 L671.1,302.0 L671.6,302.3 L672.1,302.6 L672.6,302.9 L673.1,303.2 L673.6,303.5 L674.1,303.7 L674.6,304.0 L675.1,304.3 L675.6,304.6 L676.1,304.9 L676.6,305.2 L677.1,305.4 L677.6,305.7 L678.1,306.0 L678.6,306.3 L679.1,306.6 L679.6,306.8 L680.1,307.1 L680.6,307.4 L681.1,307.7 L681.6,307.9 L682.1,308.2 L682.6,308.5 L683.1,308.8 L683.6,309.1 L684.1,309.3 L684.6,309.6 L685.1,309.9 L685.6,310.1 L686.1,310.4 L686.6,310.7 L687.1,311.0 L687.6,311.2 L688.1,311.5 L688.6,311.8 L689.1,312.0 L689.6,312.3 L690.1,312.5 L690.6,312.8 L691.1,313.1 L691.6,313.3 L692.1,313.6 L692.6,313.9 L693.1,314.1 L693.6,314.4 L694.1,314.6 L694.6,314.9 L695.1,315.1 L695.6,315.4 L696.1,315.6 L696.6,315.9 L697.1,316.1 L697.6,316.4 L698.1,316.6 L698.6,316.9 L699.1,317.1 L699.6,317.4 L700.1,317.6 L700.6,317.8 L701.1,318.1 L701.6,318.3 L702.1,318.6 L702.6,318.8 L703.1,319.0 L703.6,319.3 L704.1,319.5 L704.6,319.7 L705.1,319.9 L705.6,320.2 L706.1,320.4 L706.6,320.6 L707.1,320.8 L707.6,321.1 L708.1,321.3 L708.6,321.5 L709.1,321.7 L709.6,321.9 L710.1,322.1 L710.6,322.3 L711.1,322.5 L711.6,322.7 L712.1,323.0 L712.6,323.2 L713.1,323.4 L713.6,323.6 L714.1,323.8 L714.6,324.0 L715.1,324.2 L715.6,324.3 L716.1,324.5 L716.6,324.7 L717.1,324.9 L717.6,325.1 L718.1,325.3 L718.6,325.5 L719.1,325.7 L719.6,325.8 L720.1,326.0 L720.6,326.2 L721.1,326.4 L721.6,326.5 L722.1,326.7 L722.6,326.9 L723.1,327.0 L723.6,327.2 L724.1,327.4 L724.6,327.5 L725.1,327.7 L725.6,327.9 L726.1,328.0 L726.6,328.2 L727.1,328.3 L727.6,328.5 L728.1,328.6 L728.6,328.8 L729.1,328.9 L729.6,329.1 L730.1,329.2 L730.6,329.4 L731.1,329.5 L731.6,329.6 L732.1,329.8 L732.6,329.9 L733.1,330.0 L733.6,330.2 L734.1,330.3 L734.6,330.4 L735.1,330.6 L735.6,330.7 L736.1,330.8 L736.6,330.9 L737.1,331.1 L737.6,331.2 L738.1,331.3 L738.6,331.4 L739.1,331.5 L739.6,331.6 L740.1,331.7 L740.6,331.9 L741.1,332.0 L741.6,332.1 L742.1,332.2 L742.6,332.3 L743.1,332.4 L743.6,332.5 L744.1,332.6 L744.6,332.7 L745.1,332.8 L745.6,332.9 L746.1,332.9 L746.6,333.0 L747.1,333.1 L747.6,333.2 L748.1,333.3 L748.6,333.4 L749.1,333.5 L749.6,333.6 L750.1,333.6 L750.6,333.7 L751.1,333.8 L751.6,333.9 L752.1,333.9 L752.6,334.0 L753.1,334.1 L753.6,334.2 L754.1,334.2 L754.6,334.3 L755.1,334.4 L755.6,334.4 L756.1,334.5 L756.6,334.6 L757.1,334.6 L757.6,334.7 L758.1,334.7 L758.6,334.8 L759.1,334.9 L759.6,334.9 L760.1,335.0 L760.6,335.0 L761.1,335.1 L761.6,335.1 L762.1,335.2 L762.6,335.2 L763.1,335.3 L763.6,335.3 L764.1,335.4 L764.6,335.4 L765.1,335.4 L765.6,335.5 L766.1,335.5 L766.6,335.6 L767.1,335.6 L767.6,335.6 L768.1,335.7 L768.6,335.7 L769.1,335.7 L769.6,335.8 L770.1,335.8 L770.6,335.8 L771.1,335.9 L771.6,335.9 L772.1,335.9 L772.6,336.0 L773.1,336.0 L773.6,336.0 L774.1,336.0 L774.6,336.1 L775.1,336.1 L775.6,336.1 L776.1,336.1 L776.6,336.1 L777.1,336.2 L777.6,336.2 L778.1,336.2 L778.6,336.2 L779.1,336.2 L779.6,336.2 L780.1,336.3 L780.6,336.3 L781.1,336.3 L781.6,336.3 L782.1,336.3 L782.6,336.3 L783.1,336.3 L783.6,336.3 L784.1,336.3 L784.6,336.3 L785.1,336.3 L785.6,336.3 L786.1,336.3 L786.6,336.3 L787.1,336.3 L787.6,336.3 L788.1,336.3 L788.6,336.3" stroke="#ff5a45" stroke-width="4.4"/>
<path d="M116.15,79.18 L116.25,79.18 L116.75,79.17 L117.25,79.16 L117.75,79.13 L118.25,79.10 L118.75,79.06 L119.25,79.00 L119.75,78.94 L120.25,78.87 L120.75,78.79 L121.25,78.70 L121.75,78.60 L122.25,78.48 L122.75,78.36 L123.25,78.22 L123.75,78.07 L124.25,77.91 L124.75,77.73 L125.25,77.54 L125.75,77.33 L126.25,77.11 L126.75,76.87 L127.25,76.61 L127.75,76.34 L128.25,76.04 L128.75,75.73 L129.25,75.39 L129.75,75.03 L130.25,74.65 L130.75,74.25 L131.25,73.82 L131.75,73.36 L132.10,73.03 M134.71,70.06 L134.75,70.00 L135.25,69.33 L135.75,68.61 L136.25,67.86 L136.44,67.56 M138.44,64.06 L138.45,64.04 L138.95,63.05 L139.45,62.02 L139.95,60.93 L140.45,59.79 L140.95,58.60 L141.45,57.35 L141.95,56.06 L142.45,54.71 L142.95,53.31 L143.45,51.87 L143.95,50.39 L144.45,48.87 L144.76,47.93 M145.97,44.19 L146.05,43.94 L146.55,42.44 L146.94,41.33 M148.47,37.61 L148.55,37.46 L149.05,36.69 L149.55,36.20 L150.05,36.03 L150.55,36.22 L151.05,36.78 L151.55,37.72 L152.05,39.03 L152.55,40.66 L153.05,42.59 L153.55,44.76 L154.05,47.12 L154.55,49.64 L154.61,49.94 M155.33,53.79 L155.35,53.88 L155.85,56.60 L155.88,56.75 M156.60,60.69 L156.65,61.00 L157.15,63.74 L157.65,66.47 L158.15,69.16 L158.65,71.81 L159.15,74.41 L159.65,76.96 L159.79,77.67 M160.57,81.51 L160.65,81.91 L161.15,84.30 L161.18,84.46 M162.03,88.38 L162.05,88.47 L162.55,90.71 L163.05,92.91 L163.55,95.05 L164.05,97.14 L164.55,99.18 L165.05,101.18 L165.55,103.13 L166.05,105.04 L166.09,105.18 M167.11,108.97 L167.15,109.10 L167.65,110.88 L167.94,111.87 M169.07,115.73 L169.15,115.99 L169.65,117.63 L170.15,119.23 L170.65,120.80 L171.15,122.34 L171.65,123.85 L172.15,125.33 L172.65,126.78 L173.15,128.20 L173.65,129.60 L174.15,130.97 L174.59,132.15 M176.00,135.82 L176.05,135.95 L176.55,137.20 L177.05,138.44 L177.13,138.62 M178.69,142.33 L178.75,142.47 L179.25,143.61 L179.75,144.73 L180.25,145.83 L180.75,146.91 L181.25,147.98 L181.75,149.02 L182.25,150.05 L182.75,151.06 L183.25,152.06 L183.75,153.04 L184.25,154.00 L184.75,154.94 L185.25,155.87 L185.75,156.79 L186.25,157.69 L186.37,157.90 M188.36,161.31 L188.45,161.47 L188.95,162.29 L189.45,163.10 L189.95,163.89 L189.95,163.90 M192.18,167.27 L192.25,167.37 L192.75,168.09 L193.25,168.80 L193.75,169.50 L194.25,170.18 L194.75,170.86 L195.25,171.52 L195.75,172.17 L196.25,172.80 L196.75,173.43 L197.25,174.05 L197.75,174.65 L198.25,175.24 L198.75,175.82 L199.25,176.39 L199.75,176.95 L200.25,177.50 L200.75,178.04 L201.25,178.57 L201.75,179.09 L202.25,179.60 L202.75,180.09 L203.25,180.58 L203.33,180.65 M206.27,183.31 L206.35,183.38 L206.85,183.79 L207.35,184.20 L207.85,184.60 L208.35,184.99 L208.65,185.22 M212.00,187.53 L212.05,187.56 L212.55,187.87 L213.05,188.17 L213.55,188.46 L214.05,188.74 L214.55,189.02 L215.05,189.28 L215.55,189.54 L216.05,189.78 L216.55,190.02 L217.05,190.25 L217.55,190.46 L218.05,190.67 L218.55,190.88 L219.05,191.07 L219.55,191.25 L220.05,191.43 L220.55,191.59 L221.05,191.75 L221.55,191.90 L222.05,192.04 L222.55,192.17 L223.05,192.29 L223.55,192.40 L224.05,192.50 L224.55,192.60 L225.05,192.68 L225.55,192.76 L226.05,192.83 L226.55,192.89 L227.05,192.94 L227.55,192.98 L228.05,193.01 L228.47,193.03 M232.46,192.90 L232.55,192.89 L233.05,192.83 L233.55,192.76 L234.05,192.68 L234.55,192.59 L235.05,192.49 L235.48,192.40 M239.39,191.23 L239.45,191.20 L239.95,191.01 L240.45,190.80 L240.95,190.59 L241.45,190.36 L241.95,190.12 L242.45,189.87 L242.95,189.61 L243.45,189.34 L243.95,189.06 L244.45,188.77 L244.95,188.47 L245.45,188.15 L245.95,187.82 L246.45,187.48 L246.95,187.13 L247.45,186.77 L247.95,186.40 L248.45,186.01 L248.95,185.61 L249.45,185.20 L249.95,184.77 L250.45,184.33 L250.95,183.88 L251.45,183.42 L251.95,182.94 L252.45,182.45 L252.95,181.94 L253.45,181.42 L253.60,181.25 M256.21,178.27 L256.25,178.22 L256.75,177.60 L257.25,176.96 L257.75,176.30 L258.07,175.87 M260.38,172.55 L260.45,172.45 L260.95,171.67 L261.45,170.88 L261.95,170.06 L262.45,169.23 L262.95,168.37 L263.45,167.49 L263.95,166.59 L264.45,165.67 L264.95,164.72 L265.45,163.75 L265.95,162.75 L266.45,161.73 L266.95,160.68 L267.45,159.60 L267.95,158.50 L268.45,157.37 L268.52,157.22 M270.03,153.59 L270.05,153.54 L270.55,152.28 L271.05,150.99 L271.14,150.77 M272.52,146.99 L272.55,146.90 L273.05,145.47 L273.55,144.00 L274.05,142.50 L274.55,140.96 L275.05,139.37 L275.55,137.76 L276.05,136.10 L276.55,134.41 L277.05,132.69 L277.55,130.93 L277.68,130.47 M278.73,126.69 L278.75,126.59 L279.25,124.75 L279.51,123.77 M280.56,119.90 L280.65,119.55 L281.15,117.71 L281.65,115.90 L282.15,114.14 L282.65,112.45 L283.15,110.85 L283.65,109.37 L284.15,108.04 L284.65,106.88 L285.15,105.92 L285.65,105.19 L286.15,104.69 L286.65,104.45 L287.11,104.46 M289.42,107.54 L289.45,107.61 L289.95,108.82 L290.45,110.16 L290.52,110.36 M291.78,114.17 L291.85,114.41 L292.35,116.03 L292.85,117.68 L293.35,119.35 L293.85,121.01 L294.35,122.67 L294.85,124.31 L295.35,125.93 L295.85,127.52 L296.35,129.08 L296.85,130.61 L296.89,130.72 M298.16,134.43 L298.25,134.69 L298.75,136.08 L299.19,137.27 M300.66,141.02 L300.75,141.25 L301.25,142.45 L301.75,143.61 L302.25,144.74 L302.75,145.83 L303.25,146.89 L303.75,147.92 L304.25,148.92 L304.75,149.88 L305.25,150.81 L305.75,151.72 L306.25,152.59 L306.75,153.44 L307.25,154.26 L307.75,155.05 L308.25,155.81 L308.66,156.41 M311.01,159.59 L311.05,159.63 L311.55,160.24 L312.05,160.82 L312.55,161.38 L313.01,161.88 M315.97,164.66 L316.05,164.73 L316.55,165.13 L317.05,165.51 L317.55,165.87 L318.05,166.22 L318.55,166.55 L319.05,166.86 L319.55,167.15 L320.05,167.42 L320.55,167.68 L321.05,167.92 L321.55,168.15 L322.05,168.36 L322.55,168.55 L323.05,168.72 L323.55,168.88 L324.05,169.03 L324.55,169.16 L325.05,169.27 L325.55,169.37 L326.05,169.45 L326.55,169.52 L327.05,169.57 L327.55,169.60 L328.05,169.62 L328.55,169.63 L329.05,169.62 L329.55,169.60 L330.05,169.56 L330.55,169.50 L331.05,169.43 L331.55,169.35 L332.05,169.25 L332.27,169.20 M336.04,167.92 L336.05,167.92 L336.55,167.68 L337.05,167.43 L337.55,167.16 L338.05,166.88 L338.55,166.59 L338.73,166.47 M342.02,164.09 L342.05,164.06 L342.55,163.63 L343.05,163.19 L343.55,162.73 L344.05,162.26 L344.55,161.76 L345.05,161.25 L345.55,160.72 L346.05,160.17 L346.55,159.61 L347.05,159.03 L347.55,158.42 L348.05,157.80 L348.55,157.17 L349.05,156.51 L349.55,155.83 L350.05,155.13 L350.55,154.42 L351.05,153.68 L351.55,152.92 L352.05,152.14 L352.55,151.35 L352.99,150.62 M354.96,147.21 L355.05,147.04 L355.55,146.11 L356.05,145.17 L356.38,144.53 M358.17,140.92 L358.25,140.75 L358.75,139.69 L359.25,138.61 L359.75,137.51 L360.25,136.39 L360.75,135.26 L361.25,134.11 L361.75,132.95 L362.25,131.77 L362.75,130.59 L363.25,129.39 L363.75,128.19 L364.25,127.00 L364.75,125.80 L365.09,125.00 M366.65,121.39 L366.65,121.38 L367.15,120.27 L367.65,119.21 L367.93,118.64 M369.90,115.13 L369.95,115.06 L370.45,114.37 L370.95,113.78 L371.45,113.29 L371.95,112.91 L372.45,112.65 L372.95,112.50 L373.45,112.48 L373.95,112.57 L374.45,112.78 L374.95,113.11 L375.45,113.54 L375.95,114.07 L376.45,114.70 L376.95,115.42 L377.45,116.21 L377.95,117.06 L378.45,117.98 L378.95,118.95 L379.45,119.96 L379.95,121.00 L380.45,122.07 L380.68,122.58 M382.30,126.17 L382.35,126.28 L382.85,127.39 L383.35,128.51 L383.54,128.93 M385.21,132.59 L385.25,132.67 L385.75,133.74 L386.25,134.78 L386.75,135.81 L387.25,136.83 L387.75,137.82 L388.25,138.79 L388.75,139.75 L389.25,140.68 L389.75,141.59 L390.25,142.49 L390.75,143.36 L391.25,144.21 L391.75,145.03 L392.25,145.84 L392.75,146.63 L393.25,147.39 L393.54,147.83 M395.85,151.04 L395.85,151.05 L396.35,151.69 L396.85,152.32 L397.35,152.92 L397.76,153.41 M400.54,156.35 L400.55,156.36 L401.05,156.83 L401.55,157.29 L402.05,157.73 L402.55,158.15 L403.05,158.56 L403.55,158.95 L404.05,159.32 L404.55,159.68 L405.05,160.02 L405.55,160.35 L406.05,160.67 L406.55,160.97 L407.05,161.25 L407.55,161.52 L408.05,161.77 L408.55,162.02 L409.05,162.24 L409.55,162.46 L410.05,162.66 L410.55,162.84 L411.05,163.01 L411.55,163.17 L412.05,163.32 L412.55,163.45 L413.05,163.57 L413.55,163.68 L414.05,163.77 L414.55,163.85 L415.05,163.92 L415.55,163.98 L415.94,164.01 M419.92,163.95 L419.95,163.94 L420.45,163.88 L420.95,163.81 L421.45,163.72 L421.95,163.63 L422.45,163.52 L422.94,163.40 M426.80,162.10 L426.85,162.08 L427.35,161.86 L427.85,161.63 L428.35,161.39 L428.85,161.15 L429.35,160.88 L429.85,160.61 L430.35,160.33 L430.85,160.04 L431.35,159.74 L431.85,159.43 L432.35,159.11 L432.85,158.77 L433.35,158.43 L433.85,158.08 L434.35,157.72 L434.85,157.35 L435.35,156.97 L435.85,156.58 L436.35,156.18 L436.85,155.77 L437.35,155.35 L437.85,154.93 L438.35,154.49 L438.85,154.05 L439.35,153.60 L439.85,153.14 L440.35,152.67 L440.85,152.20 L441.02,152.04 M443.83,149.24 L443.85,149.22 L444.35,148.70 L444.85,148.18 L445.35,147.65 L445.85,147.12 L445.93,147.04 M448.69,144.07 L448.75,144.00 L449.25,143.46 L449.75,142.92 L450.25,142.38 L450.75,141.85 L451.25,141.31 L451.75,140.79 L452.25,140.26 L452.75,139.74 L453.25,139.23 L453.75,138.73 L454.25,138.23 L454.75,137.75 L455.25,137.27 L455.75,136.81 L456.25,136.35 L456.75,135.91 L457.25,135.49 L457.75,135.08 L458.25,134.69 L458.75,134.31 L459.25,133.95 L459.75,133.61 L460.25,133.29 L460.75,132.99 L461.25,132.71 L461.68,132.49 M465.46,131.26 L465.55,131.24 L466.05,131.18 L466.55,131.15 L467.05,131.14 L467.55,131.15 L468.05,131.18 L468.51,131.23 M472.42,132.34 L472.45,132.35 L472.95,132.58 L473.45,132.81 L473.95,133.06 L474.45,133.33 L474.95,133.60 L475.45,133.89 L475.95,134.20 L476.45,134.51 L476.95,134.83 L477.45,135.16 L477.95,135.50 L478.45,135.85 L478.95,136.21 L479.45,136.57 L479.95,136.94 L480.45,137.32 L480.95,137.70 L481.45,138.09 L481.95,138.49 L482.45,138.89 L482.95,139.29 L483.45,139.70 L483.95,140.11 L484.45,140.53 L484.95,140.95 L485.45,141.37 L485.95,141.80 L486.45,142.23 L486.68,142.42 M489.64,145.06 L489.65,145.07 L490.15,145.52 L490.65,145.98 L491.15,146.45 L491.65,146.91 L491.88,147.13 M494.80,149.95 L494.85,150.00 L495.35,150.50 L495.85,151.00 L496.35,151.51 L496.85,152.02 L497.35,152.53 L497.85,153.05 L498.35,153.58 L498.85,154.11 L499.35,154.65 L499.85,155.19 L500.35,155.73 L500.85,156.28 L501.35,156.84 L501.85,157.40 L502.35,157.96 L502.85,158.53 L503.35,159.11 L503.85,159.69 L504.35,160.27 L504.85,160.86 L505.35,161.45 L505.85,162.05 L506.35,162.65 L506.53,162.87 M509.03,165.94 L509.05,165.97 L509.55,166.60 L510.05,167.23 L510.55,167.86 L510.92,168.33 M513.40,171.52 L513.45,171.59 L513.95,172.23 L514.45,172.89 L514.95,173.54 L515.45,174.19 L515.95,174.84 L516.45,175.50 L516.95,176.15 L517.45,176.81 L517.95,177.47 L518.45,178.12 L518.95,178.78 L519.45,179.43 L519.95,180.09 L520.45,180.74 L520.95,181.40 L521.45,182.05 L521.95,182.70 L522.45,183.35 L522.95,184.00 L523.45,184.64 L523.95,185.29 L524.01,185.36 M526.45,188.48 L526.45,188.48 L526.95,189.12 L527.45,189.74 L527.95,190.37 L528.34,190.86 M530.89,194.00 L530.95,194.07 L531.45,194.67 L531.95,195.27 L532.45,195.87 L532.95,196.46 L533.45,197.05 L533.95,197.64 L534.45,198.22 L534.95,198.80 L535.45,199.38 L535.95,199.95 L536.45,200.52 L536.95,201.08 L537.45,201.64 L537.95,202.20 L538.45,202.75 L538.95,203.30 L539.45,203.84 L539.95,204.38 L540.45,204.92 L540.95,205.45 L541.45,205.98 L541.95,206.50 L542.45,207.02 L542.48,207.05 M545.27,209.87 L545.35,209.95 L545.85,210.44 L546.35,210.93 L546.85,211.41 L547.35,211.89 L547.46,212.00 M550.43,214.76 L550.45,214.77 L550.95,215.22 L551.45,215.67 L551.95,216.11 L552.45,216.55 L552.95,216.99 L553.45,217.42 L553.95,217.84 L554.45,218.27 L554.95,218.69 L555.45,219.10 L555.95,219.51 L556.45,219.92 L556.95,220.33 L557.45,220.73 L557.95,221.12 L558.45,221.52 L558.95,221.91 L559.45,222.29 L559.95,222.67 L560.45,223.05 L560.95,223.43 L561.45,223.80 L561.95,224.17 L562.45,224.54 L562.95,224.90 L563.45,225.26 L563.95,225.61 L564.08,225.70 M567.36,227.95 L567.45,228.01 L567.95,228.34 L568.45,228.67 L568.95,229.00 L569.45,229.32 L569.92,229.62 M573.38,231.75 L573.45,231.79 L573.95,232.08 L574.45,232.38 L574.95,232.67 L575.45,232.96 L575.95,233.24 L576.45,233.53 L576.95,233.81 L577.45,234.09 L577.95,234.36 L578.45,234.64 L578.95,234.91 L579.45,235.18 L579.95,235.45 L580.45,235.71 L580.95,235.97 L581.45,236.23 L581.95,236.49 L582.45,236.74 L582.95,237.00 L583.45,237.25 L583.95,237.50 L584.45,237.74 L584.95,237.99 L585.45,238.23 L585.95,238.47 L586.45,238.71 L586.95,238.95 L587.45,239.18 L587.95,239.41 L588.45,239.64 L588.93,239.86 M592.58,241.47 L592.65,241.50 L593.15,241.71 L593.65,241.92 L594.15,242.13 L594.65,242.34 L595.15,242.54 L595.41,242.65 M599.20,244.14 L599.25,244.16 L599.75,244.35 L600.25,244.53 L600.75,244.72 L601.25,244.90 L601.75,245.08 L602.25,245.26 L602.75,245.44 L603.25,245.62 L603.75,245.79 L604.25,245.96 L604.75,246.14 L605.25,246.31 L605.75,246.47 L606.25,246.64 L606.75,246.80 L607.25,246.97 L607.75,247.13 L608.25,247.29 L608.75,247.44 L609.25,247.60 L609.75,247.75 L610.25,247.90 L610.75,248.05 L611.25,248.20 L611.75,248.35 L612.25,248.49 L612.75,248.64 L613.25,248.78 L613.75,248.92 L614.25,249.06 L614.75,249.19 L615.25,249.33 L615.58,249.41 M619.36,250.36 L619.45,250.38 L619.95,250.50 L620.45,250.61 L620.95,250.72 L621.45,250.83 L621.95,250.94 L622.29,251.02 M626.20,251.79 L626.25,251.80 L626.75,251.89 L627.25,251.98 L627.75,252.07 L628.25,252.15 L628.75,252.23 L629.25,252.31 L629.75,252.39 L630.25,252.47 L630.75,252.54 L631.25,252.61 L631.75,252.68 L632.25,252.75 L632.75,252.82 L633.25,252.88 L633.75,252.94 L634.25,253.00 L634.75,253.06 L635.25,253.12 L635.75,253.17 L636.25,253.22 L636.75,253.27 L637.25,253.32 L637.75,253.37 L638.25,253.41 L638.75,253.45 L639.25,253.49 L639.75,253.53 L640.25,253.56 L640.75,253.60 L641.25,253.63 L641.75,253.66 L642.25,253.68 L642.75,253.71 L643.25,253.73 L643.28,253.73 M647.18,253.85 L647.25,253.85 L647.75,253.85 L648.25,253.86 L648.75,253.86 L649.25,253.86 L649.75,253.86 L650.18,253.85 M654.17,253.76 L654.25,253.76 L654.75,253.74 L655.25,253.72 L655.75,253.69 L656.25,253.67 L656.75,253.64 L657.25,253.61 L657.75,253.58 L658.25,253.55 L658.75,253.52 L659.25,253.49 L659.75,253.45 L660.25,253.42 L660.75,253.38 L661.25,253.34 L661.75,253.30 L662.25,253.26 L662.75,253.22 L663.25,253.17 L663.75,253.13 L664.25,253.08 L664.75,253.04 L665.25,252.99 L665.75,252.94 L666.25,252.89 L666.75,252.84 L667.25,252.79 L667.75,252.73 L668.25,252.68 L668.75,252.63 L669.25,252.57 L669.75,252.52 L670.25,252.46 L670.75,252.40 L671.25,252.35 L671.31,252.34 M675.18,251.89 L675.25,251.88 L675.75,251.82 L676.25,251.76 L676.75,251.71 L677.25,251.65 L677.75,251.59 L678.16,251.54 M682.12,251.09 L682.15,251.08 L682.65,251.03 L683.15,250.97 L683.65,250.92 L684.15,250.87 L684.65,250.82 L685.15,250.76 L685.65,250.71 L686.15,250.66 L686.65,250.62 L687.15,250.57 L687.65,250.52 L688.15,250.47 L688.65,250.43 L689.15,250.39 L689.65,250.34 L690.15,250.30 L690.65,250.26 L691.15,250.22 L691.65,250.18 L692.15,250.15 L692.65,250.11 L693.15,250.08 L693.65,250.04 L694.15,250.01 L694.65,249.98 L695.15,249.95 L695.65,249.92 L696.15,249.90 L696.65,249.87 L697.15,249.85 L697.65,249.82 L698.15,249.80 L698.65,249.78 L699.15,249.76 L699.27,249.76 M703.17,249.65 L703.25,249.65 L703.75,249.65 L704.25,249.64 L704.75,249.63 L705.25,249.63 L705.75,249.63 L706.17,249.62 M710.16,249.64 L710.25,249.64 L710.75,249.65 L711.25,249.65 L711.75,249.66 L712.25,249.67 L712.75,249.67 L713.25,249.68 L713.75,249.69 L714.25,249.70 L714.75,249.71 L715.25,249.72 L715.75,249.73 L716.25,249.74 L716.75,249.75 L717.25,249.76 L717.75,249.77 L718.25,249.78 L718.75,249.79 L719.25,249.80 L719.75,249.81 L720.25,249.83 L720.75,249.84 L721.25,249.85 L721.75,249.86 L722.25,249.86 L722.75,249.87 L723.25,249.88 L723.75,249.89 L724.25,249.90 L724.75,249.90 L725.25,249.91 L725.75,249.92 L726.25,249.92 L726.75,249.93 L727.25,249.93 L727.35,249.93 M731.25,249.92 L731.35,249.92 L731.85,249.92 L732.35,249.91 L732.85,249.90 L733.35,249.89 L733.85,249.88 L734.25,249.88 M738.24,249.74 L738.25,249.74 L738.75,249.72 L739.25,249.70 L739.75,249.67 L740.25,249.64 L740.75,249.62 L741.25,249.59 L741.75,249.55 L742.25,249.52 L742.75,249.49 L743.25,249.45 L743.75,249.42 L744.25,249.38 L744.75,249.34 L745.25,249.30 L745.75,249.26 L746.25,249.21 L746.75,249.17 L747.25,249.12 L747.75,249.08 L748.25,249.03 L748.75,248.98 L749.25,248.93 L749.75,248.87 L750.25,248.82 L750.75,248.77 L751.25,248.71 L751.75,248.65 L752.25,248.60 L752.75,248.54 L753.25,248.48 L753.75,248.42 L754.25,248.36 L754.75,248.29 L755.25,248.23 L755.37,248.21 M759.23,247.70 L759.25,247.70 L759.75,247.63 L760.25,247.56 L760.75,247.49 L761.25,247.42 L761.75,247.35 L762.20,247.29 M766.16,246.74 L766.25,246.72 L766.75,246.65 L767.25,246.59 L767.75,246.52 L768.25,246.45 L768.75,246.39 L769.25,246.32 L769.75,246.26 L770.25,246.19 L770.75,246.13 L771.25,246.07 L771.75,246.01 L772.25,245.95 L772.75,245.89 L773.25,245.84 L773.75,245.78 L774.25,245.73 L774.75,245.68 L775.25,245.62 L775.75,245.58 L776.25,245.53 L776.75,245.48 L777.25,245.44 L777.75,245.40 L778.25,245.36 L778.75,245.32 L779.25,245.28 L779.75,245.25 L780.25,245.21 L780.75,245.18 L781.25,245.16 L781.75,245.13 L782.25,245.11 L782.75,245.08 L783.25,245.06 L783.27,245.06 M787.17,244.99 L787.25,244.99 L787.75,244.99 L788.25,244.99 L788.55,244.99" stroke="#0b78ba" stroke-width="3.0"/>
<path d="M116.15,84.92 L116.25,84.92 L116.75,84.91 L117.25,84.90 L117.75,84.88 L118.25,84.86 L118.75,84.83 L119.25,84.79 L119.75,84.75 L120.25,84.70 L120.75,84.64 L121.25,84.57 L121.75,84.50 L122.25,84.42 L122.75,84.33 L123.25,84.24 L123.75,84.14 L124.25,84.02 L124.75,83.90 L125.25,83.77 L125.75,83.64 L125.93,83.58 M129.94,82.08 L129.95,82.08 L130.45,81.84 L130.95,81.59 L131.45,81.32 L131.95,81.05 L132.45,80.76 L132.95,80.45 L133.45,80.13 L133.95,79.79 L134.45,79.44 L134.95,79.07 L135.45,78.68 L135.95,78.28 L136.45,77.85 L136.95,77.41 L137.45,76.95 L137.95,76.47 L137.99,76.43 M140.84,73.25 L140.85,73.24 L141.35,72.60 L141.85,71.93 L142.35,71.24 L142.85,70.52 L143.35,69.77 L143.85,69.00 L144.35,68.19 L144.85,67.35 L145.35,66.48 L145.85,65.58 L146.18,64.97 M148.08,61.16 L148.15,61.01 L148.65,59.92 L149.15,58.80 L149.65,57.64 L150.15,56.46 L150.65,55.24 L151.15,54.00 L151.65,52.73 L151.90,52.09 M153.43,48.12 L153.45,48.06 L153.95,46.77 L154.45,45.49 L154.95,44.26 L155.45,43.07 L155.95,41.95 L156.45,40.92 L156.95,40.01 L157.45,39.24 L157.49,39.17 M160.80,39.13 L160.85,39.21 L161.35,40.09 L161.85,41.18 L162.35,42.47 L162.85,43.94 L163.35,45.55 L163.85,47.29 L164.14,48.35 M165.21,52.46 L165.25,52.63 L165.75,54.65 L166.25,56.70 L166.75,58.76 L167.25,60.83 L167.54,62.01 M168.54,66.14 L168.55,66.17 L169.05,68.19 L169.55,70.18 L170.05,72.15 L170.55,74.08 L170.97,75.67 M172.07,79.77 L172.15,80.05 L172.65,81.84 L173.15,83.60 L173.65,85.32 L174.15,87.00 L174.65,88.65 L174.82,89.21 M176.11,93.27 L176.15,93.41 L176.65,94.92 L177.15,96.41 L177.65,97.87 L178.15,99.29 L178.65,100.69 L179.15,102.06 L179.34,102.56 M180.86,106.54 L180.95,106.75 L181.45,108.00 L181.95,109.22 L182.45,110.42 L182.95,111.59 L183.45,112.74 L183.95,113.86 L184.45,114.97 L184.73,115.59 M186.57,119.43 L186.65,119.58 L187.15,120.57 L187.65,121.55 L188.15,122.50 L188.65,123.44 L189.15,124.36 L189.65,125.26 L190.15,126.14 L190.65,127.01 L191.15,127.86 L191.28,128.08 M193.54,131.70 L193.55,131.71 L194.05,132.47 L194.55,133.21 L195.05,133.94 L195.55,134.65 L196.05,135.35 L196.55,136.04 L197.05,136.71 L197.55,137.37 L198.05,138.01 L198.55,138.64 L199.05,139.26 L199.37,139.65 M202.19,142.85 L202.25,142.91 L202.75,143.44 L203.25,143.95 L203.75,144.46 L204.25,144.94 L204.75,145.42 L205.25,145.89 L205.75,146.35 L206.25,146.79 L206.75,147.22 L207.25,147.64 L207.75,148.06 L208.25,148.45 L208.75,148.84 L209.25,149.22 L209.54,149.44 M213.12,151.79 L213.15,151.81 L213.65,152.10 L214.15,152.37 L214.65,152.64 L215.15,152.89 L215.65,153.14 L216.15,153.38 L216.65,153.60 L217.15,153.82 L217.65,154.02 L218.15,154.22 L218.65,154.40 L219.15,154.58 L219.65,154.75 L220.15,154.90 L220.65,155.05 L221.15,155.19 L221.65,155.31 L222.15,155.43 L222.27,155.46 M226.51,156.04 L226.55,156.04 L227.05,156.06 L227.55,156.08 L228.05,156.08 L228.55,156.07 L229.05,156.05 L229.55,156.03 L230.05,155.99 L230.55,155.94 L231.05,155.89 L231.55,155.82 L232.05,155.74 L232.55,155.66 L233.05,155.56 L233.55,155.45 L234.05,155.34 L234.55,155.21 L235.05,155.07 L235.55,154.93 L236.05,154.77 L236.27,154.70 M240.21,153.05 L240.25,153.03 L240.75,152.78 L241.25,152.51 L241.75,152.23 L242.25,151.94 L242.75,151.64 L243.25,151.33 L243.75,151.01 L244.25,150.67 L244.75,150.33 L245.25,149.97 L245.75,149.60 L246.25,149.22 L246.75,148.83 L247.25,148.43 L247.75,148.01 L248.25,147.58 L248.36,147.49 M251.46,144.55 L251.55,144.45 L252.05,143.93 L252.55,143.40 L253.05,142.85 L253.55,142.29 L254.05,141.72 L254.55,141.13 L255.05,140.53 L255.55,139.92 L256.05,139.29 L256.55,138.65 L257.05,138.00 L257.55,137.34 L257.80,136.99 M260.26,133.50 L260.35,133.36 L260.85,132.61 L261.35,131.85 L261.85,131.07 L262.35,130.28 L262.85,129.48 L263.35,128.67 L263.85,127.84 L264.35,127.01 L264.85,126.16 L265.35,125.30 L265.45,125.13 M267.56,121.42 L267.65,121.26 L268.15,120.37 L268.65,119.47 L269.15,118.57 L269.65,117.67 L270.15,116.77 L270.65,115.87 L271.15,114.98 L271.65,114.10 L272.15,113.23 L272.38,112.83 M274.60,109.19 L274.65,109.11 L275.15,108.36 L275.65,107.64 L276.15,106.96 L276.65,106.32 L277.15,105.71 L277.65,105.16 L278.15,104.65 L278.65,104.19 L279.15,103.79 L279.65,103.45 L280.15,103.16 L280.65,102.93 L281.15,102.77 L281.65,102.66 L281.67,102.66 M285.64,103.94 L285.65,103.95 L286.15,104.34 L286.65,104.78 L287.15,105.25 L287.65,105.76 L288.15,106.29 L288.65,106.86 L289.15,107.45 L289.65,108.06 L290.15,108.69 L290.65,109.33 L291.15,109.99 L291.65,110.65 L292.15,111.32 M294.68,114.76 L294.75,114.85 L295.25,115.53 L295.75,116.19 L296.25,116.85 L296.75,117.50 L297.25,118.15 L297.75,118.78 L298.25,119.40 L298.75,120.02 L299.25,120.62 L299.75,121.21 L300.25,121.79 L300.75,122.35 L300.85,122.46 M303.82,125.53 L303.85,125.56 L304.35,126.02 L304.85,126.48 L305.35,126.92 L305.85,127.34 L306.35,127.76 L306.85,128.15 L307.35,128.54 L307.85,128.91 L308.35,129.26 L308.85,129.60 L309.35,129.93 L309.85,130.25 L310.35,130.55 L310.85,130.83 L311.35,131.11 L311.78,131.33 M315.74,132.94 L315.75,132.94 L316.25,133.09 L316.75,133.22 L317.25,133.34 L317.75,133.45 L318.25,133.54 L318.75,133.63 L319.25,133.70 L319.75,133.76 L320.25,133.80 L320.75,133.84 L321.25,133.86 L321.75,133.87 L322.25,133.87 L322.75,133.86 L323.25,133.84 L323.75,133.81 L324.25,133.76 L324.75,133.71 L325.25,133.64 L325.54,133.60 M329.71,132.60 L329.75,132.59 L330.25,132.42 L330.75,132.24 L331.25,132.06 L331.75,131.86 L332.25,131.66 L332.75,131.45 L333.25,131.23 L333.75,131.01 L334.25,130.77 L334.75,130.53 L335.25,130.28 L335.75,130.02 L336.25,129.76 L336.75,129.49 L337.25,129.21 L337.75,128.93 L338.25,128.64 L338.65,128.41 M342.29,126.16 L342.35,126.13 L342.85,125.81 L343.35,125.48 L343.85,125.16 L344.35,124.84 L344.85,124.52 L345.35,124.20 L345.85,123.88 L346.35,123.56 L346.85,123.25 L347.35,122.94 L347.85,122.63 L348.35,122.33 L348.85,122.04 L349.35,121.74 L349.85,121.46 L350.35,121.18 L350.72,120.98 M354.61,119.21 L354.65,119.20 L355.15,119.02 L355.65,118.86 L356.15,118.71 L356.65,118.58 L357.15,118.46 L357.65,118.36 L358.15,118.27 L358.65,118.19 L359.15,118.13 L359.65,118.09 L360.15,118.06 L360.65,118.05 L361.15,118.05 L361.65,118.07 L362.15,118.10 L362.65,118.15 L363.15,118.21 L363.65,118.29 L364.15,118.38 L364.36,118.42 M368.45,119.65 L368.55,119.69 L369.05,119.89 L369.55,120.09 L370.05,120.31 L370.55,120.53 L371.05,120.75 L371.55,120.99 L372.05,121.22 L372.55,121.46 L373.05,121.71 L373.55,121.96 L374.05,122.21 L374.55,122.46 L375.05,122.71 L375.55,122.97 L376.05,123.22 L376.55,123.48 L377.05,123.74 L377.38,123.91 M381.22,125.81 L381.25,125.82 L381.75,126.06 L382.25,126.29 L382.75,126.51 L383.25,126.74 L383.75,126.96 L384.25,127.17 L384.75,127.38 L385.25,127.58 L385.75,127.78 L386.25,127.98 L386.75,128.17 L387.25,128.35 L387.75,128.53 L388.25,128.70 L388.75,128.87 L389.25,129.03 L389.75,129.19 L390.25,129.34 L390.44,129.40 M394.59,130.43 L394.65,130.44 L395.15,130.54 L395.65,130.63 L396.15,130.72 L396.65,130.81 L397.15,130.89 L397.65,130.96 L398.15,131.03 L398.65,131.10 L399.15,131.16 L399.65,131.22 L400.15,131.28 L400.65,131.33 L401.15,131.38 L401.65,131.42 L402.15,131.46 L402.65,131.50 L403.15,131.54 L403.65,131.57 L404.15,131.61 L404.42,131.62 M408.70,131.85 L408.75,131.85 L409.25,131.88 L409.75,131.90 L410.25,131.93 L410.75,131.96 L411.25,131.99 L411.75,132.02 L412.25,132.05 L412.75,132.09 L413.25,132.13 L413.75,132.17 L414.25,132.21 L414.75,132.26 L415.25,132.31 L415.75,132.36 L416.25,132.42 L416.75,132.48 L417.25,132.54 L417.75,132.61 L418.25,132.69 L418.57,132.74 M422.77,133.57 L422.85,133.59 L423.35,133.71 L423.85,133.84 L424.35,133.97 L424.85,134.11 L425.35,134.25 L425.85,134.40 L426.35,134.56 L426.85,134.71 L427.35,134.88 L427.85,135.04 L428.35,135.21 L428.85,135.39 L429.35,135.57 L429.85,135.75 L430.35,135.94 L430.85,136.13 L431.35,136.32 L431.85,136.52 L432.17,136.64 M436.13,138.29 L436.15,138.30 L436.65,138.51 L437.15,138.73 L437.65,138.94 L438.15,139.16 L438.65,139.37 L439.15,139.59 L439.65,139.80 L440.15,140.01 L440.65,140.23 L441.15,140.44 L441.65,140.65 L442.15,140.86 L442.65,141.06 L443.15,141.27 L443.65,141.47 L444.15,141.67 L444.65,141.86 L445.15,142.06 L445.26,142.10 M449.30,143.54 L449.35,143.56 L449.85,143.72 L450.35,143.87 L450.85,144.03 L451.35,144.17 L451.85,144.32 L452.35,144.46 L452.85,144.59 L453.35,144.72 L453.85,144.84 L454.35,144.96 L454.85,145.08 L455.35,145.19 L455.85,145.29 L456.35,145.39 L456.85,145.49 L457.35,145.58 L457.85,145.66 L458.35,145.74 L458.85,145.82 L458.92,145.83 M463.18,146.27 L463.25,146.28 L463.75,146.31 L464.25,146.33 L464.75,146.36 L465.25,146.37 L465.75,146.39 L466.25,146.40 L466.75,146.41 L467.25,146.41 L467.75,146.41 L468.25,146.41 L468.75,146.40 L469.25,146.39 L469.75,146.38 L470.25,146.37 L470.75,146.36 L471.25,146.34 L471.75,146.32 L472.25,146.30 L472.75,146.28 L473.09,146.27 M477.37,146.09 L477.45,146.09 L477.95,146.07 L478.45,146.06 L478.95,146.05 L479.45,146.04 L479.95,146.04 L480.45,146.04 L480.95,146.04 L481.45,146.05 L481.95,146.06 L482.45,146.08 L482.95,146.10 L483.45,146.12 L483.95,146.15 L484.45,146.19 L484.95,146.23 L485.45,146.28 L485.95,146.33 L486.45,146.40 L486.95,146.46 L487.25,146.51 M491.44,147.39 L491.45,147.39 L491.95,147.53 L492.45,147.67 L492.95,147.83 L493.45,147.99 L493.95,148.15 L494.45,148.33 L494.95,148.51 L495.45,148.69 L495.95,148.88 L496.45,149.08 L496.95,149.28 L497.45,149.49 L497.95,149.71 L498.45,149.93 L498.95,150.15 L499.45,150.38 L499.95,150.61 L500.45,150.85 L500.67,150.95 M504.51,152.84 L504.55,152.87 L505.05,153.12 L505.55,153.37 L506.05,153.62 L506.55,153.87 L507.05,154.12 L507.55,154.37 L508.05,154.62 L508.55,154.87 L509.05,155.11 L509.55,155.35 L510.05,155.59 L510.55,155.82 L511.05,156.05 L511.55,156.28 L512.05,156.50 L512.55,156.72 L513.05,156.93 L513.44,157.10 M517.46,158.58 L517.55,158.61 L518.05,158.76 L518.55,158.91 L519.05,159.05 L519.55,159.18 L520.05,159.31 L520.55,159.43 L521.05,159.54 L521.55,159.64 L522.05,159.74 L522.55,159.83 L523.05,159.91 L523.55,159.98 L524.05,160.04 L524.55,160.10 L525.05,160.15 L525.55,160.19 L526.05,160.22 L526.55,160.24 L527.05,160.26 L527.19,160.27 M531.47,160.11 L531.55,160.10 L532.05,160.05 L532.55,160.00 L533.05,159.94 L533.55,159.88 L534.05,159.81 L534.55,159.75 L535.05,159.68 L535.55,159.61 L536.05,159.53 L536.55,159.46 L537.05,159.40 L537.55,159.33 L538.05,159.26 L538.55,159.20 L539.05,159.15 L539.55,159.10 L540.05,159.06 L540.55,159.03 L541.05,159.02 L541.31,159.01 M545.54,159.56 L545.55,159.57 L546.05,159.74 L546.55,159.93 L547.05,160.16 L547.55,160.41 L548.05,160.70 L548.55,161.01 L549.05,161.36 L549.55,161.74 L550.05,162.16 L550.55,162.61 L551.05,163.09 L551.55,163.61 L552.05,164.16 L552.55,164.75 L553.05,165.37 L553.20,165.56 M555.63,169.06 L555.65,169.10 L556.15,169.90 L556.65,170.73 L557.15,171.59 L557.65,172.47 L558.15,173.37 L558.65,174.29 L559.15,175.23 L559.65,176.19 L560.15,177.16 L560.41,177.68 M562.31,181.49 L562.35,181.58 L562.85,182.61 L563.35,183.65 L563.85,184.69 L564.35,185.74 L564.85,186.79 L565.35,187.84 L565.85,188.90 L566.35,189.95 L566.55,190.38 M568.38,194.23 L568.45,194.38 L568.95,195.42 L569.45,196.47 L569.95,197.50 L570.45,198.54 L570.95,199.57 L571.45,200.59 L571.95,201.61 L572.45,202.63 L572.68,203.09 M574.59,206.90 L574.65,207.01 L575.15,207.99 L575.65,208.96 L576.15,209.92 L576.65,210.87 L577.15,211.82 L577.65,212.76 L578.15,213.69 L578.65,214.62 L579.15,215.53 L579.19,215.61 M581.27,219.33 L581.35,219.47 L581.85,220.35 L582.35,221.21 L582.85,222.07 L583.35,222.92 L583.85,223.76 L584.35,224.60 L584.85,225.43 L585.35,226.24 L585.85,227.06 L586.31,227.80 M588.61,231.40 L588.65,231.46 L589.15,232.22 L589.65,232.98 L590.15,233.72 L590.65,234.46 L591.15,235.20 L591.65,235.92 L592.15,236.64 L592.65,237.35 L593.15,238.06 L593.65,238.76 L594.15,239.45 L594.20,239.52 M596.75,242.94 L596.85,243.07 L597.35,243.72 L597.85,244.37 L598.35,245.00 L598.85,245.64 L599.35,246.26 L599.85,246.88 L600.35,247.49 L600.85,248.10 L601.35,248.70 L601.85,249.30 L602.35,249.89 L602.85,250.48 L602.94,250.59 M605.75,253.76 L605.75,253.77 L606.25,254.31 L606.75,254.86 L607.25,255.40 L607.75,255.93 L608.25,256.46 L608.75,256.98 L609.25,257.50 L609.75,258.02 L610.25,258.53 L610.75,259.03 L611.25,259.53 L611.75,260.03 L612.25,260.52 L612.55,260.82 M615.63,263.74 L615.65,263.75 L616.15,264.21 L616.65,264.67 L617.15,265.12 L617.65,265.57 L618.15,266.01 L618.65,266.45 L619.15,266.89 L619.65,267.32 L620.15,267.75 L620.65,268.17 L621.15,268.59 L621.65,269.01 L622.15,269.43 L622.65,269.84 L623.04,270.16 M626.36,272.80 L626.45,272.87 L626.95,273.25 L627.45,273.63 L627.95,274.01 L628.45,274.39 L628.95,274.77 L629.45,275.14 L629.95,275.51 L630.45,275.87 L630.95,276.24 L631.45,276.60 L631.95,276.96 L632.45,277.32 L632.95,277.67 L633.45,278.02 L633.95,278.37 L634.26,278.59 M637.77,280.98 L637.85,281.03 L638.35,281.37 L638.85,281.70 L639.35,282.02 L639.85,282.35 L640.35,282.68 L640.85,283.00 L641.35,283.32 L641.85,283.64 L642.35,283.96 L642.85,284.28 L643.35,284.60 L643.85,284.91 L644.35,285.22 L644.85,285.54 L645.35,285.85 L645.85,286.16 L646.03,286.26 M649.65,288.47 L649.75,288.53 L650.25,288.82 L650.75,289.12 L651.25,289.42 L651.75,289.72 L652.25,290.01 L652.75,290.30 L653.25,290.60 L653.75,290.89 L654.25,291.18 L654.75,291.47 L655.25,291.76 L655.75,292.05 L656.25,292.34 L656.75,292.63 L657.25,292.91 L657.75,293.20 L658.12,293.41 M661.81,295.49 L661.85,295.52 L662.35,295.80 L662.85,296.07 L663.35,296.35 L663.85,296.63 L664.35,296.91 L664.85,297.18 L665.35,297.46 L665.85,297.73 L666.35,298.01 L666.85,298.28 L667.35,298.56 L667.85,298.83 L668.35,299.10 L668.85,299.37 L669.35,299.64 L669.85,299.91 L670.35,300.18 L670.41,300.21 M674.15,302.21 L674.15,302.21 L674.65,302.48 L675.15,302.74 L675.65,303.00 L676.15,303.27 L676.65,303.53 L677.15,303.79 L677.65,304.05 L678.15,304.31 L678.65,304.57 L679.15,304.82 L679.65,305.08 L680.15,305.34 L680.65,305.59 L681.15,305.85 L681.65,306.10 L682.15,306.35 L682.65,306.61 L682.86,306.71 M686.65,308.60 L686.75,308.64 L687.25,308.89 L687.75,309.13 L688.25,309.37 L688.75,309.61 L689.25,309.85 L689.75,310.09 L690.25,310.33 L690.75,310.57 L691.25,310.80 L691.75,311.04 L692.25,311.27 L692.75,311.50 L693.25,311.73 L693.75,311.96 L694.25,312.19 L694.75,312.42 L695.25,312.65 L695.53,312.77 M699.40,314.48 L699.45,314.50 L699.95,314.72 L700.45,314.93 L700.95,315.14 L701.45,315.35 L701.95,315.56 L702.45,315.77 L702.95,315.98 L703.45,316.18 L703.95,316.39 L704.45,316.59 L704.95,316.79 L705.45,316.99 L705.95,317.19 L706.45,317.39 L706.95,317.58 L707.45,317.77 L707.95,317.97 L708.45,318.16 L708.49,318.17 M712.47,319.64 L712.55,319.67 L713.05,319.84 L713.55,320.02 L714.05,320.19 L714.55,320.36 L715.05,320.53 L715.55,320.70 L716.05,320.87 L716.55,321.04 L717.05,321.20 L717.55,321.36 L718.05,321.52 L718.55,321.68 L719.05,321.84 L719.55,322.00 L720.05,322.15 L720.55,322.30 L721.05,322.46 L721.55,322.61 L721.79,322.68 M725.87,323.83 L725.95,323.85 L726.45,323.99 L726.95,324.12 L727.45,324.25 L727.95,324.38 L728.45,324.51 L728.95,324.63 L729.45,324.76 L729.95,324.88 L730.45,325.00 L730.95,325.12 L731.45,325.24 L731.95,325.36 L732.45,325.47 L732.95,325.59 L733.45,325.70 L733.95,325.81 L734.45,325.92 L734.95,326.03 L735.40,326.12 M739.56,326.94 L739.65,326.96 L740.15,327.05 L740.65,327.14 L741.15,327.23 L741.65,327.32 L742.15,327.41 L742.65,327.49 L743.15,327.57 L743.65,327.66 L744.15,327.74 L744.65,327.82 L745.15,327.89 L745.65,327.97 L746.15,328.05 L746.65,328.12 L747.15,328.19 L747.65,328.26 L748.15,328.33 L748.65,328.40 L749.15,328.47 L749.24,328.48 M753.45,329.00 L753.45,329.00 L753.95,329.05 L754.45,329.11 L754.95,329.16 L755.45,329.21 L755.95,329.27 L756.45,329.32 L756.95,329.36 L757.45,329.41 L757.95,329.46 L758.45,329.51 L758.95,329.55 L759.45,329.59 L759.95,329.64 L760.45,329.68 L760.95,329.72 L761.45,329.76 L761.95,329.80 L762.45,329.83 L762.95,329.87 L763.21,329.89 M767.44,330.16 L767.45,330.16 L767.95,330.19 L768.45,330.21 L768.95,330.24 L769.45,330.27 L769.95,330.29 L770.45,330.31 L770.95,330.34 L771.45,330.36 L771.95,330.38 L772.45,330.40 L772.95,330.42 L773.45,330.44 L773.95,330.46 L774.45,330.47 L774.95,330.49 L775.45,330.51 L775.95,330.52 L776.45,330.54 L776.95,330.55 L777.24,330.56 M781.48,330.64 L781.55,330.65 L782.05,330.65 L782.55,330.66 L783.05,330.66 L783.55,330.67 L784.05,330.67 L784.55,330.68 L785.05,330.68 L785.55,330.68 L786.05,330.68 L786.55,330.69 L787.05,330.69 L787.55,330.69 L788.05,330.69 L788.55,330.69" stroke="#66a82f" stroke-width="2.8"/>
<path d="M116.15,82.85 L116.25,82.85 L116.75,82.84 L117.25,82.83 L117.75,82.82 L118.25,82.79 L118.75,82.76 L119.10,82.74 M123.13,82.24 L123.15,82.23 L123.65,82.14 L124.15,82.04 L124.65,81.93 L125.15,81.81 L125.65,81.68 L126.00,81.58 M129.83,80.22 L129.85,80.21 L130.35,79.98 L130.85,79.75 L131.35,79.49 L131.85,79.23 L132.35,78.95 L132.46,78.88 M135.81,76.58 L135.85,76.55 L136.35,76.14 L136.85,75.71 L137.35,75.26 L137.85,74.79 L138.01,74.63 M140.75,71.62 L140.75,71.61 L141.25,70.98 L141.75,70.32 L142.25,69.64 L142.52,69.26 M144.72,65.84 L144.75,65.78 L145.25,64.92 L145.75,64.02 L146.16,63.27 M147.98,59.63 L148.05,59.47 L148.55,58.39 L149.05,57.27 L149.19,56.94 M150.77,53.19 L150.85,52.99 L151.35,51.74 L151.85,50.48 L151.86,50.45 M153.34,46.66 L153.35,46.63 L153.85,45.36 L154.35,44.11 L154.43,43.92 M156.09,40.21 L156.15,40.09 L156.65,39.19 L157.15,38.43 L157.65,37.83 L157.73,37.76 M160.82,38.94 L160.85,38.99 L161.35,40.01 L161.85,41.22 L162.01,41.64 M163.25,45.51 L163.25,45.52 L163.75,47.30 L164.03,48.36 M165.04,52.30 L165.05,52.32 L165.55,54.35 L165.75,55.16 M166.71,59.12 L166.75,59.29 L167.25,61.36 L167.40,61.98 M168.37,65.94 L168.45,66.27 L168.95,68.28 L169.08,68.80 M170.08,72.74 L170.15,73.00 L170.65,74.91 L170.83,75.59 M171.90,79.52 L171.95,79.71 L172.45,81.49 L172.70,82.36 M173.84,86.27 L173.85,86.30 L174.35,87.95 L174.70,89.09 M175.94,92.97 L175.95,93.01 L176.45,94.52 L176.87,95.76 M178.21,99.60 L178.25,99.71 L178.75,101.08 L179.23,102.37 M180.70,106.17 L180.75,106.30 L181.25,107.53 L181.75,108.75 L181.81,108.90 M183.42,112.63 L183.45,112.69 L183.95,113.80 L184.45,114.89 L184.65,115.32 M186.43,118.98 L186.45,119.02 L186.95,120.01 L187.45,120.97 L187.78,121.60 M189.74,125.16 L189.75,125.17 L190.25,126.03 L190.75,126.88 L191.24,127.70 M193.43,131.13 L193.45,131.16 L193.95,131.91 L194.45,132.63 L194.95,133.35 L195.10,133.56 M197.54,136.81 L197.55,136.82 L198.05,137.45 L198.55,138.06 L199.05,138.65 L199.42,139.09 M202.17,142.09 L202.25,142.17 L202.75,142.68 L203.25,143.17 L203.75,143.65 L204.25,144.11 L204.28,144.14 M207.38,146.77 L207.45,146.82 L207.95,147.21 L208.45,147.58 L208.95,147.93 L209.45,148.28 L209.77,148.50 M213.27,150.57 L213.35,150.62 L213.85,150.87 L214.35,151.11 L214.85,151.34 L215.35,151.56 L215.85,151.77 L215.95,151.81 M219.81,153.05 L219.85,153.06 L220.35,153.18 L220.85,153.28 L221.35,153.38 L221.85,153.46 L222.35,153.53 L222.71,153.58 M226.77,153.72 L226.85,153.72 L227.35,153.68 L227.85,153.64 L228.35,153.59 L228.85,153.52 L229.35,153.45 L229.70,153.39 M233.63,152.35 L233.65,152.34 L234.15,152.16 L234.65,151.96 L235.15,151.76 L235.65,151.54 L236.15,151.31 L236.35,151.22 M239.89,149.22 L239.95,149.18 L240.45,148.84 L240.95,148.50 L241.45,148.14 L241.95,147.77 L242.29,147.51 M245.37,144.86 L245.45,144.78 L245.95,144.30 L246.45,143.80 L246.95,143.29 L247.45,142.77 L247.45,142.77 M250.13,139.70 L250.15,139.67 L250.65,139.05 L251.15,138.41 L251.65,137.76 L251.94,137.37 M254.28,134.05 L254.35,133.93 L254.85,133.17 L255.35,132.39 L255.85,131.60 L255.87,131.56 M257.95,128.07 L257.95,128.07 L258.45,127.18 L258.95,126.28 L259.38,125.49 M261.27,121.88 L261.35,121.72 L261.85,120.73 L262.35,119.72 L262.58,119.25 M264.35,115.58 L264.35,115.58 L264.85,114.52 L265.35,113.46 L265.61,112.91 M267.34,109.23 L267.35,109.21 L267.85,108.16 L268.35,107.13 L268.62,106.57 M270.49,102.96 L270.55,102.86 L271.05,101.99 L271.55,101.16 L272.02,100.44 M274.73,97.44 L274.75,97.43 L275.25,97.15 L275.75,96.96 L276.25,96.86 L276.75,96.85 L277.25,96.94 L277.53,97.03 M280.57,99.65 L280.65,99.75 L281.15,100.44 L281.65,101.18 L282.15,101.97 L282.23,102.09 M284.24,105.62 L284.25,105.63 L284.75,106.57 L285.25,107.51 L285.63,108.23 M287.51,111.84 L287.55,111.92 L288.05,112.87 L288.55,113.82 L288.88,114.44 M290.84,118.01 L290.85,118.04 L291.35,118.92 L291.85,119.79 L292.31,120.57 M294.45,124.03 L294.45,124.04 L294.95,124.80 L295.45,125.55 L295.95,126.28 L296.09,126.48 M298.52,129.74 L298.55,129.79 L299.05,130.41 L299.55,131.02 L300.05,131.60 L300.40,132.01 M303.22,134.95 L303.25,134.98 L303.75,135.45 L304.25,135.90 L304.75,136.34 L305.25,136.76 L305.42,136.90 M308.71,139.29 L308.75,139.31 L309.25,139.62 L309.75,139.92 L310.25,140.20 L310.75,140.47 L311.25,140.72 L311.28,140.74 M315.05,142.25 L315.15,142.28 L315.65,142.42 L316.15,142.56 L316.65,142.68 L317.15,142.79 L317.65,142.89 L317.92,142.94 M321.96,143.30 L322.05,143.30 L322.55,143.29 L323.05,143.28 L323.55,143.25 L324.05,143.22 L324.55,143.17 L324.90,143.14 M328.90,142.41 L328.95,142.39 L329.45,142.26 L329.95,142.12 L330.45,141.98 L330.95,141.82 L331.45,141.66 L331.73,141.57 M335.52,140.09 L335.55,140.07 L336.05,139.85 L336.55,139.62 L337.05,139.39 L337.55,139.15 L338.05,138.91 L338.19,138.84 M341.80,136.97 L341.85,136.94 L342.35,136.67 L342.85,136.40 L343.35,136.13 L343.85,135.85 L344.35,135.58 L344.39,135.56 M347.96,133.61 L348.05,133.56 L348.55,133.29 L349.05,133.03 L349.55,132.77 L350.05,132.52 L350.55,132.26 L350.58,132.25 M354.28,130.56 L354.35,130.53 L354.85,130.33 L355.35,130.14 L355.85,129.96 L356.35,129.78 L356.85,129.61 L357.04,129.55 M360.98,128.56 L361.05,128.54 L361.55,128.46 L362.05,128.38 L362.55,128.32 L363.05,128.26 L363.55,128.21 L363.91,128.18 M367.97,128.12 L368.05,128.12 L368.55,128.15 L369.05,128.18 L369.55,128.22 L370.05,128.26 L370.55,128.31 L370.91,128.35 M374.94,128.87 L374.95,128.87 L375.45,128.95 L375.95,129.02 L376.45,129.10 L376.95,129.17 L377.45,129.25 L377.86,129.31 M381.89,129.87 L381.95,129.88 L382.45,129.94 L382.95,130.00 L383.45,130.05 L383.95,130.10 L384.45,130.15 L384.82,130.18 M388.88,130.38 L388.95,130.38 L389.45,130.39 L389.95,130.39 L390.45,130.38 L390.95,130.38 L391.45,130.36 L391.83,130.35 M395.89,130.06 L395.95,130.06 L396.45,130.00 L396.95,129.95 L397.45,129.89 L397.95,129.82 L398.45,129.76 L398.81,129.71 M402.83,129.09 L402.85,129.08 L403.35,129.00 L403.85,128.92 L404.35,128.84 L404.85,128.76 L405.35,128.68 L405.74,128.62 M409.77,128.07 L409.85,128.06 L410.35,128.01 L410.85,127.97 L411.35,127.93 L411.85,127.89 L412.35,127.87 L412.71,127.85 M416.78,127.93 L416.85,127.94 L417.35,127.98 L417.85,128.04 L418.35,128.11 L418.85,128.18 L419.35,128.26 L419.70,128.33 M423.63,129.33 L423.65,129.34 L424.15,129.50 L424.65,129.68 L425.15,129.86 L425.65,130.04 L426.15,130.24 L426.40,130.34 M430.12,131.99 L430.15,132.00 L430.65,132.25 L431.15,132.49 L431.65,132.74 L432.15,132.99 L432.65,133.24 L432.76,133.30 M436.39,135.15 L436.45,135.18 L436.95,135.43 L437.45,135.69 L437.95,135.94 L438.45,136.18 L438.95,136.43 L439.03,136.46 M442.72,138.16 L442.75,138.17 L443.25,138.38 L443.75,138.59 L444.25,138.79 L444.75,138.98 L445.25,139.17 L445.46,139.25 M449.34,140.47 L449.35,140.47 L449.85,140.60 L450.35,140.71 L450.85,140.83 L451.35,140.93 L451.85,141.03 L452.22,141.09 M456.26,141.55 L456.35,141.55 L456.85,141.57 L457.35,141.58 L457.85,141.58 L458.35,141.58 L458.85,141.57 L459.21,141.56 M463.25,141.16 L463.35,141.15 L463.85,141.07 L464.35,140.98 L464.85,140.89 L465.35,140.80 L465.85,140.70 L466.15,140.63 M470.11,139.70 L470.15,139.69 L470.65,139.56 L471.15,139.43 L471.65,139.31 L472.15,139.18 L472.65,139.06 L472.97,138.98 M476.95,138.15 L477.05,138.14 L477.55,138.07 L478.05,138.00 L478.55,137.95 L479.05,137.91 L479.55,137.88 L479.89,137.87 M483.93,138.21 L483.95,138.21 L484.45,138.32 L484.95,138.46 L485.45,138.61 L485.95,138.77 L486.45,138.96 L486.74,139.07 M490.33,140.98 L490.35,140.99 L490.85,141.33 L491.35,141.67 L491.85,142.04 L492.35,142.41 L492.72,142.70 M495.81,145.34 L495.85,145.38 L496.35,145.84 L496.85,146.31 L497.35,146.78 L497.85,147.26 L497.96,147.37 M500.85,150.22 L500.95,150.32 L501.45,150.82 L501.95,151.32 L502.45,151.82 L502.94,152.30 M505.86,155.14 L505.95,155.23 L506.45,155.70 L506.95,156.17 L507.45,156.63 L507.95,157.08 L508.02,157.15 M511.11,159.79 L511.15,159.82 L511.65,160.22 L512.15,160.61 L512.65,160.99 L513.15,161.36 L513.45,161.58 M516.85,163.81 L516.95,163.87 L517.45,164.15 L517.95,164.43 L518.45,164.70 L518.95,164.95 L519.45,165.19 L519.46,165.20 M523.24,166.69 L523.25,166.69 L523.75,166.84 L524.25,166.98 L524.75,167.11 L525.25,167.23 L525.75,167.34 L526.09,167.40 M530.13,167.83 L530.15,167.83 L530.65,167.84 L531.15,167.84 L531.65,167.84 L532.15,167.82 L532.65,167.80 L533.08,167.77 M537.12,167.33 L537.15,167.32 L537.65,167.26 L538.15,167.19 L538.65,167.12 L539.15,167.05 L539.65,166.99 L540.05,166.94 M544.11,166.79 L544.15,166.79 L544.65,166.84 L545.15,166.90 L545.65,166.99 L546.15,167.10 L546.65,167.23 L546.99,167.34 M550.54,169.29 L550.55,169.29 L551.05,169.70 L551.55,170.15 L552.05,170.63 L552.55,171.15 L552.69,171.30 M555.22,174.49 L555.25,174.54 L555.75,175.27 L556.25,176.04 L556.75,176.83 L556.83,176.96 M558.86,180.48 L558.95,180.64 L559.45,181.57 L559.95,182.51 L560.25,183.08 M562.08,186.72 L562.15,186.87 L562.65,187.89 L563.15,188.92 L563.36,189.37 M565.11,193.05 L565.15,193.13 L565.65,194.19 L566.15,195.26 L566.37,195.71 M568.09,199.40 L568.15,199.52 L568.65,200.58 L569.15,201.64 L569.35,202.07 M571.10,205.74 L571.15,205.84 L571.65,206.88 L572.15,207.92 L572.38,208.40 M574.18,212.05 L574.25,212.18 L574.75,213.18 L575.25,214.17 L575.51,214.68 M577.37,218.30 L577.45,218.44 L577.95,219.39 L578.45,220.33 L578.76,220.90 M580.71,224.47 L580.75,224.55 L581.25,225.44 L581.75,226.32 L582.16,227.04 M584.21,230.55 L584.25,230.62 L584.75,231.46 L585.25,232.28 L585.73,233.08 M587.90,236.52 L587.95,236.61 L588.45,237.38 L588.95,238.15 L589.45,238.91 L589.51,238.99 M591.79,242.36 L591.85,242.44 L592.35,243.16 L592.85,243.86 L593.35,244.56 L593.50,244.77 M595.91,248.04 L595.95,248.08 L596.45,248.74 L596.95,249.39 L597.45,250.03 L597.72,250.37 M600.28,253.53 L600.35,253.62 L600.85,254.22 L601.35,254.81 L601.85,255.39 L602.19,255.78 M604.89,258.82 L604.95,258.88 L605.45,259.42 L605.95,259.96 L606.45,260.49 L606.91,260.97 M609.77,263.87 L609.85,263.95 L610.35,264.43 L610.85,264.92 L611.35,265.39 L611.85,265.86 L611.90,265.91 M614.91,268.65 L614.95,268.68 L615.45,269.12 L615.95,269.55 L616.45,269.98 L616.95,270.40 L617.15,270.57 M620.31,273.13 L620.35,273.17 L620.85,273.55 L621.35,273.94 L621.85,274.32 L622.35,274.70 L622.65,274.93 M625.95,277.31 L626.05,277.38 L626.55,277.72 L627.05,278.07 L627.55,278.41 L628.05,278.74 L628.39,278.97 M631.82,281.17 L631.85,281.19 L632.35,281.50 L632.85,281.80 L633.35,282.11 L633.85,282.41 L634.34,282.70 M637.87,284.72 L637.95,284.76 L638.45,285.04 L638.95,285.31 L639.45,285.58 L639.95,285.85 L640.45,286.12 L640.46,286.13 M644.08,287.99 L644.15,288.03 L644.65,288.27 L645.15,288.52 L645.65,288.77 L646.15,289.01 L646.65,289.25 L646.73,289.29 M650.41,291.03 L650.45,291.05 L650.95,291.27 L651.45,291.50 L651.95,291.73 L652.45,291.96 L652.95,292.18 L653.10,292.25 M656.82,293.88 L656.85,293.89 L657.35,294.11 L657.85,294.32 L658.35,294.54 L658.85,294.75 L659.35,294.96 L659.54,295.04 M663.29,296.61 L663.35,296.63 L663.85,296.84 L664.35,297.05 L664.85,297.25 L665.35,297.46 L665.85,297.66 L666.02,297.73 M669.79,299.26 L669.85,299.28 L670.35,299.48 L670.85,299.68 L671.35,299.88 L671.85,300.08 L672.35,300.28 L672.53,300.35 M676.31,301.86 L676.35,301.87 L676.85,302.07 L677.35,302.26 L677.85,302.46 L678.35,302.66 L678.85,302.85 L679.06,302.94 M682.85,304.42 L682.95,304.45 L683.45,304.65 L683.95,304.84 L684.45,305.03 L684.95,305.23 L685.45,305.42 L685.60,305.48 M689.41,306.93 L689.45,306.95 L689.95,307.14 L690.45,307.32 L690.95,307.51 L691.45,307.70 L691.95,307.89 L692.17,307.97 M695.99,309.37 L696.05,309.40 L696.55,309.58 L697.05,309.76 L697.55,309.94 L698.05,310.12 L698.55,310.30 L698.76,310.37 M702.60,311.71 L702.65,311.73 L703.15,311.90 L703.65,312.07 L704.15,312.24 L704.65,312.41 L705.15,312.57 L705.40,312.66 M709.27,313.91 L709.35,313.93 L709.85,314.09 L710.35,314.25 L710.85,314.40 L711.35,314.55 L711.85,314.71 L712.09,314.78 M716.00,315.92 L716.05,315.94 L716.55,316.08 L717.05,316.21 L717.55,316.35 L718.05,316.49 L718.55,316.62 L718.84,316.70 M722.78,317.71 L722.85,317.73 L723.35,317.85 L723.85,317.97 L724.35,318.09 L724.85,318.21 L725.35,318.33 L725.65,318.40 M729.63,319.27 L729.65,319.27 L730.15,319.37 L730.65,319.47 L731.15,319.57 L731.65,319.67 L732.15,319.77 L732.52,319.84 M736.53,320.56 L736.55,320.56 L737.05,320.64 L737.55,320.73 L738.05,320.81 L738.55,320.88 L739.05,320.96 L739.44,321.02 M743.47,321.59 L743.55,321.60 L744.05,321.67 L744.55,321.73 L745.05,321.79 L745.55,321.85 L746.05,321.91 L746.40,321.95 M750.45,322.38 L750.45,322.38 L750.95,322.43 L751.45,322.48 L751.95,322.52 L752.45,322.57 L752.95,322.61 L753.39,322.65 M757.44,322.95 L757.45,322.95 L757.95,322.99 L758.45,323.02 L758.95,323.05 L759.45,323.08 L759.95,323.11 L760.39,323.14 M764.45,323.35 L764.55,323.35 L765.05,323.37 L765.55,323.39 L766.05,323.41 L766.55,323.43 L767.05,323.45 L767.40,323.46 M771.47,323.59 L771.55,323.59 L772.05,323.61 L772.55,323.62 L773.05,323.63 L773.55,323.64 L774.05,323.65 L774.42,323.66 M778.49,323.73 L778.55,323.73 L779.05,323.74 L779.55,323.74 L780.05,323.75 L780.55,323.75 L781.05,323.76 L781.44,323.76 M785.51,323.78 L785.55,323.78 L786.05,323.79 L786.55,323.79 L787.05,323.79 L787.55,323.79 L788.05,323.79 L788.46,323.79" stroke="#ff9a0a" stroke-width="2.95"/>
</g>
<path d="M116.15,462.9 v9.7 M200.03,462.9 v9.7 M283.91,462.9 v9.7 M367.79,462.9 v9.7 M451.68,462.9 v9.7 M535.56,462.9 v9.7 M619.44,462.9 v9.7 M703.32,462.9 v9.7 M787.20,462.9 v9.7 M116.15,65.87 h-9.7 M116.15,124.30 h-9.7 M116.15,182.73 h-9.7 M116.15,241.16 h-9.7 M116.15,299.59 h-9.7 M116.15,358.03 h-9.7 M116.15,416.46 h-9.7" stroke="#000" stroke-width="2.2" fill="none"/>
<rect x="116.15" y="19.1" width="671.0500000000001" height="443.79999999999995" fill="none" stroke="#000" stroke-width="2.2"/>
<g font-family="'Liberation Serif', serif" font-size="24" fill="#000">
<text x="116.2" y="498.9" text-anchor="middle" textLength="12.25" lengthAdjust="spacingAndGlyphs">0</text>
<text x="200.0" y="498.9" text-anchor="middle" textLength="49.0" lengthAdjust="spacingAndGlyphs">1000</text>
<text x="283.9" y="498.9" text-anchor="middle" textLength="49.0" lengthAdjust="spacingAndGlyphs">2000</text>
<text x="367.8" y="498.9" text-anchor="middle" textLength="49.0" lengthAdjust="spacingAndGlyphs">3000</text>
<text x="451.7" y="498.9" text-anchor="middle" textLength="49.0" lengthAdjust="spacingAndGlyphs">4000</text>
<text x="535.6" y="498.9" text-anchor="middle" textLength="49.0" lengthAdjust="spacingAndGlyphs">5000</text>
<text x="619.4" y="498.9" text-anchor="middle" textLength="49.0" lengthAdjust="spacingAndGlyphs">6000</text>
<text x="703.3" y="498.9" text-anchor="middle" textLength="49.0" lengthAdjust="spacingAndGlyphs">7000</text>
<text x="787.2" y="498.9" text-anchor="middle" textLength="49.0" lengthAdjust="spacingAndGlyphs">8000</text>
<text x="98.4" y="74.5" text-anchor="end" textLength="24.5" lengthAdjust="spacingAndGlyphs">20</text>
<text x="98.4" y="132.9" text-anchor="end" textLength="24.5" lengthAdjust="spacingAndGlyphs">10</text>
<text x="98.4" y="191.3" text-anchor="end" textLength="12.25" lengthAdjust="spacingAndGlyphs">0</text>
<text x="98.4" y="249.8" text-anchor="end" textLength="24.5" lengthAdjust="spacingAndGlyphs">10</text>
<text x="55.6" y="250.4" textLength="17" lengthAdjust="spacingAndGlyphs">−</text>
<text x="98.4" y="308.2" text-anchor="end" textLength="24.5" lengthAdjust="spacingAndGlyphs">20</text>
<text x="55.6" y="308.8" textLength="17" lengthAdjust="spacingAndGlyphs">−</text>
<text x="98.4" y="366.6" text-anchor="end" textLength="24.5" lengthAdjust="spacingAndGlyphs">30</text>
<text x="55.6" y="367.2" textLength="17" lengthAdjust="spacingAndGlyphs">−</text>
<text x="98.4" y="425.1" text-anchor="end" textLength="24.5" lengthAdjust="spacingAndGlyphs">40</text>
<text x="55.6" y="425.7" textLength="17" lengthAdjust="spacingAndGlyphs">−</text>
</g>
<text x="451.6" y="532" text-anchor="middle" font-family="'Liberation Serif', serif" font-size="24.5" textLength="166" lengthAdjust="spacingAndGlyphs">Frequency (Hz)</text>
<text transform="translate(37.8,241.5) rotate(-90)" text-anchor="middle" font-family="'Liberation Serif', serif" font-size="24.5" textLength="171" lengthAdjust="spacingAndGlyphs">Amplitude (dB)</text>
<rect x="604.4" y="30.2" width="171.8" height="156.9" rx="4.4" ry="4.4" fill="#fff" fill-opacity="0.8" stroke="#ccc" stroke-opacity="0.8" stroke-width="2.7"/>
<path d="M612.3,46.1 H656.7" stroke="#000" stroke-width="1.3"/>
<path d="M610.8,75.65 H658.1" stroke="#ff5a45" stroke-width="4.4"/>
<path d="M613.0,105.4 H656.0" stroke="#0b78ba" stroke-width="3.0" stroke-dasharray="17.2 3.9 3.0 3.99"/>
<path d="M613.0,135.2 H656.0" stroke="#66a82f" stroke-width="2.8" stroke-dasharray="9.80 4.24"/>
<path d="M613.0,165.7 H656.0" stroke="#ff9a0a" stroke-width="2.95" stroke-dasharray="2.95 4.07"/>
<g font-family="'Liberation Serif', serif" font-size="22.5" fill="#000">
<text x="673.1" y="53.8" textLength="95.0" lengthAdjust="spacingAndGlyphs">Spectrum</text>
<text x="673.1" y="83.3" textLength="83.2" lengthAdjust="spacingAndGlyphs">G. truth</text>
<text x="673.1" y="113.0" textLength="25.0" lengthAdjust="spacingAndGlyphs">L1</text>
<text x="673.1" y="143.0" textLength="48.6" lengthAdjust="spacingAndGlyphs">LAR</text>
<text x="673.1" y="173.8" textLength="91.8" lengthAdjust="spacingAndGlyphs">LAR/CE</text>
</g>
</svg>
</body></html>
